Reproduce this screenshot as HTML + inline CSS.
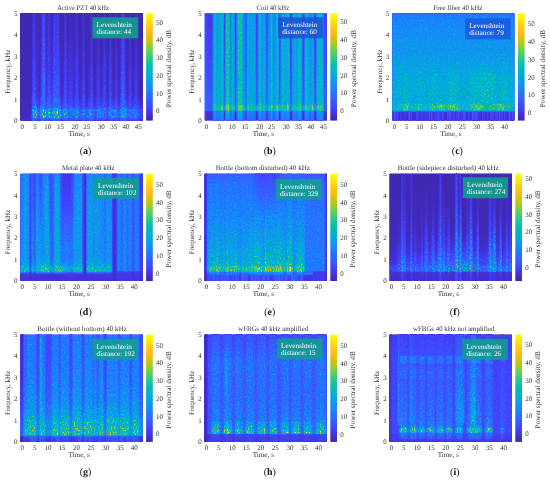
<!DOCTYPE html><html><head><meta charset="utf-8"><title>Spectrograms</title><style>html,body{margin:0;padding:0;background:#fff}svg{display:block}text{font-family:"Liberation Serif","DejaVu Serif",serif;fill:#333;text-rendering:geometricPrecision}</style></head><body>
<svg width="550" height="483" viewBox="0 0 550 483">
<defs>
<linearGradient id="cb" x1="0" y1="0" x2="0" y2="1"><stop offset="0.000" stop-color="#ffff00"/><stop offset="0.062" stop-color="#fde701"/><stop offset="0.125" stop-color="#ffca12"/><stop offset="0.188" stop-color="#fcba1a"/><stop offset="0.250" stop-color="#cdc40b"/><stop offset="0.312" stop-color="#8dcf34"/><stop offset="0.375" stop-color="#4acf69"/><stop offset="0.438" stop-color="#1dc795"/><stop offset="0.500" stop-color="#00bcb7"/><stop offset="0.562" stop-color="#00b1d5"/><stop offset="0.625" stop-color="#0b9fe8"/><stop offset="0.688" stop-color="#188af8"/><stop offset="0.750" stop-color="#2373ff"/><stop offset="0.812" stop-color="#395aff"/><stop offset="0.875" stop-color="#4045fc"/><stop offset="0.938" stop-color="#4233db"/><stop offset="1.000" stop-color="#3e26a8"/></linearGradient>
<filter id="f0" filterUnits="userSpaceOnUse" x="20.4" y="13.3" width="122.4" height="107.3" color-interpolation-filters="sRGB"><feTurbulence type="fractalNoise" baseFrequency="0.7 0.5" numOctaves="2" seed="1" result="t"/><feColorMatrix in="t" type="matrix" values="2 0 0 0 -0.5 2 0 0 0 -0.5 2 0 0 0 -0.5 0 0 0 0 1" result="n0"/><feComponentTransfer in="n0" result="n"><feFuncR type="gamma" exponent="3.00"/><feFuncG type="gamma" exponent="3.00"/><feFuncB type="gamma" exponent="3.00"/></feComponentTransfer><feComposite in="SourceGraphic" in2="n0" operator="arithmetic" k1="0.400" k2="0.800" k3="0.000" k4="-0.000" result="L"/><feComposite in="SourceGraphic" in2="SourceGraphic" operator="arithmetic" k1="1" k2="0" k3="0" k4="0" result="sq"/><feComposite in="sq" in2="n" operator="arithmetic" k1="2.400" k2="0" k3="0" k4="0" result="ng"/><feComposite in="L" in2="sq" operator="arithmetic" k1="0" k2="1" k3="-0.4896" k4="0.4896" result="B"/><feComposite in="B" in2="ng" operator="arithmetic" k1="0" k2="1" k3="1" k4="-0.4896" result="g"/><feGaussianBlur in="g" stdDeviation="0.18" result="b"/><feComponentTransfer in="b"><feFuncR type="table" tableValues="0.242 0.249 0.254 0.258 0.260 0.261 0.259 0.256 0.251 0.244 0.237 0.231 0.221 0.208 0.187 0.159 0.130 0.114 0.106 0.102 0.091 0.073 0.063 0.052 0.036 0.019 0.000 0.000 0.000 0.000 0.000 0.000 0.000 0.044 0.078 0.102 0.127 0.162 0.211 0.269 0.327 0.392 0.462 0.531 0.600 0.668 0.732 0.791 0.846 0.897 0.944 0.985 1.000 1.000 1.000 1.000 1.000 1.000 1.000 0.991 0.986 0.987 0.990 0.998"/><feFuncG type="table" tableValues="0.150 0.162 0.175 0.188 0.201 0.217 0.235 0.253 0.272 0.291 0.312 0.334 0.357 0.381 0.406 0.433 0.459 0.483 0.506 0.528 0.549 0.571 0.591 0.611 0.630 0.649 0.667 0.685 0.701 0.716 0.727 0.736 0.742 0.750 0.762 0.774 0.787 0.798 0.806 0.812 0.816 0.817 0.816 0.812 0.806 0.799 0.787 0.774 0.760 0.747 0.736 0.728 0.726 0.740 0.764 0.790 0.818 0.846 0.875 0.903 0.930 0.956 0.982 1.000"/><feFuncB type="table" tableValues="0.660 0.713 0.763 0.814 0.862 0.903 0.937 0.966 0.991 1.000 1.000 1.000 1.000 1.000 1.000 1.000 1.000 1.000 1.000 0.986 0.966 0.949 0.932 0.918 0.907 0.892 0.873 0.850 0.825 0.797 0.767 0.734 0.699 0.665 0.633 0.600 0.564 0.523 0.479 0.432 0.380 0.327 0.275 0.222 0.169 0.121 0.081 0.048 0.033 0.038 0.058 0.095 0.128 0.122 0.098 0.075 0.055 0.038 0.021 0.006 0.000 0.000 0.000 0.000"/></feComponentTransfer></filter><linearGradient id="g0_0" gradientUnits="userSpaceOnUse" x1="0" y1="13.3" x2="0" y2="120.6"><stop offset="0.000" stop-color="#030303"/><stop offset="0.800" stop-color="#050505"/><stop offset="0.984" stop-color="#080808"/><stop offset="1.000" stop-color="#141414"/></linearGradient><linearGradient id="g0_1" gradientUnits="userSpaceOnUse" x1="0" y1="13.3" x2="0" y2="120.6"><stop offset="0.000" stop-color="#454545" stop-opacity="0.60"/><stop offset="0.400" stop-color="#474747" stop-opacity="0.70"/><stop offset="0.600" stop-color="#4a4a4a" stop-opacity="0.80"/><stop offset="0.800" stop-color="#4d4d4d" stop-opacity="0.95"/><stop offset="1.000" stop-color="#4d4d4d"/></linearGradient><linearGradient id="g0_2" gradientUnits="userSpaceOnUse" x1="0" y1="13.3" x2="0" y2="120.6"><stop offset="0.200" stop-color="#333333" stop-opacity="0.00"/><stop offset="0.400" stop-color="#333333" stop-opacity="0.20"/><stop offset="0.600" stop-color="#383838" stop-opacity="0.40"/><stop offset="0.800" stop-color="#404040" stop-opacity="0.60"/><stop offset="1.000" stop-color="#404040" stop-opacity="0.70"/></linearGradient><linearGradient id="g0_3" gradientUnits="userSpaceOnUse" x1="0" y1="13.3" x2="0" y2="120.6"><stop offset="0.760" stop-color="#404040" stop-opacity="0.00"/><stop offset="0.860" stop-color="#4d4d4d" stop-opacity="0.50"/><stop offset="0.890" stop-color="#5c5c5c"/><stop offset="0.900" stop-color="#808080"/><stop offset="0.970" stop-color="#808080"/><stop offset="0.984" stop-color="#404040"/><stop offset="1.000" stop-color="#333333"/></linearGradient><filter id="f1" filterUnits="userSpaceOnUse" x="204.6" y="13.3" width="122.4" height="107.3" color-interpolation-filters="sRGB"><feTurbulence type="fractalNoise" baseFrequency="0.7 0.5" numOctaves="2" seed="2" result="t"/><feColorMatrix in="t" type="matrix" values="2 0 0 0 -0.5 2 0 0 0 -0.5 2 0 0 0 -0.5 0 0 0 0 1" result="n0"/><feComponentTransfer in="n0" result="n"><feFuncR type="gamma" exponent="3.00"/><feFuncG type="gamma" exponent="3.00"/><feFuncB type="gamma" exponent="3.00"/></feComponentTransfer><feComposite in="SourceGraphic" in2="n0" operator="arithmetic" k1="0.120" k2="0.940" k3="0.020" k4="-0.010" result="L"/><feComposite in="SourceGraphic" in2="SourceGraphic" operator="arithmetic" k1="1" k2="0" k3="0" k4="0" result="sq"/><feComposite in="sq" in2="n" operator="arithmetic" k1="0.250" k2="0" k3="0" k4="0" result="ng"/><feComposite in="L" in2="sq" operator="arithmetic" k1="0" k2="1" k3="-0.0510" k4="0.0510" result="B"/><feComposite in="B" in2="ng" operator="arithmetic" k1="0" k2="1" k3="1" k4="-0.0510" result="g"/><feGaussianBlur in="g" stdDeviation="0.25" result="b"/><feComponentTransfer in="b"><feFuncR type="table" tableValues="0.242 0.249 0.254 0.258 0.260 0.261 0.259 0.256 0.251 0.244 0.237 0.231 0.221 0.208 0.187 0.159 0.130 0.114 0.106 0.102 0.091 0.073 0.063 0.052 0.036 0.019 0.000 0.000 0.000 0.000 0.000 0.000 0.000 0.044 0.078 0.102 0.127 0.162 0.211 0.269 0.327 0.392 0.462 0.531 0.600 0.668 0.732 0.791 0.846 0.897 0.944 0.985 1.000 1.000 1.000 1.000 1.000 1.000 1.000 0.991 0.986 0.987 0.990 0.998"/><feFuncG type="table" tableValues="0.150 0.162 0.175 0.188 0.201 0.217 0.235 0.253 0.272 0.291 0.312 0.334 0.357 0.381 0.406 0.433 0.459 0.483 0.506 0.528 0.549 0.571 0.591 0.611 0.630 0.649 0.667 0.685 0.701 0.716 0.727 0.736 0.742 0.750 0.762 0.774 0.787 0.798 0.806 0.812 0.816 0.817 0.816 0.812 0.806 0.799 0.787 0.774 0.760 0.747 0.736 0.728 0.726 0.740 0.764 0.790 0.818 0.846 0.875 0.903 0.930 0.956 0.982 1.000"/><feFuncB type="table" tableValues="0.660 0.713 0.763 0.814 0.862 0.903 0.937 0.966 0.991 1.000 1.000 1.000 1.000 1.000 1.000 1.000 1.000 1.000 1.000 0.986 0.966 0.949 0.932 0.918 0.907 0.892 0.873 0.850 0.825 0.797 0.767 0.734 0.699 0.665 0.633 0.600 0.564 0.523 0.479 0.432 0.380 0.327 0.275 0.222 0.169 0.121 0.081 0.048 0.033 0.038 0.058 0.095 0.128 0.122 0.098 0.075 0.055 0.038 0.021 0.006 0.000 0.000 0.000 0.000"/></feComponentTransfer></filter><linearGradient id="g1_0" gradientUnits="userSpaceOnUse" x1="0" y1="13.3" x2="0" y2="120.6"><stop offset="0.000" stop-color="#171717"/><stop offset="0.400" stop-color="#1f1f1f"/><stop offset="0.800" stop-color="#303030"/><stop offset="0.906" stop-color="#333333"/><stop offset="0.918" stop-color="#0d0d0d"/><stop offset="1.000" stop-color="#0b0b0b"/></linearGradient><linearGradient id="g1_1" gradientUnits="userSpaceOnUse" x1="0" y1="13.3" x2="0" y2="120.6"><stop offset="0.000" stop-color="#878787"/><stop offset="0.800" stop-color="#878787"/><stop offset="0.850" stop-color="#8c8c8c"/><stop offset="0.868" stop-color="#9e9e9e"/><stop offset="0.900" stop-color="#9e9e9e"/><stop offset="0.916" stop-color="#6b6b6b"/><stop offset="1.000" stop-color="#5c5c5c"/></linearGradient><linearGradient id="g1_2" gradientUnits="userSpaceOnUse" x1="0" y1="13.3" x2="0" y2="120.6"><stop offset="0.840" stop-color="#cccccc" stop-opacity="0.00"/><stop offset="0.868" stop-color="#cccccc" stop-opacity="0.50"/><stop offset="0.900" stop-color="#cccccc" stop-opacity="0.50"/><stop offset="0.912" stop-color="#cccccc" stop-opacity="0.00"/></linearGradient><filter id="f2" filterUnits="userSpaceOnUse" x="392.2" y="13.3" width="122.4" height="107.3" color-interpolation-filters="sRGB"><feTurbulence type="fractalNoise" baseFrequency="0.7 0.5" numOctaves="2" seed="3" result="t"/><feColorMatrix in="t" type="matrix" values="2 0 0 0 -0.5 2 0 0 0 -0.5 2 0 0 0 -0.5 0 0 0 0 1" result="n0"/><feComponentTransfer in="n0" result="n"><feFuncR type="gamma" exponent="3.00"/><feFuncG type="gamma" exponent="3.00"/><feFuncB type="gamma" exponent="3.00"/></feComponentTransfer><feComposite in="SourceGraphic" in2="n0" operator="arithmetic" k1="0.120" k2="0.940" k3="0.020" k4="-0.010" result="L"/><feComposite in="SourceGraphic" in2="SourceGraphic" operator="arithmetic" k1="1" k2="0" k3="0" k4="0" result="sq"/><feComposite in="sq" in2="n" operator="arithmetic" k1="0.600" k2="0" k3="0" k4="0" result="ng"/><feComposite in="L" in2="sq" operator="arithmetic" k1="0" k2="1" k3="-0.1224" k4="0.1224" result="B"/><feComposite in="B" in2="ng" operator="arithmetic" k1="0" k2="1" k3="1" k4="-0.1224" result="g"/><feGaussianBlur in="g" stdDeviation="0.25" result="b"/><feComponentTransfer in="b"><feFuncR type="table" tableValues="0.242 0.249 0.254 0.258 0.260 0.261 0.259 0.256 0.251 0.244 0.237 0.231 0.221 0.208 0.187 0.159 0.130 0.114 0.106 0.102 0.091 0.073 0.063 0.052 0.036 0.019 0.000 0.000 0.000 0.000 0.000 0.000 0.000 0.044 0.078 0.102 0.127 0.162 0.211 0.269 0.327 0.392 0.462 0.531 0.600 0.668 0.732 0.791 0.846 0.897 0.944 0.985 1.000 1.000 1.000 1.000 1.000 1.000 1.000 0.991 0.986 0.987 0.990 0.998"/><feFuncG type="table" tableValues="0.150 0.162 0.175 0.188 0.201 0.217 0.235 0.253 0.272 0.291 0.312 0.334 0.357 0.381 0.406 0.433 0.459 0.483 0.506 0.528 0.549 0.571 0.591 0.611 0.630 0.649 0.667 0.685 0.701 0.716 0.727 0.736 0.742 0.750 0.762 0.774 0.787 0.798 0.806 0.812 0.816 0.817 0.816 0.812 0.806 0.799 0.787 0.774 0.760 0.747 0.736 0.728 0.726 0.740 0.764 0.790 0.818 0.846 0.875 0.903 0.930 0.956 0.982 1.000"/><feFuncB type="table" tableValues="0.660 0.713 0.763 0.814 0.862 0.903 0.937 0.966 0.991 1.000 1.000 1.000 1.000 1.000 1.000 1.000 1.000 1.000 1.000 0.986 0.966 0.949 0.932 0.918 0.907 0.892 0.873 0.850 0.825 0.797 0.767 0.734 0.699 0.665 0.633 0.600 0.564 0.523 0.479 0.432 0.380 0.327 0.275 0.222 0.169 0.121 0.081 0.048 0.033 0.038 0.058 0.095 0.128 0.122 0.098 0.075 0.055 0.038 0.021 0.006 0.000 0.000 0.000 0.000"/></feComponentTransfer></filter><linearGradient id="g2_0" gradientUnits="userSpaceOnUse" x1="0" y1="13.3" x2="0" y2="120.6"><stop offset="0.000" stop-color="#424242"/><stop offset="0.080" stop-color="#4d4d4d"/><stop offset="0.200" stop-color="#545454"/><stop offset="0.400" stop-color="#5c5c5c"/><stop offset="0.600" stop-color="#636363"/><stop offset="0.700" stop-color="#666666"/><stop offset="0.900" stop-color="#666666"/><stop offset="0.912" stop-color="#4d4d4d"/><stop offset="0.920" stop-color="#0d0d0d"/><stop offset="1.000" stop-color="#080808"/></linearGradient><linearGradient id="g2_1" gradientUnits="userSpaceOnUse" x1="0" y1="13.3" x2="0" y2="120.6"><stop offset="0.000" stop-color="#808080" stop-opacity="0.00"/><stop offset="0.440" stop-color="#808080" stop-opacity="0.00"/><stop offset="0.600" stop-color="#858585" stop-opacity="0.80"/><stop offset="0.820" stop-color="#858585" stop-opacity="0.80"/><stop offset="0.840" stop-color="#808080" stop-opacity="0.00"/></linearGradient><linearGradient id="g2_2" gradientUnits="userSpaceOnUse" x1="0" y1="13.3" x2="0" y2="120.6"><stop offset="0.830" stop-color="#999999" stop-opacity="0.00"/><stop offset="0.856" stop-color="#999999"/><stop offset="0.900" stop-color="#999999"/><stop offset="0.912" stop-color="#808080" stop-opacity="0.00"/></linearGradient><linearGradient id="g2_3" gradientUnits="userSpaceOnUse" x1="0" y1="13.3" x2="0" y2="120.6"><stop offset="0.916" stop-color="#333333" stop-opacity="0.00"/><stop offset="0.924" stop-color="#404040"/><stop offset="1.000" stop-color="#383838"/></linearGradient><filter id="f3" filterUnits="userSpaceOnUse" x="20.4" y="173.7" width="122.4" height="107.3" color-interpolation-filters="sRGB"><feTurbulence type="fractalNoise" baseFrequency="0.7 0.5" numOctaves="2" seed="4" result="t"/><feColorMatrix in="t" type="matrix" values="2 0 0 0 -0.5 2 0 0 0 -0.5 2 0 0 0 -0.5 0 0 0 0 1" result="n0"/><feComponentTransfer in="n0" result="n"><feFuncR type="gamma" exponent="3.00"/><feFuncG type="gamma" exponent="3.00"/><feFuncB type="gamma" exponent="3.00"/></feComponentTransfer><feComposite in="SourceGraphic" in2="n0" operator="arithmetic" k1="0.120" k2="0.940" k3="0.015" k4="-0.007" result="L"/><feComposite in="SourceGraphic" in2="SourceGraphic" operator="arithmetic" k1="1" k2="0" k3="0" k4="0" result="sq"/><feComposite in="sq" in2="n" operator="arithmetic" k1="0.800" k2="0" k3="0" k4="0" result="ng"/><feComposite in="L" in2="sq" operator="arithmetic" k1="0" k2="1" k3="-0.1632" k4="0.1632" result="B"/><feComposite in="B" in2="ng" operator="arithmetic" k1="0" k2="1" k3="1" k4="-0.1632" result="g"/><feGaussianBlur in="g" stdDeviation="0.25" result="b"/><feComponentTransfer in="b"><feFuncR type="table" tableValues="0.242 0.249 0.254 0.258 0.260 0.261 0.259 0.256 0.251 0.244 0.237 0.231 0.221 0.208 0.187 0.159 0.130 0.114 0.106 0.102 0.091 0.073 0.063 0.052 0.036 0.019 0.000 0.000 0.000 0.000 0.000 0.000 0.000 0.044 0.078 0.102 0.127 0.162 0.211 0.269 0.327 0.392 0.462 0.531 0.600 0.668 0.732 0.791 0.846 0.897 0.944 0.985 1.000 1.000 1.000 1.000 1.000 1.000 1.000 0.991 0.986 0.987 0.990 0.998"/><feFuncG type="table" tableValues="0.150 0.162 0.175 0.188 0.201 0.217 0.235 0.253 0.272 0.291 0.312 0.334 0.357 0.381 0.406 0.433 0.459 0.483 0.506 0.528 0.549 0.571 0.591 0.611 0.630 0.649 0.667 0.685 0.701 0.716 0.727 0.736 0.742 0.750 0.762 0.774 0.787 0.798 0.806 0.812 0.816 0.817 0.816 0.812 0.806 0.799 0.787 0.774 0.760 0.747 0.736 0.728 0.726 0.740 0.764 0.790 0.818 0.846 0.875 0.903 0.930 0.956 0.982 1.000"/><feFuncB type="table" tableValues="0.660 0.713 0.763 0.814 0.862 0.903 0.937 0.966 0.991 1.000 1.000 1.000 1.000 1.000 1.000 1.000 1.000 1.000 1.000 0.986 0.966 0.949 0.932 0.918 0.907 0.892 0.873 0.850 0.825 0.797 0.767 0.734 0.699 0.665 0.633 0.600 0.564 0.523 0.479 0.432 0.380 0.327 0.275 0.222 0.169 0.121 0.081 0.048 0.033 0.038 0.058 0.095 0.128 0.122 0.098 0.075 0.055 0.038 0.021 0.006 0.000 0.000 0.000 0.000"/></feComponentTransfer></filter><linearGradient id="g3_0" gradientUnits="userSpaceOnUse" x1="0" y1="173.7" x2="0" y2="281.0"><stop offset="0.000" stop-color="#404040"/><stop offset="0.900" stop-color="#454545"/><stop offset="0.916" stop-color="#1a1a1a"/><stop offset="1.000" stop-color="#131313"/></linearGradient><linearGradient id="g3_1" gradientUnits="userSpaceOnUse" x1="0" y1="173.7" x2="0" y2="281.0"><stop offset="0.000" stop-color="#5c5c5c"/><stop offset="0.200" stop-color="#6b6b6b"/><stop offset="0.400" stop-color="#737373"/><stop offset="0.800" stop-color="#737373"/><stop offset="0.916" stop-color="#737373"/><stop offset="0.924" stop-color="#333333" stop-opacity="0.00"/></linearGradient><linearGradient id="g3_2" gradientUnits="userSpaceOnUse" x1="0" y1="173.7" x2="0" y2="281.0"><stop offset="0.780" stop-color="#808080" stop-opacity="0.00"/><stop offset="0.856" stop-color="#808080" stop-opacity="0.50"/><stop offset="0.868" stop-color="#8f8f8f"/><stop offset="0.910" stop-color="#8f8f8f"/><stop offset="0.920" stop-color="#4d4d4d"/><stop offset="0.940" stop-color="#0f0f0f"/><stop offset="1.000" stop-color="#0d0d0d"/></linearGradient><linearGradient id="g3_3" gradientUnits="userSpaceOnUse" x1="0" y1="173.7" x2="0" y2="281.0"><stop offset="0.000" stop-color="#141414"/><stop offset="0.300" stop-color="#1a1a1a" stop-opacity="0.80"/><stop offset="0.500" stop-color="#242424" stop-opacity="0.40"/><stop offset="0.700" stop-color="#262626" stop-opacity="0.00"/></linearGradient><linearGradient id="g3_4" gradientUnits="userSpaceOnUse" x1="0" y1="173.7" x2="0" y2="281.0"><stop offset="0.000" stop-color="#0f0f0f"/><stop offset="1.000" stop-color="#0d0d0d"/></linearGradient><filter id="f4" filterUnits="userSpaceOnUse" x="204.6" y="173.7" width="122.4" height="107.3" color-interpolation-filters="sRGB"><feTurbulence type="fractalNoise" baseFrequency="0.7 0.5" numOctaves="2" seed="5" result="t"/><feColorMatrix in="t" type="matrix" values="2 0 0 0 -0.5 2 0 0 0 -0.5 2 0 0 0 -0.5 0 0 0 0 1" result="n0"/><feComponentTransfer in="n0" result="n"><feFuncR type="gamma" exponent="3.00"/><feFuncG type="gamma" exponent="3.00"/><feFuncB type="gamma" exponent="3.00"/></feComponentTransfer><feComposite in="SourceGraphic" in2="n0" operator="arithmetic" k1="0.150" k2="0.925" k3="0.020" k4="-0.010" result="L"/><feComposite in="SourceGraphic" in2="SourceGraphic" operator="arithmetic" k1="1" k2="0" k3="0" k4="0" result="sq"/><feComposite in="sq" in2="n" operator="arithmetic" k1="0.750" k2="0" k3="0" k4="0" result="ng"/><feComposite in="L" in2="sq" operator="arithmetic" k1="0" k2="1" k3="-0.1530" k4="0.1530" result="B"/><feComposite in="B" in2="ng" operator="arithmetic" k1="0" k2="1" k3="1" k4="-0.1530" result="g"/><feGaussianBlur in="g" stdDeviation="0.25" result="b"/><feComponentTransfer in="b"><feFuncR type="table" tableValues="0.242 0.249 0.254 0.258 0.260 0.261 0.259 0.256 0.251 0.244 0.237 0.231 0.221 0.208 0.187 0.159 0.130 0.114 0.106 0.102 0.091 0.073 0.063 0.052 0.036 0.019 0.000 0.000 0.000 0.000 0.000 0.000 0.000 0.044 0.078 0.102 0.127 0.162 0.211 0.269 0.327 0.392 0.462 0.531 0.600 0.668 0.732 0.791 0.846 0.897 0.944 0.985 1.000 1.000 1.000 1.000 1.000 1.000 1.000 0.991 0.986 0.987 0.990 0.998"/><feFuncG type="table" tableValues="0.150 0.162 0.175 0.188 0.201 0.217 0.235 0.253 0.272 0.291 0.312 0.334 0.357 0.381 0.406 0.433 0.459 0.483 0.506 0.528 0.549 0.571 0.591 0.611 0.630 0.649 0.667 0.685 0.701 0.716 0.727 0.736 0.742 0.750 0.762 0.774 0.787 0.798 0.806 0.812 0.816 0.817 0.816 0.812 0.806 0.799 0.787 0.774 0.760 0.747 0.736 0.728 0.726 0.740 0.764 0.790 0.818 0.846 0.875 0.903 0.930 0.956 0.982 1.000"/><feFuncB type="table" tableValues="0.660 0.713 0.763 0.814 0.862 0.903 0.937 0.966 0.991 1.000 1.000 1.000 1.000 1.000 1.000 1.000 1.000 1.000 1.000 0.986 0.966 0.949 0.932 0.918 0.907 0.892 0.873 0.850 0.825 0.797 0.767 0.734 0.699 0.665 0.633 0.600 0.564 0.523 0.479 0.432 0.380 0.327 0.275 0.222 0.169 0.121 0.081 0.048 0.033 0.038 0.058 0.095 0.128 0.122 0.098 0.075 0.055 0.038 0.021 0.006 0.000 0.000 0.000 0.000"/></feComponentTransfer></filter><linearGradient id="g4_0" gradientUnits="userSpaceOnUse" x1="0" y1="173.7" x2="0" y2="281.0"><stop offset="0.000" stop-color="#2b2b2b"/><stop offset="0.100" stop-color="#383838"/><stop offset="0.400" stop-color="#404040"/><stop offset="0.800" stop-color="#454545"/><stop offset="0.900" stop-color="#454545"/><stop offset="0.914" stop-color="#1a1a1a"/><stop offset="1.000" stop-color="#141414"/></linearGradient><linearGradient id="g4_1" gradientUnits="userSpaceOnUse" x1="0" y1="173.7" x2="0" y2="281.0"><stop offset="0.000" stop-color="#383838"/><stop offset="0.100" stop-color="#474747"/><stop offset="0.400" stop-color="#575757"/><stop offset="0.600" stop-color="#6e6e6e"/><stop offset="0.760" stop-color="#858585"/><stop offset="0.820" stop-color="#8f8f8f"/><stop offset="0.860" stop-color="#999999"/><stop offset="0.872" stop-color="#cccccc"/><stop offset="0.910" stop-color="#cccccc"/><stop offset="0.920" stop-color="#737373"/><stop offset="0.940" stop-color="#525252"/><stop offset="0.950" stop-color="#1a1a1a"/><stop offset="1.000" stop-color="#121212"/></linearGradient><linearGradient id="g4_2" gradientUnits="userSpaceOnUse" x1="0" y1="173.7" x2="0" y2="281.0"><stop offset="0.000" stop-color="#1a1a1a"/><stop offset="0.200" stop-color="#1f1f1f" stop-opacity="0.60"/><stop offset="0.400" stop-color="#262626" stop-opacity="0.00"/></linearGradient><linearGradient id="g4_3" gradientUnits="userSpaceOnUse" x1="0" y1="173.7" x2="0" y2="281.0"><stop offset="0.900" stop-color="#4d4d4d" stop-opacity="0.00"/><stop offset="0.910" stop-color="#4d4d4d" stop-opacity="0.80"/><stop offset="0.944" stop-color="#404040" stop-opacity="0.80"/><stop offset="0.946" stop-color="#121212"/><stop offset="1.000" stop-color="#121212"/></linearGradient><linearGradient id="g4_4" gradientUnits="userSpaceOnUse" x1="0" y1="173.7" x2="0" y2="281.0"><stop offset="0.940" stop-color="#333333" stop-opacity="0.00"/><stop offset="0.948" stop-color="#404040"/><stop offset="1.000" stop-color="#404040"/></linearGradient><linearGradient id="g4_5" gradientUnits="userSpaceOnUse" x1="0" y1="173.7" x2="0" y2="281.0"><stop offset="0.000" stop-color="#080808"/><stop offset="1.000" stop-color="#080808"/></linearGradient><filter id="f5" filterUnits="userSpaceOnUse" x="389.6" y="173.7" width="122.4" height="107.3" color-interpolation-filters="sRGB"><feTurbulence type="fractalNoise" baseFrequency="0.7 0.5" numOctaves="2" seed="6" result="t"/><feColorMatrix in="t" type="matrix" values="2 0 0 0 -0.5 2 0 0 0 -0.5 2 0 0 0 -0.5 0 0 0 0 1" result="n0"/><feComponentTransfer in="n0" result="n"><feFuncR type="gamma" exponent="3.00"/><feFuncG type="gamma" exponent="3.00"/><feFuncB type="gamma" exponent="3.00"/></feComponentTransfer><feComposite in="SourceGraphic" in2="n0" operator="arithmetic" k1="0.400" k2="0.800" k3="0.000" k4="-0.000" result="L"/><feComposite in="SourceGraphic" in2="SourceGraphic" operator="arithmetic" k1="1" k2="0" k3="0" k4="0" result="sq"/><feComposite in="sq" in2="n" operator="arithmetic" k1="2.400" k2="0" k3="0" k4="0" result="ng"/><feComposite in="L" in2="sq" operator="arithmetic" k1="0" k2="1" k3="-0.4896" k4="0.4896" result="B"/><feComposite in="B" in2="ng" operator="arithmetic" k1="0" k2="1" k3="1" k4="-0.4896" result="g"/><feGaussianBlur in="g" stdDeviation="0.18" result="b"/><feComponentTransfer in="b"><feFuncR type="table" tableValues="0.242 0.249 0.254 0.258 0.260 0.261 0.259 0.256 0.251 0.244 0.237 0.231 0.221 0.208 0.187 0.159 0.130 0.114 0.106 0.102 0.091 0.073 0.063 0.052 0.036 0.019 0.000 0.000 0.000 0.000 0.000 0.000 0.000 0.044 0.078 0.102 0.127 0.162 0.211 0.269 0.327 0.392 0.462 0.531 0.600 0.668 0.732 0.791 0.846 0.897 0.944 0.985 1.000 1.000 1.000 1.000 1.000 1.000 1.000 0.991 0.986 0.987 0.990 0.998"/><feFuncG type="table" tableValues="0.150 0.162 0.175 0.188 0.201 0.217 0.235 0.253 0.272 0.291 0.312 0.334 0.357 0.381 0.406 0.433 0.459 0.483 0.506 0.528 0.549 0.571 0.591 0.611 0.630 0.649 0.667 0.685 0.701 0.716 0.727 0.736 0.742 0.750 0.762 0.774 0.787 0.798 0.806 0.812 0.816 0.817 0.816 0.812 0.806 0.799 0.787 0.774 0.760 0.747 0.736 0.728 0.726 0.740 0.764 0.790 0.818 0.846 0.875 0.903 0.930 0.956 0.982 1.000"/><feFuncB type="table" tableValues="0.660 0.713 0.763 0.814 0.862 0.903 0.937 0.966 0.991 1.000 1.000 1.000 1.000 1.000 1.000 1.000 1.000 1.000 1.000 0.986 0.966 0.949 0.932 0.918 0.907 0.892 0.873 0.850 0.825 0.797 0.767 0.734 0.699 0.665 0.633 0.600 0.564 0.523 0.479 0.432 0.380 0.327 0.275 0.222 0.169 0.121 0.081 0.048 0.033 0.038 0.058 0.095 0.128 0.122 0.098 0.075 0.055 0.038 0.021 0.006 0.000 0.000 0.000 0.000"/></feComponentTransfer></filter><linearGradient id="g5_0" gradientUnits="userSpaceOnUse" x1="0" y1="173.7" x2="0" y2="281.0"><stop offset="0.000" stop-color="#030303"/><stop offset="0.700" stop-color="#050505"/><stop offset="0.850" stop-color="#0d0d0d"/><stop offset="0.872" stop-color="#1a1a1a"/><stop offset="0.908" stop-color="#1a1a1a"/><stop offset="0.916" stop-color="#0e0e0e"/><stop offset="1.000" stop-color="#0a0a0a"/></linearGradient><linearGradient id="g5_1" gradientUnits="userSpaceOnUse" x1="0" y1="173.7" x2="0" y2="281.0"><stop offset="0.000" stop-color="#333333"/><stop offset="1.000" stop-color="#333333"/></linearGradient><linearGradient id="g5_2" gradientUnits="userSpaceOnUse" x1="0" y1="173.7" x2="0" y2="281.0"><stop offset="0.000" stop-color="#404040" stop-opacity="0.00"/><stop offset="0.300" stop-color="#474747" stop-opacity="0.20"/><stop offset="0.500" stop-color="#545454" stop-opacity="0.50"/><stop offset="0.600" stop-color="#5c5c5c" stop-opacity="0.70"/><stop offset="0.800" stop-color="#737373"/><stop offset="0.880" stop-color="#8c8c8c"/><stop offset="0.910" stop-color="#8c8c8c"/><stop offset="0.920" stop-color="#333333" stop-opacity="0.50"/><stop offset="1.000" stop-color="#1f1f1f" stop-opacity="0.30"/></linearGradient><linearGradient id="g5_3" gradientUnits="userSpaceOnUse" x1="0" y1="173.7" x2="0" y2="281.0"><stop offset="0.560" stop-color="#404040" stop-opacity="0.00"/><stop offset="0.720" stop-color="#474747" stop-opacity="0.30"/><stop offset="0.840" stop-color="#545454" stop-opacity="0.70"/><stop offset="0.872" stop-color="#5c5c5c" stop-opacity="0.85"/><stop offset="0.908" stop-color="#5c5c5c" stop-opacity="0.85"/><stop offset="0.916" stop-color="#4d4d4d" stop-opacity="0.00"/></linearGradient><filter id="f6" filterUnits="userSpaceOnUse" x="20.4" y="334.6" width="122.4" height="107.3" color-interpolation-filters="sRGB"><feTurbulence type="fractalNoise" baseFrequency="0.7 0.5" numOctaves="2" seed="7" result="t"/><feColorMatrix in="t" type="matrix" values="2 0 0 0 -0.5 2 0 0 0 -0.5 2 0 0 0 -0.5 0 0 0 0 1" result="n0"/><feComponentTransfer in="n0" result="n"><feFuncR type="gamma" exponent="3.00"/><feFuncG type="gamma" exponent="3.00"/><feFuncB type="gamma" exponent="3.00"/></feComponentTransfer><feComposite in="SourceGraphic" in2="n0" operator="arithmetic" k1="0.120" k2="0.940" k3="0.020" k4="-0.010" result="L"/><feComposite in="SourceGraphic" in2="SourceGraphic" operator="arithmetic" k1="1" k2="0" k3="0" k4="0" result="sq"/><feComposite in="sq" in2="n" operator="arithmetic" k1="1.300" k2="0" k3="0" k4="0" result="ng"/><feComposite in="L" in2="sq" operator="arithmetic" k1="0" k2="1" k3="-0.2652" k4="0.2652" result="B"/><feComposite in="B" in2="ng" operator="arithmetic" k1="0" k2="1" k3="1" k4="-0.2652" result="g"/><feGaussianBlur in="g" stdDeviation="0.25" result="b"/><feComponentTransfer in="b"><feFuncR type="table" tableValues="0.242 0.249 0.254 0.258 0.260 0.261 0.259 0.256 0.251 0.244 0.237 0.231 0.221 0.208 0.187 0.159 0.130 0.114 0.106 0.102 0.091 0.073 0.063 0.052 0.036 0.019 0.000 0.000 0.000 0.000 0.000 0.000 0.000 0.044 0.078 0.102 0.127 0.162 0.211 0.269 0.327 0.392 0.462 0.531 0.600 0.668 0.732 0.791 0.846 0.897 0.944 0.985 1.000 1.000 1.000 1.000 1.000 1.000 1.000 0.991 0.986 0.987 0.990 0.998"/><feFuncG type="table" tableValues="0.150 0.162 0.175 0.188 0.201 0.217 0.235 0.253 0.272 0.291 0.312 0.334 0.357 0.381 0.406 0.433 0.459 0.483 0.506 0.528 0.549 0.571 0.591 0.611 0.630 0.649 0.667 0.685 0.701 0.716 0.727 0.736 0.742 0.750 0.762 0.774 0.787 0.798 0.806 0.812 0.816 0.817 0.816 0.812 0.806 0.799 0.787 0.774 0.760 0.747 0.736 0.728 0.726 0.740 0.764 0.790 0.818 0.846 0.875 0.903 0.930 0.956 0.982 1.000"/><feFuncB type="table" tableValues="0.660 0.713 0.763 0.814 0.862 0.903 0.937 0.966 0.991 1.000 1.000 1.000 1.000 1.000 1.000 1.000 1.000 1.000 1.000 0.986 0.966 0.949 0.932 0.918 0.907 0.892 0.873 0.850 0.825 0.797 0.767 0.734 0.699 0.665 0.633 0.600 0.564 0.523 0.479 0.432 0.380 0.327 0.275 0.222 0.169 0.121 0.081 0.048 0.033 0.038 0.058 0.095 0.128 0.122 0.098 0.075 0.055 0.038 0.021 0.006 0.000 0.000 0.000 0.000"/></feComponentTransfer></filter><linearGradient id="g6_0" gradientUnits="userSpaceOnUse" x1="0" y1="334.6" x2="0" y2="441.9"><stop offset="0.000" stop-color="#3d3d3d"/><stop offset="0.400" stop-color="#454545"/><stop offset="0.600" stop-color="#4f4f4f"/><stop offset="0.740" stop-color="#616161"/><stop offset="0.810" stop-color="#7a7a7a"/><stop offset="0.930" stop-color="#8c8c8c"/><stop offset="0.946" stop-color="#4d4d4d"/><stop offset="0.956" stop-color="#1a1a1a"/><stop offset="1.000" stop-color="#121212"/></linearGradient><linearGradient id="g6_1" gradientUnits="userSpaceOnUse" x1="0" y1="334.6" x2="0" y2="441.9"><stop offset="0.000" stop-color="#757575"/><stop offset="0.800" stop-color="#7a7a7a"/><stop offset="0.820" stop-color="#808080" stop-opacity="0.00"/></linearGradient><linearGradient id="g6_2" gradientUnits="userSpaceOnUse" x1="0" y1="334.6" x2="0" y2="441.9"><stop offset="0.000" stop-color="#080808"/><stop offset="0.400" stop-color="#0d0d0d"/><stop offset="0.600" stop-color="#141414"/><stop offset="0.800" stop-color="#262626"/><stop offset="0.940" stop-color="#2e2e2e"/><stop offset="0.950" stop-color="#0a0a0a"/><stop offset="1.000" stop-color="#080808"/></linearGradient><linearGradient id="g6_3" gradientUnits="userSpaceOnUse" x1="0" y1="334.6" x2="0" y2="441.9"><stop offset="0.940" stop-color="#333333" stop-opacity="0.00"/><stop offset="0.952" stop-color="#404040"/><stop offset="1.000" stop-color="#404040"/></linearGradient><filter id="f7" filterUnits="userSpaceOnUse" x="204.6" y="334.6" width="122.4" height="107.3" color-interpolation-filters="sRGB"><feTurbulence type="fractalNoise" baseFrequency="0.7 0.5" numOctaves="2" seed="8" result="t"/><feColorMatrix in="t" type="matrix" values="2 0 0 0 -0.5 2 0 0 0 -0.5 2 0 0 0 -0.5 0 0 0 0 1" result="n0"/><feComponentTransfer in="n0" result="n"><feFuncR type="gamma" exponent="3.00"/><feFuncG type="gamma" exponent="3.00"/><feFuncB type="gamma" exponent="3.00"/></feComponentTransfer><feComposite in="SourceGraphic" in2="n0" operator="arithmetic" k1="0.150" k2="0.925" k3="0.020" k4="-0.010" result="L"/><feComposite in="SourceGraphic" in2="SourceGraphic" operator="arithmetic" k1="1" k2="0" k3="0" k4="0" result="sq"/><feComposite in="sq" in2="n" operator="arithmetic" k1="1.500" k2="0" k3="0" k4="0" result="ng"/><feComposite in="L" in2="sq" operator="arithmetic" k1="0" k2="1" k3="-0.3060" k4="0.3060" result="B"/><feComposite in="B" in2="ng" operator="arithmetic" k1="0" k2="1" k3="1" k4="-0.3060" result="g"/><feGaussianBlur in="g" stdDeviation="0.25" result="b"/><feComponentTransfer in="b"><feFuncR type="table" tableValues="0.242 0.249 0.254 0.258 0.260 0.261 0.259 0.256 0.251 0.244 0.237 0.231 0.221 0.208 0.187 0.159 0.130 0.114 0.106 0.102 0.091 0.073 0.063 0.052 0.036 0.019 0.000 0.000 0.000 0.000 0.000 0.000 0.000 0.044 0.078 0.102 0.127 0.162 0.211 0.269 0.327 0.392 0.462 0.531 0.600 0.668 0.732 0.791 0.846 0.897 0.944 0.985 1.000 1.000 1.000 1.000 1.000 1.000 1.000 0.991 0.986 0.987 0.990 0.998"/><feFuncG type="table" tableValues="0.150 0.162 0.175 0.188 0.201 0.217 0.235 0.253 0.272 0.291 0.312 0.334 0.357 0.381 0.406 0.433 0.459 0.483 0.506 0.528 0.549 0.571 0.591 0.611 0.630 0.649 0.667 0.685 0.701 0.716 0.727 0.736 0.742 0.750 0.762 0.774 0.787 0.798 0.806 0.812 0.816 0.817 0.816 0.812 0.806 0.799 0.787 0.774 0.760 0.747 0.736 0.728 0.726 0.740 0.764 0.790 0.818 0.846 0.875 0.903 0.930 0.956 0.982 1.000"/><feFuncB type="table" tableValues="0.660 0.713 0.763 0.814 0.862 0.903 0.937 0.966 0.991 1.000 1.000 1.000 1.000 1.000 1.000 1.000 1.000 1.000 1.000 0.986 0.966 0.949 0.932 0.918 0.907 0.892 0.873 0.850 0.825 0.797 0.767 0.734 0.699 0.665 0.633 0.600 0.564 0.523 0.479 0.432 0.380 0.327 0.275 0.222 0.169 0.121 0.081 0.048 0.033 0.038 0.058 0.095 0.128 0.122 0.098 0.075 0.055 0.038 0.021 0.006 0.000 0.000 0.000 0.000"/></feComponentTransfer></filter><linearGradient id="g7_0" gradientUnits="userSpaceOnUse" x1="0" y1="334.6" x2="0" y2="441.9"><stop offset="0.000" stop-color="#1c1c1c"/><stop offset="0.200" stop-color="#262626"/><stop offset="0.260" stop-color="#2e2e2e"/><stop offset="0.400" stop-color="#292929"/><stop offset="0.800" stop-color="#2b2b2b"/><stop offset="0.920" stop-color="#2b2b2b"/><stop offset="0.932" stop-color="#171717"/><stop offset="1.000" stop-color="#131313"/></linearGradient><linearGradient id="g7_1" gradientUnits="userSpaceOnUse" x1="0" y1="334.6" x2="0" y2="441.9"><stop offset="0.000" stop-color="#303030"/><stop offset="0.120" stop-color="#3d3d3d"/><stop offset="0.220" stop-color="#474747"/><stop offset="0.300" stop-color="#4a4a4a"/><stop offset="0.600" stop-color="#474747"/><stop offset="0.800" stop-color="#545454"/><stop offset="0.820" stop-color="#737373"/><stop offset="0.860" stop-color="#858585"/><stop offset="0.876" stop-color="#808080"/><stop offset="0.888" stop-color="#a8a8a8"/><stop offset="0.920" stop-color="#a8a8a8"/><stop offset="0.932" stop-color="#262626"/><stop offset="1.000" stop-color="#1a1a1a"/></linearGradient><linearGradient id="g7_2" gradientUnits="userSpaceOnUse" x1="0" y1="334.6" x2="0" y2="441.9"><stop offset="0.160" stop-color="#666666" stop-opacity="0.00"/><stop offset="0.280" stop-color="#666666" stop-opacity="0.80"/><stop offset="0.480" stop-color="#666666" stop-opacity="0.80"/><stop offset="0.600" stop-color="#666666" stop-opacity="0.00"/></linearGradient><linearGradient id="g7_3" gradientUnits="userSpaceOnUse" x1="0" y1="334.6" x2="0" y2="441.9"><stop offset="0.000" stop-color="#050505"/><stop offset="1.000" stop-color="#050505"/></linearGradient><filter id="f8" filterUnits="userSpaceOnUse" x="389.6" y="334.6" width="122.4" height="107.3" color-interpolation-filters="sRGB"><feTurbulence type="fractalNoise" baseFrequency="0.7 0.5" numOctaves="2" seed="9" result="t"/><feColorMatrix in="t" type="matrix" values="2 0 0 0 -0.5 2 0 0 0 -0.5 2 0 0 0 -0.5 0 0 0 0 1" result="n0"/><feComponentTransfer in="n0" result="n"><feFuncR type="gamma" exponent="3.00"/><feFuncG type="gamma" exponent="3.00"/><feFuncB type="gamma" exponent="3.00"/></feComponentTransfer><feComposite in="SourceGraphic" in2="n0" operator="arithmetic" k1="0.150" k2="0.925" k3="0.020" k4="-0.010" result="L"/><feComposite in="SourceGraphic" in2="SourceGraphic" operator="arithmetic" k1="1" k2="0" k3="0" k4="0" result="sq"/><feComposite in="sq" in2="n" operator="arithmetic" k1="1.600" k2="0" k3="0" k4="0" result="ng"/><feComposite in="L" in2="sq" operator="arithmetic" k1="0" k2="1" k3="-0.3264" k4="0.3264" result="B"/><feComposite in="B" in2="ng" operator="arithmetic" k1="0" k2="1" k3="1" k4="-0.3264" result="g"/><feGaussianBlur in="g" stdDeviation="0.25" result="b"/><feComponentTransfer in="b"><feFuncR type="table" tableValues="0.242 0.249 0.254 0.258 0.260 0.261 0.259 0.256 0.251 0.244 0.237 0.231 0.221 0.208 0.187 0.159 0.130 0.114 0.106 0.102 0.091 0.073 0.063 0.052 0.036 0.019 0.000 0.000 0.000 0.000 0.000 0.000 0.000 0.044 0.078 0.102 0.127 0.162 0.211 0.269 0.327 0.392 0.462 0.531 0.600 0.668 0.732 0.791 0.846 0.897 0.944 0.985 1.000 1.000 1.000 1.000 1.000 1.000 1.000 0.991 0.986 0.987 0.990 0.998"/><feFuncG type="table" tableValues="0.150 0.162 0.175 0.188 0.201 0.217 0.235 0.253 0.272 0.291 0.312 0.334 0.357 0.381 0.406 0.433 0.459 0.483 0.506 0.528 0.549 0.571 0.591 0.611 0.630 0.649 0.667 0.685 0.701 0.716 0.727 0.736 0.742 0.750 0.762 0.774 0.787 0.798 0.806 0.812 0.816 0.817 0.816 0.812 0.806 0.799 0.787 0.774 0.760 0.747 0.736 0.728 0.726 0.740 0.764 0.790 0.818 0.846 0.875 0.903 0.930 0.956 0.982 1.000"/><feFuncB type="table" tableValues="0.660 0.713 0.763 0.814 0.862 0.903 0.937 0.966 0.991 1.000 1.000 1.000 1.000 1.000 1.000 1.000 1.000 1.000 1.000 0.986 0.966 0.949 0.932 0.918 0.907 0.892 0.873 0.850 0.825 0.797 0.767 0.734 0.699 0.665 0.633 0.600 0.564 0.523 0.479 0.432 0.380 0.327 0.275 0.222 0.169 0.121 0.081 0.048 0.033 0.038 0.058 0.095 0.128 0.122 0.098 0.075 0.055 0.038 0.021 0.006 0.000 0.000 0.000 0.000"/></feComponentTransfer></filter><linearGradient id="g8_0" gradientUnits="userSpaceOnUse" x1="0" y1="334.6" x2="0" y2="441.9"><stop offset="0.000" stop-color="#171717"/><stop offset="0.200" stop-color="#1f1f1f"/><stop offset="0.800" stop-color="#212121"/><stop offset="0.920" stop-color="#212121"/><stop offset="0.960" stop-color="#171717"/><stop offset="1.000" stop-color="#141414"/></linearGradient><linearGradient id="g8_1" gradientUnits="userSpaceOnUse" x1="0" y1="334.6" x2="0" y2="441.9"><stop offset="0.000" stop-color="#212121"/><stop offset="0.190" stop-color="#2b2b2b"/><stop offset="0.210" stop-color="#525252"/><stop offset="0.260" stop-color="#525252"/><stop offset="0.280" stop-color="#333333"/><stop offset="0.340" stop-color="#424242"/><stop offset="0.400" stop-color="#424242"/><stop offset="0.420" stop-color="#383838"/><stop offset="0.760" stop-color="#4a4a4a"/><stop offset="0.840" stop-color="#575757"/><stop offset="0.864" stop-color="#6b6b6b"/><stop offset="0.876" stop-color="#a3a3a3"/><stop offset="0.908" stop-color="#a3a3a3"/><stop offset="0.920" stop-color="#4d4d4d"/><stop offset="0.970" stop-color="#3d3d3d"/><stop offset="0.980" stop-color="#171717"/><stop offset="1.000" stop-color="#141414"/></linearGradient><linearGradient id="g8_2" gradientUnits="userSpaceOnUse" x1="0" y1="334.6" x2="0" y2="441.9"><stop offset="0.000" stop-color="#212121"/><stop offset="0.190" stop-color="#2b2b2b"/><stop offset="0.210" stop-color="#525252"/><stop offset="0.260" stop-color="#525252"/><stop offset="0.280" stop-color="#333333"/><stop offset="0.340" stop-color="#424242"/><stop offset="0.400" stop-color="#424242"/><stop offset="0.420" stop-color="#383838"/><stop offset="0.760" stop-color="#4a4a4a"/><stop offset="0.840" stop-color="#575757"/><stop offset="0.864" stop-color="#6b6b6b"/><stop offset="0.876" stop-color="#a3a3a3"/><stop offset="0.908" stop-color="#a3a3a3"/><stop offset="0.920" stop-color="#4d4d4d"/><stop offset="0.970" stop-color="#3d3d3d"/><stop offset="0.980" stop-color="#171717"/><stop offset="1.000" stop-color="#141414"/></linearGradient><linearGradient id="g8_3" gradientUnits="userSpaceOnUse" x1="0" y1="334.6" x2="0" y2="441.9"><stop offset="0.000" stop-color="#454545" stop-opacity="0.70"/><stop offset="0.400" stop-color="#545454" stop-opacity="0.90"/><stop offset="0.600" stop-color="#666666"/><stop offset="0.800" stop-color="#7a7a7a"/><stop offset="0.860" stop-color="#737373" stop-opacity="0.00"/></linearGradient><linearGradient id="g8_4" gradientUnits="userSpaceOnUse" x1="0" y1="334.6" x2="0" y2="441.9"><stop offset="0.000" stop-color="#0a0a0a"/><stop offset="1.000" stop-color="#0a0a0a"/></linearGradient>
</defs>
<g filter="url(#f0)"><rect x="20.4" y="13.3" width="122.4" height="107.3" fill="url(#g0_0)"/><rect x="32.4" y="13.3" width="1.05" height="107.3" fill="url(#g0_1)" fill-opacity="0.36"/><rect x="33.4" y="13.3" width="2.05" height="107.3" fill="url(#g0_1)" fill-opacity="0.44"/><rect x="35.4" y="13.3" width="1.05" height="107.3" fill="url(#g0_1)" fill-opacity="0.06"/><rect x="37.4" y="13.3" width="1.05" height="107.3" fill="url(#g0_1)" fill-opacity="0.20"/><rect x="38.4" y="13.3" width="1.05" height="107.3" fill="url(#g0_1)" fill-opacity="0.04"/><rect x="41.4" y="13.3" width="1.05" height="107.3" fill="url(#g0_1)" fill-opacity="0.40"/><rect x="42.4" y="13.3" width="2.05" height="107.3" fill="url(#g0_1)"/><rect x="44.4" y="13.3" width="1.05" height="107.3" fill="url(#g0_1)" fill-opacity="0.60"/><rect x="47.4" y="13.3" width="3.05" height="107.3" fill="url(#g0_1)" fill-opacity="0.32"/><rect x="50.4" y="13.3" width="1.05" height="107.3" fill="url(#g0_1)" fill-opacity="0.16"/><rect x="52.4" y="13.3" width="1.05" height="107.3" fill="url(#g0_1)" fill-opacity="0.06"/><rect x="53.4" y="13.3" width="2.05" height="107.3" fill="url(#g0_1)" fill-opacity="0.60"/><rect x="55.4" y="13.3" width="1.05" height="107.3" fill="url(#g0_1)" fill-opacity="0.30"/><rect x="56.4" y="13.3" width="2.05" height="107.3" fill="url(#g0_1)" fill-opacity="0.54"/><rect x="58.4" y="13.3" width="1.05" height="107.3" fill="url(#g0_1)" fill-opacity="0.44"/><rect x="64.4" y="13.3" width="2.05" height="107.3" fill="url(#g0_1)" fill-opacity="0.40"/><rect x="68.4" y="13.3" width="4.05" height="107.3" fill="url(#g0_1)" fill-opacity="0.14"/><rect x="72.4" y="13.3" width="1.05" height="107.3" fill="url(#g0_1)" fill-opacity="0.08"/><rect x="75.4" y="13.3" width="1.05" height="107.3" fill="url(#g0_1)" fill-opacity="0.22"/><rect x="76.4" y="13.3" width="1.05" height="107.3" fill="url(#g0_1)" fill-opacity="0.32"/><rect x="77.4" y="13.3" width="1.05" height="107.3" fill="url(#g0_1)" fill-opacity="0.22"/><rect x="82.4" y="13.3" width="2.05" height="107.3" fill="url(#g0_1)" fill-opacity="0.28"/><rect x="90.4" y="13.3" width="1.05" height="107.3" fill="url(#g0_1)" fill-opacity="0.26"/><rect x="91.4" y="13.3" width="1.05" height="107.3" fill="url(#g0_1)" fill-opacity="0.32"/><rect x="97.4" y="13.3" width="1.05" height="107.3" fill="url(#g0_1)" fill-opacity="0.22"/><rect x="98.4" y="13.3" width="1.05" height="107.3" fill="url(#g0_1)" fill-opacity="0.16"/><rect x="103.4" y="13.3" width="1.05" height="107.3" fill="url(#g0_1)" fill-opacity="0.26"/><rect x="104.4" y="13.3" width="1.05" height="107.3" fill="url(#g0_1)" fill-opacity="0.32"/><rect x="109.4" y="13.3" width="2.05" height="107.3" fill="url(#g0_1)" fill-opacity="0.30"/><rect x="115.4" y="13.3" width="1.05" height="107.3" fill="url(#g0_1)" fill-opacity="0.24"/><rect x="116.4" y="13.3" width="1.05" height="107.3" fill="url(#g0_1)" fill-opacity="0.12"/><rect x="120.4" y="13.3" width="1.05" height="107.3" fill="url(#g0_1)" fill-opacity="0.02"/><rect x="121.4" y="13.3" width="3.05" height="107.3" fill="url(#g0_1)" fill-opacity="0.64"/><rect x="124.4" y="13.3" width="1.05" height="107.3" fill="url(#g0_1)" fill-opacity="0.02"/><rect x="129.4" y="13.3" width="1.05" height="107.3" fill="url(#g0_1)" fill-opacity="0.26"/><rect x="130.4" y="13.3" width="1.05" height="107.3" fill="url(#g0_1)" fill-opacity="0.14"/><rect x="135.4" y="13.3" width="1.05" height="107.3" fill="url(#g0_1)" fill-opacity="0.26"/><rect x="136.4" y="13.3" width="1.05" height="107.3" fill="url(#g0_1)" fill-opacity="0.10"/><rect x="31.4" y="13.3" width="1.05" height="107.3" fill="url(#g0_2)" fill-opacity="0.12"/><rect x="32.4" y="13.3" width="1.05" height="107.3" fill="url(#g0_2)" fill-opacity="0.58"/><rect x="33.4" y="13.3" width="2.05" height="107.3" fill="url(#g0_2)" fill-opacity="0.70"/><rect x="35.4" y="13.3" width="1.05" height="107.3" fill="url(#g0_2)" fill-opacity="0.58"/><rect x="36.4" y="13.3" width="1.05" height="107.3" fill="url(#g0_2)" fill-opacity="0.12"/><rect x="39.4" y="13.3" width="1.05" height="107.3" fill="url(#g0_2)" fill-opacity="0.08"/><rect x="40.4" y="13.3" width="1.05" height="107.3" fill="url(#g0_2)" fill-opacity="0.50"/><rect x="41.4" y="13.3" width="1.05" height="107.3" fill="url(#g0_2)" fill-opacity="0.92"/><rect x="42.4" y="13.3" width="2.05" height="107.3" fill="url(#g0_2)"/><rect x="44.4" y="13.3" width="1.05" height="107.3" fill="url(#g0_2)" fill-opacity="0.92"/><rect x="45.4" y="13.3" width="1.05" height="107.3" fill="url(#g0_2)" fill-opacity="0.56"/><rect x="46.4" y="13.3" width="1.05" height="107.3" fill="url(#g0_2)" fill-opacity="0.38"/><rect x="47.4" y="13.3" width="1.05" height="107.3" fill="url(#g0_2)" fill-opacity="0.56"/><rect x="48.4" y="13.3" width="2.05" height="107.3" fill="url(#g0_2)" fill-opacity="0.60"/><rect x="50.4" y="13.3" width="1.05" height="107.3" fill="url(#g0_2)" fill-opacity="0.50"/><rect x="51.4" y="13.3" width="1.05" height="107.3" fill="url(#g0_2)" fill-opacity="0.24"/><rect x="52.4" y="13.3" width="1.05" height="107.3" fill="url(#g0_2)" fill-opacity="0.70"/><rect x="53.4" y="13.3" width="6.05" height="107.3" fill="url(#g0_2)" fill-opacity="0.84"/><rect x="59.4" y="13.3" width="1.05" height="107.3" fill="url(#g0_2)" fill-opacity="0.70"/><rect x="60.4" y="13.3" width="1.05" height="107.3" fill="url(#g0_2)" fill-opacity="0.14"/><rect x="62.4" y="13.3" width="1.05" height="107.3" fill="url(#g0_2)" fill-opacity="0.12"/><rect x="63.4" y="13.3" width="1.05" height="107.3" fill="url(#g0_2)" fill-opacity="0.58"/><rect x="64.4" y="13.3" width="2.05" height="107.3" fill="url(#g0_2)" fill-opacity="0.70"/><rect x="66.4" y="13.3" width="1.05" height="107.3" fill="url(#g0_2)" fill-opacity="0.58"/><rect x="67.4" y="13.3" width="1.05" height="107.3" fill="url(#g0_2)" fill-opacity="0.18"/><rect x="68.4" y="13.3" width="1.05" height="107.3" fill="url(#g0_2)" fill-opacity="0.34"/><rect x="69.4" y="13.3" width="3.05" height="107.3" fill="url(#g0_2)" fill-opacity="0.40"/><rect x="72.4" y="13.3" width="1.05" height="107.3" fill="url(#g0_2)" fill-opacity="0.34"/><rect x="73.4" y="13.3" width="1.05" height="107.3" fill="url(#g0_2)" fill-opacity="0.12"/><rect x="74.4" y="13.3" width="1.05" height="107.3" fill="url(#g0_2)" fill-opacity="0.30"/><rect x="75.4" y="13.3" width="1.05" height="107.3" fill="url(#g0_2)" fill-opacity="0.54"/><rect x="76.4" y="13.3" width="1.05" height="107.3" fill="url(#g0_2)" fill-opacity="0.60"/><rect x="77.4" y="13.3" width="1.05" height="107.3" fill="url(#g0_2)" fill-opacity="0.54"/><rect x="78.4" y="13.3" width="1.05" height="107.3" fill="url(#g0_2)" fill-opacity="0.30"/><rect x="79.4" y="13.3" width="1.05" height="107.3" fill="url(#g0_2)" fill-opacity="0.06"/><rect x="80.4" y="13.3" width="1.05" height="107.3" fill="url(#g0_2)" fill-opacity="0.08"/><rect x="81.4" y="13.3" width="1.05" height="107.3" fill="url(#g0_2)" fill-opacity="0.42"/><rect x="82.4" y="13.3" width="2.05" height="107.3" fill="url(#g0_2)" fill-opacity="0.50"/><rect x="84.4" y="13.3" width="1.05" height="107.3" fill="url(#g0_2)" fill-opacity="0.42"/><rect x="85.4" y="13.3" width="1.05" height="107.3" fill="url(#g0_2)" fill-opacity="0.08"/><rect x="87.4" y="13.3" width="1.05" height="107.3" fill="url(#g0_2)" fill-opacity="0.04"/><rect x="88.4" y="13.3" width="1.05" height="107.3" fill="url(#g0_2)" fill-opacity="0.28"/><rect x="89.4" y="13.3" width="1.05" height="107.3" fill="url(#g0_2)" fill-opacity="0.50"/><rect x="90.4" y="13.3" width="2.05" height="107.3" fill="url(#g0_2)" fill-opacity="0.54"/><rect x="92.4" y="13.3" width="1.05" height="107.3" fill="url(#g0_2)" fill-opacity="0.46"/><rect x="93.4" y="13.3" width="1.05" height="107.3" fill="url(#g0_2)" fill-opacity="0.10"/><rect x="95.4" y="13.3" width="1.05" height="107.3" fill="url(#g0_2)" fill-opacity="0.10"/><rect x="96.4" y="13.3" width="1.05" height="107.3" fill="url(#g0_2)" fill-opacity="0.46"/><rect x="97.4" y="13.3" width="2.05" height="107.3" fill="url(#g0_2)" fill-opacity="0.54"/><rect x="99.4" y="13.3" width="1.05" height="107.3" fill="url(#g0_2)" fill-opacity="0.46"/><rect x="100.4" y="13.3" width="1.05" height="107.3" fill="url(#g0_2)" fill-opacity="0.10"/><rect x="101.4" y="13.3" width="1.05" height="107.3" fill="url(#g0_2)" fill-opacity="0.08"/><rect x="102.4" y="13.3" width="1.05" height="107.3" fill="url(#g0_2)" fill-opacity="0.42"/><rect x="103.4" y="13.3" width="2.05" height="107.3" fill="url(#g0_2)" fill-opacity="0.50"/><rect x="105.4" y="13.3" width="1.05" height="107.3" fill="url(#g0_2)" fill-opacity="0.42"/><rect x="106.4" y="13.3" width="2.05" height="107.3" fill="url(#g0_2)" fill-opacity="0.08"/><rect x="108.4" y="13.3" width="1.05" height="107.3" fill="url(#g0_2)" fill-opacity="0.42"/><rect x="109.4" y="13.3" width="2.05" height="107.3" fill="url(#g0_2)" fill-opacity="0.50"/><rect x="111.4" y="13.3" width="1.05" height="107.3" fill="url(#g0_2)" fill-opacity="0.42"/><rect x="112.4" y="13.3" width="1.05" height="107.3" fill="url(#g0_2)" fill-opacity="0.08"/><rect x="113.4" y="13.3" width="1.05" height="107.3" fill="url(#g0_2)" fill-opacity="0.06"/><rect x="114.4" y="13.3" width="1.05" height="107.3" fill="url(#g0_2)" fill-opacity="0.34"/><rect x="115.4" y="13.3" width="1.05" height="107.3" fill="url(#g0_2)" fill-opacity="0.40"/><rect x="116.4" y="13.3" width="1.05" height="107.3" fill="url(#g0_2)" fill-opacity="0.36"/><rect x="117.4" y="13.3" width="1.05" height="107.3" fill="url(#g0_2)" fill-opacity="0.20"/><rect x="118.4" y="13.3" width="1.05" height="107.3" fill="url(#g0_2)" fill-opacity="0.04"/><rect x="119.4" y="13.3" width="1.05" height="107.3" fill="url(#g0_2)" fill-opacity="0.14"/><rect x="120.4" y="13.3" width="1.05" height="107.3" fill="url(#g0_2)" fill-opacity="0.66"/><rect x="121.4" y="13.3" width="3.05" height="107.3" fill="url(#g0_2)" fill-opacity="0.80"/><rect x="124.4" y="13.3" width="1.05" height="107.3" fill="url(#g0_2)" fill-opacity="0.74"/><rect x="125.4" y="13.3" width="1.05" height="107.3" fill="url(#g0_2)" fill-opacity="0.40"/><rect x="126.4" y="13.3" width="1.05" height="107.3" fill="url(#g0_2)" fill-opacity="0.06"/><rect x="127.4" y="13.3" width="1.05" height="107.3" fill="url(#g0_2)" fill-opacity="0.08"/><rect x="128.4" y="13.3" width="1.05" height="107.3" fill="url(#g0_2)" fill-opacity="0.42"/><rect x="129.4" y="13.3" width="1.05" height="107.3" fill="url(#g0_2)" fill-opacity="0.50"/><rect x="130.4" y="13.3" width="1.05" height="107.3" fill="url(#g0_2)" fill-opacity="0.46"/><rect x="131.4" y="13.3" width="1.05" height="107.3" fill="url(#g0_2)" fill-opacity="0.26"/><rect x="132.4" y="13.3" width="1.05" height="107.3" fill="url(#g0_2)" fill-opacity="0.04"/><rect x="133.4" y="13.3" width="1.05" height="107.3" fill="url(#g0_2)" fill-opacity="0.08"/><rect x="134.4" y="13.3" width="1.05" height="107.3" fill="url(#g0_2)" fill-opacity="0.42"/><rect x="135.4" y="13.3" width="1.05" height="107.3" fill="url(#g0_2)" fill-opacity="0.50"/><rect x="136.4" y="13.3" width="1.05" height="107.3" fill="url(#g0_2)" fill-opacity="0.46"/><rect x="137.4" y="13.3" width="1.05" height="107.3" fill="url(#g0_2)" fill-opacity="0.24"/><rect x="138.4" y="13.3" width="1.05" height="107.3" fill="url(#g0_2)" fill-opacity="0.04"/><rect x="30.4" y="13.3" width="1.05" height="107.3" fill="url(#g0_3)" fill-opacity="0.02"/><rect x="31.4" y="13.3" width="1.05" height="107.3" fill="url(#g0_3)" fill-opacity="0.26"/><rect x="32.4" y="13.3" width="1.05" height="107.3" fill="url(#g0_3)" fill-opacity="0.74"/><rect x="33.4" y="13.3" width="1.05" height="107.3" fill="url(#g0_3)" fill-opacity="0.98"/><rect x="34.4" y="13.3" width="1.05" height="107.3" fill="url(#g0_3)"/><rect x="35.4" y="13.3" width="1.05" height="107.3" fill="url(#g0_3)" fill-opacity="0.98"/><rect x="36.4" y="13.3" width="1.05" height="107.3" fill="url(#g0_3)" fill-opacity="0.82"/><rect x="37.4" y="13.3" width="1.05" height="107.3" fill="url(#g0_3)" fill-opacity="0.44"/><rect x="38.4" y="13.3" width="1.05" height="107.3" fill="url(#g0_3)" fill-opacity="0.28"/><rect x="39.4" y="13.3" width="1.05" height="107.3" fill="url(#g0_3)" fill-opacity="0.44"/><rect x="40.4" y="13.3" width="1.05" height="107.3" fill="url(#g0_3)" fill-opacity="0.82"/><rect x="41.4" y="13.3" width="1.05" height="107.3" fill="url(#g0_3)" fill-opacity="0.98"/><rect x="42.4" y="13.3" width="2.05" height="107.3" fill="url(#g0_3)"/><rect x="44.4" y="13.3" width="1.05" height="107.3" fill="url(#g0_3)" fill-opacity="0.98"/><rect x="45.4" y="13.3" width="1.05" height="107.3" fill="url(#g0_3)" fill-opacity="0.82"/><rect x="46.4" y="13.3" width="1.05" height="107.3" fill="url(#g0_3)" fill-opacity="0.56"/><rect x="47.4" y="13.3" width="1.05" height="107.3" fill="url(#g0_3)" fill-opacity="0.60"/><rect x="48.4" y="13.3" width="2.05" height="107.3" fill="url(#g0_3)" fill-opacity="0.70"/><rect x="50.4" y="13.3" width="1.05" height="107.3" fill="url(#g0_3)" fill-opacity="0.60"/><rect x="51.4" y="13.3" width="1.05" height="107.3" fill="url(#g0_3)" fill-opacity="0.56"/><rect x="52.4" y="13.3" width="1.05" height="107.3" fill="url(#g0_3)" fill-opacity="0.82"/><rect x="53.4" y="13.3" width="1.05" height="107.3" fill="url(#g0_3)" fill-opacity="0.98"/><rect x="54.4" y="13.3" width="4.05" height="107.3" fill="url(#g0_3)"/><rect x="58.4" y="13.3" width="1.05" height="107.3" fill="url(#g0_3)" fill-opacity="0.98"/><rect x="59.4" y="13.3" width="1.05" height="107.3" fill="url(#g0_3)" fill-opacity="0.82"/><rect x="60.4" y="13.3" width="1.05" height="107.3" fill="url(#g0_3)" fill-opacity="0.44"/><rect x="61.4" y="13.3" width="1.05" height="107.3" fill="url(#g0_3)" fill-opacity="0.38"/><rect x="62.4" y="13.3" width="1.05" height="107.3" fill="url(#g0_3)" fill-opacity="0.58"/><rect x="63.4" y="13.3" width="1.05" height="107.3" fill="url(#g0_3)" fill-opacity="0.68"/><rect x="64.4" y="13.3" width="1.05" height="107.3" fill="url(#g0_3)" fill-opacity="0.70"/><rect x="65.4" y="13.3" width="1.05" height="107.3" fill="url(#g0_3)" fill-opacity="0.68"/><rect x="66.4" y="13.3" width="1.05" height="107.3" fill="url(#g0_3)" fill-opacity="0.58"/><rect x="67.4" y="13.3" width="1.05" height="107.3" fill="url(#g0_3)" fill-opacity="0.36"/><rect x="68.4" y="13.3" width="1.05" height="107.3" fill="url(#g0_3)" fill-opacity="0.30"/><rect x="69.4" y="13.3" width="1.05" height="107.3" fill="url(#g0_3)" fill-opacity="0.36"/><rect x="70.4" y="13.3" width="2.05" height="107.3" fill="url(#g0_3)" fill-opacity="0.40"/><rect x="72.4" y="13.3" width="2.05" height="107.3" fill="url(#g0_3)" fill-opacity="0.36"/><rect x="74.4" y="13.3" width="1.05" height="107.3" fill="url(#g0_3)" fill-opacity="0.44"/><rect x="75.4" y="13.3" width="3.05" height="107.3" fill="url(#g0_3)" fill-opacity="0.50"/><rect x="78.4" y="13.3" width="1.05" height="107.3" fill="url(#g0_3)" fill-opacity="0.44"/><rect x="79.4" y="13.3" width="1.05" height="107.3" fill="url(#g0_3)" fill-opacity="0.32"/><rect x="80.4" y="13.3" width="1.05" height="107.3" fill="url(#g0_3)" fill-opacity="0.30"/><rect x="81.4" y="13.3" width="1.05" height="107.3" fill="url(#g0_3)" fill-opacity="0.36"/><rect x="82.4" y="13.3" width="2.05" height="107.3" fill="url(#g0_3)" fill-opacity="0.40"/><rect x="84.4" y="13.3" width="1.05" height="107.3" fill="url(#g0_3)" fill-opacity="0.36"/><rect x="85.4" y="13.3" width="1.05" height="107.3" fill="url(#g0_3)" fill-opacity="0.32"/><rect x="86.4" y="13.3" width="1.05" height="107.3" fill="url(#g0_3)" fill-opacity="0.36"/><rect x="87.4" y="13.3" width="1.05" height="107.3" fill="url(#g0_3)" fill-opacity="0.46"/><rect x="88.4" y="13.3" width="3.05" height="107.3" fill="url(#g0_3)" fill-opacity="0.50"/><rect x="91.4" y="13.3" width="1.05" height="107.3" fill="url(#g0_3)" fill-opacity="0.48"/><rect x="92.4" y="13.3" width="1.05" height="107.3" fill="url(#g0_3)" fill-opacity="0.38"/><rect x="93.4" y="13.3" width="1.05" height="107.3" fill="url(#g0_3)" fill-opacity="0.28"/><rect x="94.4" y="13.3" width="2.05" height="107.3" fill="url(#g0_3)" fill-opacity="0.26"/><rect x="96.4" y="13.3" width="1.05" height="107.3" fill="url(#g0_3)" fill-opacity="0.30"/><rect x="97.4" y="13.3" width="1.05" height="107.3" fill="url(#g0_3)" fill-opacity="0.40"/><rect x="98.4" y="13.3" width="1.05" height="107.3" fill="url(#g0_3)" fill-opacity="0.48"/><rect x="99.4" y="13.3" width="3.05" height="107.3" fill="url(#g0_3)" fill-opacity="0.50"/><rect x="102.4" y="13.3" width="1.05" height="107.3" fill="url(#g0_3)" fill-opacity="0.44"/><rect x="103.4" y="13.3" width="1.05" height="107.3" fill="url(#g0_3)" fill-opacity="0.34"/><rect x="104.4" y="13.3" width="4.05" height="107.3" fill="url(#g0_3)" fill-opacity="0.26"/><rect x="108.4" y="13.3" width="1.05" height="107.3" fill="url(#g0_3)" fill-opacity="0.32"/><rect x="109.4" y="13.3" width="1.05" height="107.3" fill="url(#g0_3)" fill-opacity="0.44"/><rect x="110.4" y="13.3" width="6.05" height="107.3" fill="url(#g0_3)" fill-opacity="0.50"/><rect x="116.4" y="13.3" width="1.05" height="107.3" fill="url(#g0_3)" fill-opacity="0.46"/><rect x="117.4" y="13.3" width="1.05" height="107.3" fill="url(#g0_3)" fill-opacity="0.36"/><rect x="118.4" y="13.3" width="1.05" height="107.3" fill="url(#g0_3)" fill-opacity="0.28"/><rect x="119.4" y="13.3" width="1.05" height="107.3" fill="url(#g0_3)" fill-opacity="0.32"/><rect x="120.4" y="13.3" width="1.05" height="107.3" fill="url(#g0_3)" fill-opacity="0.50"/><rect x="121.4" y="13.3" width="1.05" height="107.3" fill="url(#g0_3)" fill-opacity="0.64"/><rect x="122.4" y="13.3" width="3.05" height="107.3" fill="url(#g0_3)" fill-opacity="0.70"/><rect x="125.4" y="13.3" width="1.05" height="107.3" fill="url(#g0_3)" fill-opacity="0.68"/><rect x="126.4" y="13.3" width="1.05" height="107.3" fill="url(#g0_3)" fill-opacity="0.56"/><rect x="127.4" y="13.3" width="1.05" height="107.3" fill="url(#g0_3)" fill-opacity="0.36"/><rect x="128.4" y="13.3" width="2.05" height="107.3" fill="url(#g0_3)" fill-opacity="0.26"/><rect x="130.4" y="13.3" width="1.05" height="107.3" fill="url(#g0_3)" fill-opacity="0.28"/><rect x="131.4" y="13.3" width="1.05" height="107.3" fill="url(#g0_3)" fill-opacity="0.36"/><rect x="132.4" y="13.3" width="1.05" height="107.3" fill="url(#g0_3)" fill-opacity="0.46"/><rect x="133.4" y="13.3" width="2.05" height="107.3" fill="url(#g0_3)" fill-opacity="0.50"/><rect x="135.4" y="13.3" width="1.05" height="107.3" fill="url(#g0_3)" fill-opacity="0.46"/><rect x="136.4" y="13.3" width="1.05" height="107.3" fill="url(#g0_3)" fill-opacity="0.36"/><rect x="137.4" y="13.3" width="1.05" height="107.3" fill="url(#g0_3)" fill-opacity="0.28"/><rect x="138.4" y="13.3" width="1.05" height="107.3" fill="url(#g0_3)" fill-opacity="0.26"/><rect x="139.4" y="13.3" width="2.05" height="107.3" fill="url(#g0_3)" fill-opacity="0.24"/><rect x="141.4" y="13.3" width="1.05" height="107.3" fill="url(#g0_3)" fill-opacity="0.22"/><rect x="142.4" y="13.3" width="0.45" height="107.3" fill="url(#g0_3)" fill-opacity="0.14"/></g>
<rect x="92.4" y="17.3" width="45.8" height="21.0" fill="#12a08a" fill-opacity="0.88"/>
<text transform="translate(96.60 27.10) scale(0.1000 0.1000)" font-size="72.0" style="fill:#fff">Levenshtein</text>
<text transform="translate(96.60 34.20) scale(0.1000 0.1000)" font-size="72.0" style="fill:#fff">distance: 44</text>
<rect x="146.1" y="13.3" width="6.7" height="107.3" fill="url(#cb)"/>
<text transform="translate(156.00 113.45) scale(0.1000 0.1000)" font-size="70.0">0</text>
<text transform="translate(156.00 95.69) scale(0.1000 0.1000)" font-size="70.0">10</text>
<text transform="translate(156.00 77.93) scale(0.1000 0.1000)" font-size="70.0">20</text>
<text transform="translate(156.00 60.17) scale(0.1000 0.1000)" font-size="70.0">30</text>
<text transform="translate(156.00 42.41) scale(0.1000 0.1000)" font-size="70.0">40</text>
<text transform="translate(156.00 24.65) scale(0.1000 0.1000)" font-size="70.0">50</text>
<text transform="translate(170.70 68.55) rotate(-90) scale(0.1000 0.1000)" font-size="72.5" text-anchor="middle">Power spectral density, dB</text>
<text transform="translate(83.20 9.70) scale(0.1000 0.1000)" font-size="70.0" text-anchor="middle" textLength="517" lengthAdjust="spacingAndGlyphs">Active PZT 40 kHz</text>
<text transform="translate(17.50 123.00) scale(0.1000 0.1000)" font-size="70.0" text-anchor="end">0</text>
<text transform="translate(17.50 101.54) scale(0.1000 0.1000)" font-size="70.0" text-anchor="end">1</text>
<text transform="translate(17.50 80.08) scale(0.1000 0.1000)" font-size="70.0" text-anchor="end">2</text>
<text transform="translate(17.50 58.62) scale(0.1000 0.1000)" font-size="70.0" text-anchor="end">3</text>
<text transform="translate(17.50 37.16) scale(0.1000 0.1000)" font-size="70.0" text-anchor="end">4</text>
<text transform="translate(17.50 15.70) scale(0.1000 0.1000)" font-size="70.0" text-anchor="end">5</text>
<text transform="translate(9.90 71.65) rotate(-90) scale(0.1000 0.1000)" font-size="70.0" text-anchor="middle">Frequency, kHz</text>
<text transform="translate(22.20 128.90) scale(0.1000 0.1000)" font-size="70.0" text-anchor="middle">0</text>
<text transform="translate(35.10 128.90) scale(0.1000 0.1000)" font-size="70.0" text-anchor="middle">5</text>
<text transform="translate(47.80 128.90) scale(0.1000 0.1000)" font-size="70.0" text-anchor="middle">10</text>
<text transform="translate(60.40 128.90) scale(0.1000 0.1000)" font-size="70.0" text-anchor="middle">15</text>
<text transform="translate(75.00 128.90) scale(0.1000 0.1000)" font-size="70.0" text-anchor="middle">20</text>
<text transform="translate(86.70 128.90) scale(0.1000 0.1000)" font-size="70.0" text-anchor="middle">25</text>
<text transform="translate(101.30 128.90) scale(0.1000 0.1000)" font-size="70.0" text-anchor="middle">30</text>
<text transform="translate(113.80 128.90) scale(0.1000 0.1000)" font-size="70.0" text-anchor="middle">35</text>
<text transform="translate(126.00 128.90) scale(0.1000 0.1000)" font-size="70.0" text-anchor="middle">40</text>
<text transform="translate(138.30 128.90) scale(0.1000 0.1000)" font-size="70.0" text-anchor="middle">45</text>
<text transform="translate(79.10 135.90) scale(0.1000 0.1000)" font-size="72.0" text-anchor="middle">Time, s</text>
<text transform="translate(85.60 154.10) scale(0.1000 0.1000)" font-size="100.0" text-anchor="middle" style="fill:#111">(<tspan font-weight="bold">a</tspan>)</text>
<g filter="url(#f1)"><rect x="204.6" y="13.3" width="122.4" height="107.3" fill="url(#g1_0)"/><rect x="204.6" y="13.3" width="2.05" height="107.3" fill="url(#g1_1)" fill-opacity="0.12"/><rect x="212.6" y="13.3" width="1.05" height="107.3" fill="url(#g1_1)" fill-opacity="0.34"/><rect x="213.6" y="13.3" width="3.05" height="107.3" fill="url(#g1_1)" fill-opacity="0.84"/><rect x="216.6" y="13.3" width="1.05" height="107.3" fill="url(#g1_1)" fill-opacity="0.62"/><rect x="217.6" y="13.3" width="2.05" height="107.3" fill="url(#g1_1)" fill-opacity="0.68"/><rect x="219.6" y="13.3" width="1.05" height="107.3" fill="url(#g1_1)" fill-opacity="0.76"/><rect x="220.6" y="13.3" width="3.05" height="107.3" fill="url(#g1_1)" fill-opacity="0.84"/><rect x="223.6" y="13.3" width="1.05" height="107.3" fill="url(#g1_1)" fill-opacity="0.10"/><rect x="224.6" y="13.3" width="1.05" height="107.3" fill="url(#g1_1)" fill-opacity="0.04"/><rect x="225.6" y="13.3" width="4.05" height="107.3" fill="url(#g1_1)"/><rect x="229.6" y="13.3" width="1.05" height="107.3" fill="url(#g1_1)" fill-opacity="0.42"/><rect x="230.6" y="13.3" width="1.05" height="107.3" fill="url(#g1_1)" fill-opacity="0.58"/><rect x="231.6" y="13.3" width="2.05" height="107.3" fill="url(#g1_1)" fill-opacity="0.84"/><rect x="233.6" y="13.3" width="1.05" height="107.3" fill="url(#g1_1)" fill-opacity="0.68"/><rect x="236.6" y="13.3" width="1.05" height="107.3" fill="url(#g1_1)" fill-opacity="0.70"/><rect x="237.6" y="13.3" width="5.05" height="107.3" fill="url(#g1_1)"/><rect x="242.6" y="13.3" width="1.05" height="107.3" fill="url(#g1_1)" fill-opacity="0.48"/><rect x="243.6" y="13.3" width="1.05" height="107.3" fill="url(#g1_1)" fill-opacity="0.60"/><rect x="244.6" y="13.3" width="1.05" height="107.3" fill="url(#g1_1)" fill-opacity="0.24"/><rect x="245.6" y="13.3" width="1.05" height="107.3" fill="url(#g1_1)" fill-opacity="0.04"/><rect x="246.6" y="13.3" width="1.05" height="107.3" fill="url(#g1_1)" fill-opacity="0.68"/><rect x="247.6" y="13.3" width="1.05" height="107.3" fill="url(#g1_1)" fill-opacity="0.98"/><rect x="248.6" y="13.3" width="1.05" height="107.3" fill="url(#g1_1)" fill-opacity="0.66"/><rect x="249.6" y="13.3" width="6.05" height="107.3" fill="url(#g1_1)" fill-opacity="0.62"/><rect x="255.6" y="13.3" width="1.05" height="107.3" fill="url(#g1_1)" fill-opacity="0.02"/><rect x="257.6" y="13.3" width="1.05" height="107.3" fill="url(#g1_1)" fill-opacity="0.42"/><rect x="258.6" y="13.3" width="3.05" height="107.3" fill="url(#g1_1)" fill-opacity="0.84"/><rect x="261.6" y="13.3" width="1.05" height="107.3" fill="url(#g1_1)" fill-opacity="0.56"/><rect x="262.6" y="13.3" width="3.05" height="107.3" fill="url(#g1_1)" fill-opacity="0.70"/><rect x="265.6" y="13.3" width="1.05" height="107.3" fill="url(#g1_1)" fill-opacity="0.20"/><rect x="266.6" y="13.3" width="1.05" height="107.3" fill="url(#g1_1)" fill-opacity="0.04"/><rect x="267.6" y="13.3" width="1.05" height="107.3" fill="url(#g1_1)" fill-opacity="0.40"/><rect x="268.6" y="13.3" width="1.05" height="107.3" fill="url(#g1_1)" fill-opacity="0.56"/><rect x="269.6" y="13.3" width="1.05" height="107.3" fill="url(#g1_1)" fill-opacity="0.84"/><rect x="270.6" y="13.3" width="2.05" height="107.3" fill="url(#g1_1)" fill-opacity="0.94"/><rect x="272.6" y="13.3" width="1.05" height="107.3" fill="url(#g1_1)" fill-opacity="0.52"/><rect x="273.6" y="13.3" width="1.05" height="107.3" fill="url(#g1_1)" fill-opacity="0.46"/><rect x="274.6" y="13.3" width="1.05" height="107.3" fill="url(#g1_1)" fill-opacity="0.58"/><rect x="275.6" y="13.3" width="3.05" height="107.3" fill="url(#g1_1)" fill-opacity="0.84"/><rect x="278.6" y="13.3" width="2.05" height="107.3" fill="url(#g1_1)" fill-opacity="0.04"/><rect x="280.6" y="13.3" width="1.05" height="107.3" fill="url(#g1_1)" fill-opacity="0.60"/><rect x="281.6" y="13.3" width="3.05" height="107.3" fill="url(#g1_1)" fill-opacity="0.84"/><rect x="284.6" y="13.3" width="2.05" height="107.3" fill="url(#g1_1)" fill-opacity="0.70"/><rect x="286.6" y="13.3" width="3.05" height="107.3" fill="url(#g1_1)" fill-opacity="0.88"/><rect x="289.6" y="13.3" width="1.05" height="107.3" fill="url(#g1_1)" fill-opacity="0.04"/><rect x="291.6" y="13.3" width="1.05" height="107.3" fill="url(#g1_1)" fill-opacity="0.34"/><rect x="292.6" y="13.3" width="4.05" height="107.3" fill="url(#g1_1)" fill-opacity="0.70"/><rect x="296.6" y="13.3" width="1.05" height="107.3" fill="url(#g1_1)" fill-opacity="0.64"/><rect x="297.6" y="13.3" width="4.05" height="107.3" fill="url(#g1_1)" fill-opacity="0.84"/><rect x="301.6" y="13.3" width="1.05" height="107.3" fill="url(#g1_1)" fill-opacity="0.30"/><rect x="304.6" y="13.3" width="4.05" height="107.3" fill="url(#g1_1)" fill-opacity="0.84"/><rect x="308.6" y="13.3" width="1.05" height="107.3" fill="url(#g1_1)" fill-opacity="0.58"/><rect x="309.6" y="13.3" width="1.05" height="107.3" fill="url(#g1_1)" fill-opacity="0.56"/><rect x="310.6" y="13.3" width="1.05" height="107.3" fill="url(#g1_1)" fill-opacity="0.54"/><rect x="311.6" y="13.3" width="2.05" height="107.3" fill="url(#g1_1)" fill-opacity="0.80"/><rect x="313.6" y="13.3" width="1.05" height="107.3" fill="url(#g1_1)" fill-opacity="0.12"/><rect x="315.6" y="13.3" width="1.05" height="107.3" fill="url(#g1_1)" fill-opacity="0.16"/><rect x="316.6" y="13.3" width="6.05" height="107.3" fill="url(#g1_1)" fill-opacity="0.84"/><rect x="322.6" y="13.3" width="1.05" height="107.3" fill="url(#g1_1)" fill-opacity="0.68"/><rect x="323.6" y="13.3" width="3.45" height="107.3" fill="url(#g1_1)" fill-opacity="0.04"/><rect x="212.6" y="13.3" width="1.05" height="107.3" fill="url(#g1_2)" fill-opacity="0.28"/><rect x="215.6" y="13.3" width="1.05" height="107.3" fill="url(#g1_2)" fill-opacity="0.10"/><rect x="216.6" y="13.3" width="1.05" height="107.3" fill="url(#g1_2)" fill-opacity="0.58"/><rect x="217.6" y="13.3" width="1.05" height="107.3" fill="url(#g1_2)" fill-opacity="0.52"/><rect x="220.6" y="13.3" width="1.05" height="107.3" fill="url(#g1_2)" fill-opacity="0.60"/><rect x="221.6" y="13.3" width="1.05" height="107.3" fill="url(#g1_2)" fill-opacity="0.92"/><rect x="222.6" y="13.3" width="1.05" height="107.3" fill="url(#g1_2)" fill-opacity="0.28"/><rect x="223.6" y="13.3" width="1.05" height="107.3" fill="url(#g1_2)" fill-opacity="0.02"/><rect x="224.6" y="13.3" width="1.05" height="107.3" fill="url(#g1_2)" fill-opacity="0.74"/><rect x="225.6" y="13.3" width="1.05" height="107.3" fill="url(#g1_2)" fill-opacity="0.18"/><rect x="226.6" y="13.3" width="1.05" height="107.3" fill="url(#g1_2)" fill-opacity="0.60"/><rect x="227.6" y="13.3" width="1.05" height="107.3" fill="url(#g1_2)" fill-opacity="0.92"/><rect x="228.6" y="13.3" width="1.05" height="107.3" fill="url(#g1_2)" fill-opacity="0.56"/><rect x="229.6" y="13.3" width="1.05" height="107.3" fill="url(#g1_2)" fill-opacity="0.32"/><rect x="230.6" y="13.3" width="1.05" height="107.3" fill="url(#g1_2)" fill-opacity="0.60"/><rect x="231.6" y="13.3" width="1.05" height="107.3" fill="url(#g1_2)" fill-opacity="0.04"/><rect x="232.6" y="13.3" width="1.05" height="107.3" fill="url(#g1_2)" fill-opacity="0.22"/><rect x="233.6" y="13.3" width="1.05" height="107.3" fill="url(#g1_2)" fill-opacity="0.08"/><rect x="234.6" y="13.3" width="1.05" height="107.3" fill="url(#g1_2)" fill-opacity="0.22"/><rect x="235.6" y="13.3" width="1.05" height="107.3" fill="url(#g1_2)" fill-opacity="0.10"/><rect x="236.6" y="13.3" width="1.05" height="107.3" fill="url(#g1_2)" fill-opacity="0.22"/><rect x="237.6" y="13.3" width="1.05" height="107.3" fill="url(#g1_2)" fill-opacity="0.14"/><rect x="238.6" y="13.3" width="1.05" height="107.3" fill="url(#g1_2)" fill-opacity="0.34"/><rect x="239.6" y="13.3" width="1.05" height="107.3" fill="url(#g1_2)" fill-opacity="0.32"/><rect x="240.6" y="13.3" width="1.05" height="107.3" fill="url(#g1_2)" fill-opacity="0.42"/><rect x="241.6" y="13.3" width="1.05" height="107.3" fill="url(#g1_2)" fill-opacity="0.86"/><rect x="243.6" y="13.3" width="1.05" height="107.3" fill="url(#g1_2)" fill-opacity="0.82"/><rect x="244.6" y="13.3" width="1.05" height="107.3" fill="url(#g1_2)" fill-opacity="0.20"/><rect x="246.6" y="13.3" width="1.05" height="107.3" fill="url(#g1_2)" fill-opacity="0.24"/><rect x="247.6" y="13.3" width="1.05" height="107.3" fill="url(#g1_2)" fill-opacity="0.34"/><rect x="248.6" y="13.3" width="1.05" height="107.3" fill="url(#g1_2)" fill-opacity="0.72"/><rect x="250.6" y="13.3" width="1.05" height="107.3" fill="url(#g1_2)" fill-opacity="0.38"/><rect x="251.6" y="13.3" width="1.05" height="107.3" fill="url(#g1_2)" fill-opacity="0.34"/><rect x="254.6" y="13.3" width="1.05" height="107.3" fill="url(#g1_2)" fill-opacity="0.54"/><rect x="255.6" y="13.3" width="1.05" height="107.3" fill="url(#g1_2)" fill-opacity="0.58"/><rect x="256.6" y="13.3" width="1.05" height="107.3" fill="url(#g1_2)" fill-opacity="0.74"/><rect x="257.6" y="13.3" width="1.05" height="107.3" fill="url(#g1_2)" fill-opacity="0.52"/><rect x="258.6" y="13.3" width="1.05" height="107.3" fill="url(#g1_2)" fill-opacity="0.46"/><rect x="259.6" y="13.3" width="1.05" height="107.3" fill="url(#g1_2)" fill-opacity="0.34"/><rect x="260.6" y="13.3" width="1.05" height="107.3" fill="url(#g1_2)" fill-opacity="0.78"/><rect x="262.6" y="13.3" width="1.05" height="107.3" fill="url(#g1_2)" fill-opacity="0.24"/><rect x="263.6" y="13.3" width="1.05" height="107.3" fill="url(#g1_2)" fill-opacity="0.46"/><rect x="265.6" y="13.3" width="1.05" height="107.3" fill="url(#g1_2)" fill-opacity="0.82"/><rect x="267.6" y="13.3" width="1.05" height="107.3" fill="url(#g1_2)" fill-opacity="0.28"/><rect x="268.6" y="13.3" width="1.05" height="107.3" fill="url(#g1_2)"/><rect x="270.6" y="13.3" width="1.05" height="107.3" fill="url(#g1_2)" fill-opacity="0.08"/><rect x="271.6" y="13.3" width="1.05" height="107.3" fill="url(#g1_2)" fill-opacity="0.92"/><rect x="273.6" y="13.3" width="1.05" height="107.3" fill="url(#g1_2)" fill-opacity="0.12"/><rect x="274.6" y="13.3" width="1.05" height="107.3" fill="url(#g1_2)" fill-opacity="0.50"/><rect x="275.6" y="13.3" width="1.05" height="107.3" fill="url(#g1_2)" fill-opacity="0.48"/><rect x="276.6" y="13.3" width="1.05" height="107.3" fill="url(#g1_2)" fill-opacity="0.54"/><rect x="277.6" y="13.3" width="1.05" height="107.3" fill="url(#g1_2)" fill-opacity="0.44"/><rect x="278.6" y="13.3" width="1.05" height="107.3" fill="url(#g1_2)" fill-opacity="0.84"/><rect x="279.6" y="13.3" width="1.05" height="107.3" fill="url(#g1_2)" fill-opacity="0.70"/><rect x="280.6" y="13.3" width="1.05" height="107.3" fill="url(#g1_2)" fill-opacity="0.54"/><rect x="281.6" y="13.3" width="2.05" height="107.3" fill="url(#g1_2)" fill-opacity="0.02"/><rect x="284.6" y="13.3" width="1.05" height="107.3" fill="url(#g1_2)" fill-opacity="0.58"/><rect x="286.6" y="13.3" width="1.05" height="107.3" fill="url(#g1_2)" fill-opacity="0.66"/><rect x="287.6" y="13.3" width="1.05" height="107.3" fill="url(#g1_2)"/><rect x="289.6" y="13.3" width="1.05" height="107.3" fill="url(#g1_2)" fill-opacity="0.02"/><rect x="290.6" y="13.3" width="1.05" height="107.3" fill="url(#g1_2)" fill-opacity="0.10"/><rect x="291.6" y="13.3" width="1.05" height="107.3" fill="url(#g1_2)" fill-opacity="0.64"/><rect x="293.6" y="13.3" width="1.05" height="107.3" fill="url(#g1_2)" fill-opacity="0.24"/><rect x="294.6" y="13.3" width="1.05" height="107.3" fill="url(#g1_2)" fill-opacity="0.10"/><rect x="295.6" y="13.3" width="1.05" height="107.3" fill="url(#g1_2)" fill-opacity="0.20"/><rect x="296.6" y="13.3" width="1.05" height="107.3" fill="url(#g1_2)" fill-opacity="0.82"/><rect x="298.6" y="13.3" width="1.05" height="107.3" fill="url(#g1_2)" fill-opacity="0.32"/><rect x="299.6" y="13.3" width="1.05" height="107.3" fill="url(#g1_2)" fill-opacity="0.40"/><rect x="300.6" y="13.3" width="1.05" height="107.3" fill="url(#g1_2)" fill-opacity="0.64"/><rect x="302.6" y="13.3" width="1.05" height="107.3" fill="url(#g1_2)" fill-opacity="0.74"/><rect x="303.6" y="13.3" width="1.05" height="107.3" fill="url(#g1_2)" fill-opacity="0.48"/><rect x="304.6" y="13.3" width="1.05" height="107.3" fill="url(#g1_2)" fill-opacity="0.64"/><rect x="305.6" y="13.3" width="1.05" height="107.3" fill="url(#g1_2)" fill-opacity="0.32"/><rect x="307.6" y="13.3" width="1.05" height="107.3" fill="url(#g1_2)" fill-opacity="0.04"/><rect x="308.6" y="13.3" width="1.05" height="107.3" fill="url(#g1_2)" fill-opacity="0.62"/><rect x="309.6" y="13.3" width="1.05" height="107.3" fill="url(#g1_2)" fill-opacity="0.32"/><rect x="310.6" y="13.3" width="1.05" height="107.3" fill="url(#g1_2)" fill-opacity="0.28"/><rect x="311.6" y="13.3" width="2.05" height="107.3" fill="url(#g1_2)"/><rect x="313.6" y="13.3" width="1.05" height="107.3" fill="url(#g1_2)" fill-opacity="0.28"/><rect x="314.6" y="13.3" width="1.05" height="107.3" fill="url(#g1_2)"/><rect x="317.6" y="13.3" width="1.05" height="107.3" fill="url(#g1_2)" fill-opacity="0.64"/><rect x="318.6" y="13.3" width="1.05" height="107.3" fill="url(#g1_2)" fill-opacity="0.20"/><rect x="319.6" y="13.3" width="1.05" height="107.3" fill="url(#g1_2)" fill-opacity="0.54"/><rect x="320.6" y="13.3" width="1.05" height="107.3" fill="url(#g1_2)" fill-opacity="0.50"/><rect x="321.6" y="13.3" width="1.05" height="107.3" fill="url(#g1_2)" fill-opacity="0.26"/><rect x="322.6" y="13.3" width="1.05" height="107.3" fill="url(#g1_2)" fill-opacity="0.54"/></g>
<rect x="278.0" y="17.3" width="45.2" height="21.0" fill="#1a4ed4" fill-opacity="0.80"/>
<text transform="translate(282.20 27.10) scale(0.1000 0.1000)" font-size="72.0" style="fill:#fff">Levenshtein</text>
<text transform="translate(282.20 34.20) scale(0.1000 0.1000)" font-size="72.0" style="fill:#fff">distance: 60</text>
<rect x="330.3" y="13.3" width="6.7" height="107.3" fill="url(#cb)"/>
<text transform="translate(340.20 113.15) scale(0.1000 0.1000)" font-size="70.0">0</text>
<text transform="translate(340.20 95.39) scale(0.1000 0.1000)" font-size="70.0">10</text>
<text transform="translate(340.20 77.63) scale(0.1000 0.1000)" font-size="70.0">20</text>
<text transform="translate(340.20 59.87) scale(0.1000 0.1000)" font-size="70.0">30</text>
<text transform="translate(340.20 42.11) scale(0.1000 0.1000)" font-size="70.0">40</text>
<text transform="translate(340.20 24.35) scale(0.1000 0.1000)" font-size="70.0">50</text>
<text transform="translate(356.00 68.55) rotate(-90) scale(0.1000 0.1000)" font-size="72.5" text-anchor="middle">Power spectral density, dB</text>
<text transform="translate(272.80 9.70) scale(0.1000 0.1000)" font-size="70.0" text-anchor="middle" textLength="326" lengthAdjust="spacingAndGlyphs">Coil 40 kHz</text>
<text transform="translate(201.70 123.00) scale(0.1000 0.1000)" font-size="70.0" text-anchor="end">0</text>
<text transform="translate(201.70 101.54) scale(0.1000 0.1000)" font-size="70.0" text-anchor="end">1</text>
<text transform="translate(201.70 80.08) scale(0.1000 0.1000)" font-size="70.0" text-anchor="end">2</text>
<text transform="translate(201.70 58.62) scale(0.1000 0.1000)" font-size="70.0" text-anchor="end">3</text>
<text transform="translate(201.70 37.16) scale(0.1000 0.1000)" font-size="70.0" text-anchor="end">4</text>
<text transform="translate(201.70 15.70) scale(0.1000 0.1000)" font-size="70.0" text-anchor="end">5</text>
<text transform="translate(194.10 71.65) rotate(-90) scale(0.1000 0.1000)" font-size="70.0" text-anchor="middle">Frequency, kHz</text>
<text transform="translate(206.45 128.90) scale(0.1000 0.1000)" font-size="70.0" text-anchor="middle">0</text>
<text transform="translate(219.45 128.90) scale(0.1000 0.1000)" font-size="70.0" text-anchor="middle">5</text>
<text transform="translate(232.25 128.90) scale(0.1000 0.1000)" font-size="70.0" text-anchor="middle">10</text>
<text transform="translate(244.95 128.90) scale(0.1000 0.1000)" font-size="70.0" text-anchor="middle">15</text>
<text transform="translate(259.65 128.90) scale(0.1000 0.1000)" font-size="70.0" text-anchor="middle">20</text>
<text transform="translate(271.45 128.90) scale(0.1000 0.1000)" font-size="70.0" text-anchor="middle">25</text>
<text transform="translate(286.15 128.90) scale(0.1000 0.1000)" font-size="70.0" text-anchor="middle">30</text>
<text transform="translate(298.75 128.90) scale(0.1000 0.1000)" font-size="70.0" text-anchor="middle">35</text>
<text transform="translate(311.05 128.90) scale(0.1000 0.1000)" font-size="70.0" text-anchor="middle">40</text>
<text transform="translate(323.45 128.90) scale(0.1000 0.1000)" font-size="70.0" text-anchor="middle">45</text>
<text transform="translate(263.30 135.90) scale(0.1000 0.1000)" font-size="72.0" text-anchor="middle">Time, s</text>
<text transform="translate(269.80 154.10) scale(0.1000 0.1000)" font-size="100.0" text-anchor="middle" style="fill:#111">(<tspan font-weight="bold">b</tspan>)</text>
<g filter="url(#f2)"><rect x="392.2" y="13.3" width="122.4" height="107.3" fill="url(#g2_0)"/><rect x="392.2" y="13.3" width="8.05" height="107.3" fill="url(#g2_1)" fill-opacity="0.20"/><rect x="400.2" y="13.3" width="1.05" height="107.3" fill="url(#g2_1)" fill-opacity="0.26"/><rect x="401.2" y="13.3" width="1.05" height="107.3" fill="url(#g2_1)" fill-opacity="0.36"/><rect x="402.2" y="13.3" width="1.05" height="107.3" fill="url(#g2_1)" fill-opacity="0.44"/><rect x="403.2" y="13.3" width="2.05" height="107.3" fill="url(#g2_1)" fill-opacity="0.50"/><rect x="405.2" y="13.3" width="1.05" height="107.3" fill="url(#g2_1)" fill-opacity="0.48"/><rect x="406.2" y="13.3" width="1.05" height="107.3" fill="url(#g2_1)" fill-opacity="0.44"/><rect x="407.2" y="13.3" width="1.05" height="107.3" fill="url(#g2_1)" fill-opacity="0.34"/><rect x="408.2" y="13.3" width="1.05" height="107.3" fill="url(#g2_1)" fill-opacity="0.24"/><rect x="409.2" y="13.3" width="7.05" height="107.3" fill="url(#g2_1)" fill-opacity="0.20"/><rect x="416.2" y="13.3" width="1.05" height="107.3" fill="url(#g2_1)" fill-opacity="0.22"/><rect x="417.2" y="13.3" width="1.05" height="107.3" fill="url(#g2_1)" fill-opacity="0.30"/><rect x="418.2" y="13.3" width="1.05" height="107.3" fill="url(#g2_1)" fill-opacity="0.40"/><rect x="419.2" y="13.3" width="1.05" height="107.3" fill="url(#g2_1)" fill-opacity="0.48"/><rect x="420.2" y="13.3" width="1.05" height="107.3" fill="url(#g2_1)" fill-opacity="0.50"/><rect x="421.2" y="13.3" width="1.05" height="107.3" fill="url(#g2_1)" fill-opacity="0.46"/><rect x="422.2" y="13.3" width="1.05" height="107.3" fill="url(#g2_1)" fill-opacity="0.38"/><rect x="423.2" y="13.3" width="1.05" height="107.3" fill="url(#g2_1)" fill-opacity="0.26"/><rect x="424.2" y="13.3" width="1.05" height="107.3" fill="url(#g2_1)" fill-opacity="0.22"/><rect x="425.2" y="13.3" width="4.05" height="107.3" fill="url(#g2_1)" fill-opacity="0.20"/><rect x="429.2" y="13.3" width="1.05" height="107.3" fill="url(#g2_1)" fill-opacity="0.22"/><rect x="430.2" y="13.3" width="1.05" height="107.3" fill="url(#g2_1)" fill-opacity="0.30"/><rect x="431.2" y="13.3" width="1.05" height="107.3" fill="url(#g2_1)" fill-opacity="0.40"/><rect x="432.2" y="13.3" width="1.05" height="107.3" fill="url(#g2_1)" fill-opacity="0.48"/><rect x="433.2" y="13.3" width="2.05" height="107.3" fill="url(#g2_1)" fill-opacity="0.50"/><rect x="435.2" y="13.3" width="1.05" height="107.3" fill="url(#g2_1)" fill-opacity="0.48"/><rect x="436.2" y="13.3" width="1.05" height="107.3" fill="url(#g2_1)" fill-opacity="0.40"/><rect x="437.2" y="13.3" width="1.05" height="107.3" fill="url(#g2_1)" fill-opacity="0.30"/><rect x="438.2" y="13.3" width="1.05" height="107.3" fill="url(#g2_1)" fill-opacity="0.22"/><rect x="439.2" y="13.3" width="8.05" height="107.3" fill="url(#g2_1)" fill-opacity="0.20"/><rect x="447.2" y="13.3" width="1.05" height="107.3" fill="url(#g2_1)" fill-opacity="0.26"/><rect x="448.2" y="13.3" width="1.05" height="107.3" fill="url(#g2_1)" fill-opacity="0.36"/><rect x="449.2" y="13.3" width="1.05" height="107.3" fill="url(#g2_1)" fill-opacity="0.50"/><rect x="450.2" y="13.3" width="1.05" height="107.3" fill="url(#g2_1)" fill-opacity="0.58"/><rect x="451.2" y="13.3" width="4.05" height="107.3" fill="url(#g2_1)" fill-opacity="0.60"/><rect x="455.2" y="13.3" width="1.05" height="107.3" fill="url(#g2_1)" fill-opacity="0.58"/><rect x="456.2" y="13.3" width="1.05" height="107.3" fill="url(#g2_1)" fill-opacity="0.48"/><rect x="457.2" y="13.3" width="1.05" height="107.3" fill="url(#g2_1)" fill-opacity="0.32"/><rect x="458.2" y="13.3" width="1.05" height="107.3" fill="url(#g2_1)" fill-opacity="0.22"/><rect x="459.2" y="13.3" width="9.05" height="107.3" fill="url(#g2_1)" fill-opacity="0.20"/><rect x="468.2" y="13.3" width="1.05" height="107.3" fill="url(#g2_1)" fill-opacity="0.22"/><rect x="469.2" y="13.3" width="1.05" height="107.3" fill="url(#g2_1)" fill-opacity="0.32"/><rect x="470.2" y="13.3" width="1.05" height="107.3" fill="url(#g2_1)" fill-opacity="0.48"/><rect x="471.2" y="13.3" width="1.05" height="107.3" fill="url(#g2_1)" fill-opacity="0.58"/><rect x="472.2" y="13.3" width="7.05" height="107.3" fill="url(#g2_1)" fill-opacity="0.60"/><rect x="479.2" y="13.3" width="1.05" height="107.3" fill="url(#g2_1)" fill-opacity="0.62"/><rect x="480.2" y="13.3" width="1.05" height="107.3" fill="url(#g2_1)" fill-opacity="0.66"/><rect x="481.2" y="13.3" width="13.05" height="107.3" fill="url(#g2_1)" fill-opacity="0.70"/><rect x="494.2" y="13.3" width="1.05" height="107.3" fill="url(#g2_1)" fill-opacity="0.68"/><rect x="495.2" y="13.3" width="1.05" height="107.3" fill="url(#g2_1)" fill-opacity="0.54"/><rect x="496.2" y="13.3" width="1.05" height="107.3" fill="url(#g2_1)" fill-opacity="0.36"/><rect x="497.2" y="13.3" width="2.05" height="107.3" fill="url(#g2_1)" fill-opacity="0.22"/><rect x="499.2" y="13.3" width="1.05" height="107.3" fill="url(#g2_1)" fill-opacity="0.26"/><rect x="500.2" y="13.3" width="1.05" height="107.3" fill="url(#g2_1)" fill-opacity="0.36"/><rect x="501.2" y="13.3" width="1.05" height="107.3" fill="url(#g2_1)" fill-opacity="0.50"/><rect x="502.2" y="13.3" width="1.05" height="107.3" fill="url(#g2_1)" fill-opacity="0.58"/><rect x="503.2" y="13.3" width="3.05" height="107.3" fill="url(#g2_1)" fill-opacity="0.60"/><rect x="506.2" y="13.3" width="1.05" height="107.3" fill="url(#g2_1)" fill-opacity="0.58"/><rect x="507.2" y="13.3" width="1.05" height="107.3" fill="url(#g2_1)" fill-opacity="0.48"/><rect x="508.2" y="13.3" width="1.05" height="107.3" fill="url(#g2_1)" fill-opacity="0.32"/><rect x="509.2" y="13.3" width="1.05" height="107.3" fill="url(#g2_1)" fill-opacity="0.22"/><rect x="510.2" y="13.3" width="4.45" height="107.3" fill="url(#g2_1)" fill-opacity="0.20"/><rect x="392.2" y="13.3" width="9.05" height="107.3" fill="url(#g2_2)" fill-opacity="0.30"/><rect x="401.2" y="13.3" width="1.05" height="107.3" fill="url(#g2_2)" fill-opacity="0.38"/><rect x="402.2" y="13.3" width="1.05" height="107.3" fill="url(#g2_2)" fill-opacity="0.62"/><rect x="403.2" y="13.3" width="1.05" height="107.3" fill="url(#g2_2)" fill-opacity="0.88"/><rect x="404.2" y="13.3" width="3.05" height="107.3" fill="url(#g2_2)"/><rect x="407.2" y="13.3" width="1.05" height="107.3" fill="url(#g2_2)" fill-opacity="0.90"/><rect x="408.2" y="13.3" width="1.05" height="107.3" fill="url(#g2_2)" fill-opacity="0.64"/><rect x="409.2" y="13.3" width="1.05" height="107.3" fill="url(#g2_2)" fill-opacity="0.40"/><rect x="410.2" y="13.3" width="4.05" height="107.3" fill="url(#g2_2)" fill-opacity="0.30"/><rect x="414.2" y="13.3" width="1.05" height="107.3" fill="url(#g2_2)" fill-opacity="0.36"/><rect x="415.2" y="13.3" width="1.05" height="107.3" fill="url(#g2_2)" fill-opacity="0.52"/><rect x="416.2" y="13.3" width="1.05" height="107.3" fill="url(#g2_2)" fill-opacity="0.72"/><rect x="417.2" y="13.3" width="3.05" height="107.3" fill="url(#g2_2)" fill-opacity="0.80"/><rect x="420.2" y="13.3" width="1.05" height="107.3" fill="url(#g2_2)" fill-opacity="0.74"/><rect x="421.2" y="13.3" width="1.05" height="107.3" fill="url(#g2_2)" fill-opacity="0.54"/><rect x="422.2" y="13.3" width="1.05" height="107.3" fill="url(#g2_2)" fill-opacity="0.36"/><rect x="423.2" y="13.3" width="5.05" height="107.3" fill="url(#g2_2)" fill-opacity="0.30"/><rect x="428.2" y="13.3" width="1.05" height="107.3" fill="url(#g2_2)" fill-opacity="0.34"/><rect x="429.2" y="13.3" width="1.05" height="107.3" fill="url(#g2_2)" fill-opacity="0.48"/><rect x="430.2" y="13.3" width="1.05" height="107.3" fill="url(#g2_2)" fill-opacity="0.70"/><rect x="431.2" y="13.3" width="2.05" height="107.3" fill="url(#g2_2)" fill-opacity="0.80"/><rect x="433.2" y="13.3" width="1.05" height="107.3" fill="url(#g2_2)" fill-opacity="0.74"/><rect x="434.2" y="13.3" width="1.05" height="107.3" fill="url(#g2_2)" fill-opacity="0.56"/><rect x="435.2" y="13.3" width="1.05" height="107.3" fill="url(#g2_2)" fill-opacity="0.38"/><rect x="436.2" y="13.3" width="1.05" height="107.3" fill="url(#g2_2)" fill-opacity="0.48"/><rect x="437.2" y="13.3" width="1.05" height="107.3" fill="url(#g2_2)" fill-opacity="0.82"/><rect x="438.2" y="13.3" width="1.05" height="107.3" fill="url(#g2_2)" fill-opacity="0.98"/><rect x="439.2" y="13.3" width="4.05" height="107.3" fill="url(#g2_2)"/><rect x="443.2" y="13.3" width="1.05" height="107.3" fill="url(#g2_2)" fill-opacity="0.98"/><rect x="444.2" y="13.3" width="1.05" height="107.3" fill="url(#g2_2)" fill-opacity="0.82"/><rect x="445.2" y="13.3" width="1.05" height="107.3" fill="url(#g2_2)" fill-opacity="0.48"/><rect x="446.2" y="13.3" width="1.05" height="107.3" fill="url(#g2_2)" fill-opacity="0.42"/><rect x="447.2" y="13.3" width="1.05" height="107.3" fill="url(#g2_2)" fill-opacity="0.66"/><rect x="448.2" y="13.3" width="1.05" height="107.3" fill="url(#g2_2)" fill-opacity="0.90"/><rect x="449.2" y="13.3" width="7.05" height="107.3" fill="url(#g2_2)"/><rect x="456.2" y="13.3" width="1.05" height="107.3" fill="url(#g2_2)" fill-opacity="0.98"/><rect x="457.2" y="13.3" width="1.05" height="107.3" fill="url(#g2_2)" fill-opacity="0.82"/><rect x="458.2" y="13.3" width="1.05" height="107.3" fill="url(#g2_2)" fill-opacity="0.48"/><rect x="459.2" y="13.3" width="1.05" height="107.3" fill="url(#g2_2)" fill-opacity="0.32"/><rect x="460.2" y="13.3" width="9.05" height="107.3" fill="url(#g2_2)" fill-opacity="0.30"/><rect x="469.2" y="13.3" width="1.05" height="107.3" fill="url(#g2_2)" fill-opacity="0.32"/><rect x="470.2" y="13.3" width="1.05" height="107.3" fill="url(#g2_2)" fill-opacity="0.48"/><rect x="471.2" y="13.3" width="1.05" height="107.3" fill="url(#g2_2)" fill-opacity="0.82"/><rect x="472.2" y="13.3" width="1.05" height="107.3" fill="url(#g2_2)" fill-opacity="0.98"/><rect x="473.2" y="13.3" width="9.05" height="107.3" fill="url(#g2_2)"/><rect x="482.2" y="13.3" width="1.05" height="107.3" fill="url(#g2_2)" fill-opacity="0.98"/><rect x="483.2" y="13.3" width="1.05" height="107.3" fill="url(#g2_2)" fill-opacity="0.82"/><rect x="484.2" y="13.3" width="1.05" height="107.3" fill="url(#g2_2)" fill-opacity="0.48"/><rect x="485.2" y="13.3" width="1.05" height="107.3" fill="url(#g2_2)" fill-opacity="0.32"/><rect x="486.2" y="13.3" width="1.05" height="107.3" fill="url(#g2_2)" fill-opacity="0.30"/><rect x="487.2" y="13.3" width="1.05" height="107.3" fill="url(#g2_2)" fill-opacity="0.32"/><rect x="488.2" y="13.3" width="1.05" height="107.3" fill="url(#g2_2)" fill-opacity="0.42"/><rect x="489.2" y="13.3" width="1.05" height="107.3" fill="url(#g2_2)" fill-opacity="0.68"/><rect x="490.2" y="13.3" width="1.05" height="107.3" fill="url(#g2_2)" fill-opacity="0.78"/><rect x="491.2" y="13.3" width="1.05" height="107.3" fill="url(#g2_2)" fill-opacity="0.80"/><rect x="492.2" y="13.3" width="1.05" height="107.3" fill="url(#g2_2)" fill-opacity="0.74"/><rect x="493.2" y="13.3" width="1.05" height="107.3" fill="url(#g2_2)" fill-opacity="0.58"/><rect x="494.2" y="13.3" width="1.05" height="107.3" fill="url(#g2_2)" fill-opacity="0.40"/><rect x="495.2" y="13.3" width="1.05" height="107.3" fill="url(#g2_2)" fill-opacity="0.48"/><rect x="496.2" y="13.3" width="1.05" height="107.3" fill="url(#g2_2)" fill-opacity="0.82"/><rect x="497.2" y="13.3" width="1.05" height="107.3" fill="url(#g2_2)" fill-opacity="0.98"/><rect x="498.2" y="13.3" width="6.05" height="107.3" fill="url(#g2_2)"/><rect x="504.2" y="13.3" width="1.05" height="107.3" fill="url(#g2_2)" fill-opacity="0.90"/><rect x="505.2" y="13.3" width="1.05" height="107.3" fill="url(#g2_2)" fill-opacity="0.66"/><rect x="506.2" y="13.3" width="1.05" height="107.3" fill="url(#g2_2)" fill-opacity="0.40"/><rect x="507.2" y="13.3" width="1.05" height="107.3" fill="url(#g2_2)" fill-opacity="0.44"/><rect x="508.2" y="13.3" width="2.05" height="107.3" fill="url(#g2_2)" fill-opacity="0.66"/><rect x="510.2" y="13.3" width="1.05" height="107.3" fill="url(#g2_2)" fill-opacity="0.42"/><rect x="511.2" y="13.3" width="1.05" height="107.3" fill="url(#g2_2)" fill-opacity="0.32"/><rect x="512.2" y="13.3" width="2.45" height="107.3" fill="url(#g2_2)" fill-opacity="0.30"/><rect x="392.2" y="13.3" width="1.05" height="107.3" fill="url(#g2_3)" fill-opacity="0.36"/><rect x="393.2" y="13.3" width="1.05" height="107.3" fill="url(#g2_3)" fill-opacity="0.08"/><rect x="394.2" y="13.3" width="1.05" height="107.3" fill="url(#g2_3)"/><rect x="395.2" y="13.3" width="1.05" height="107.3" fill="url(#g2_3)" fill-opacity="0.12"/><rect x="396.2" y="13.3" width="1.05" height="107.3" fill="url(#g2_3)" fill-opacity="0.24"/><rect x="397.2" y="13.3" width="1.05" height="107.3" fill="url(#g2_3)" fill-opacity="0.76"/><rect x="400.2" y="13.3" width="1.05" height="107.3" fill="url(#g2_3)" fill-opacity="0.26"/><rect x="401.2" y="13.3" width="1.05" height="107.3" fill="url(#g2_3)" fill-opacity="0.08"/><rect x="403.2" y="13.3" width="1.05" height="107.3" fill="url(#g2_3)" fill-opacity="0.12"/><rect x="404.2" y="13.3" width="1.05" height="107.3" fill="url(#g2_3)" fill-opacity="0.08"/><rect x="405.2" y="13.3" width="1.05" height="107.3" fill="url(#g2_3)" fill-opacity="0.42"/><rect x="408.2" y="13.3" width="1.05" height="107.3" fill="url(#g2_3)" fill-opacity="0.60"/><rect x="409.2" y="13.3" width="1.05" height="107.3" fill="url(#g2_3)" fill-opacity="0.86"/><rect x="411.2" y="13.3" width="1.05" height="107.3" fill="url(#g2_3)" fill-opacity="0.42"/><rect x="415.2" y="13.3" width="1.05" height="107.3" fill="url(#g2_3)" fill-opacity="0.06"/><rect x="416.2" y="13.3" width="1.05" height="107.3" fill="url(#g2_3)" fill-opacity="0.54"/><rect x="417.2" y="13.3" width="1.05" height="107.3" fill="url(#g2_3)" fill-opacity="0.44"/><rect x="418.2" y="13.3" width="1.05" height="107.3" fill="url(#g2_3)" fill-opacity="0.22"/><rect x="419.2" y="13.3" width="1.05" height="107.3" fill="url(#g2_3)" fill-opacity="0.08"/><rect x="420.2" y="13.3" width="1.05" height="107.3" fill="url(#g2_3)" fill-opacity="0.20"/><rect x="421.2" y="13.3" width="1.05" height="107.3" fill="url(#g2_3)" fill-opacity="0.16"/><rect x="422.2" y="13.3" width="1.05" height="107.3" fill="url(#g2_3)" fill-opacity="0.48"/><rect x="424.2" y="13.3" width="1.05" height="107.3" fill="url(#g2_3)" fill-opacity="0.20"/><rect x="425.2" y="13.3" width="1.05" height="107.3" fill="url(#g2_3)" fill-opacity="0.16"/><rect x="426.2" y="13.3" width="1.05" height="107.3" fill="url(#g2_3)" fill-opacity="0.18"/><rect x="427.2" y="13.3" width="1.05" height="107.3" fill="url(#g2_3)" fill-opacity="0.28"/><rect x="428.2" y="13.3" width="1.05" height="107.3" fill="url(#g2_3)" fill-opacity="0.26"/><rect x="429.2" y="13.3" width="1.05" height="107.3" fill="url(#g2_3)" fill-opacity="0.66"/><rect x="430.2" y="13.3" width="1.05" height="107.3" fill="url(#g2_3)" fill-opacity="0.16"/><rect x="431.2" y="13.3" width="1.05" height="107.3" fill="url(#g2_3)" fill-opacity="0.74"/><rect x="432.2" y="13.3" width="1.05" height="107.3" fill="url(#g2_3)" fill-opacity="0.10"/><rect x="433.2" y="13.3" width="1.05" height="107.3" fill="url(#g2_3)" fill-opacity="0.04"/><rect x="434.2" y="13.3" width="1.05" height="107.3" fill="url(#g2_3)" fill-opacity="0.24"/><rect x="435.2" y="13.3" width="1.05" height="107.3" fill="url(#g2_3)" fill-opacity="0.32"/><rect x="436.2" y="13.3" width="1.05" height="107.3" fill="url(#g2_3)" fill-opacity="0.30"/><rect x="437.2" y="13.3" width="1.05" height="107.3" fill="url(#g2_3)" fill-opacity="0.66"/><rect x="438.2" y="13.3" width="1.05" height="107.3" fill="url(#g2_3)" fill-opacity="0.60"/><rect x="439.2" y="13.3" width="1.05" height="107.3" fill="url(#g2_3)" fill-opacity="0.38"/><rect x="440.2" y="13.3" width="1.05" height="107.3" fill="url(#g2_3)" fill-opacity="0.08"/><rect x="441.2" y="13.3" width="1.05" height="107.3" fill="url(#g2_3)" fill-opacity="0.16"/><rect x="442.2" y="13.3" width="1.05" height="107.3" fill="url(#g2_3)" fill-opacity="0.70"/><rect x="443.2" y="13.3" width="1.05" height="107.3" fill="url(#g2_3)" fill-opacity="0.28"/><rect x="447.2" y="13.3" width="1.05" height="107.3" fill="url(#g2_3)" fill-opacity="0.60"/><rect x="448.2" y="13.3" width="1.05" height="107.3" fill="url(#g2_3)" fill-opacity="0.16"/><rect x="449.2" y="13.3" width="1.05" height="107.3" fill="url(#g2_3)"/><rect x="450.2" y="13.3" width="1.05" height="107.3" fill="url(#g2_3)" fill-opacity="0.42"/><rect x="451.2" y="13.3" width="1.05" height="107.3" fill="url(#g2_3)" fill-opacity="0.24"/><rect x="452.2" y="13.3" width="1.05" height="107.3" fill="url(#g2_3)" fill-opacity="0.04"/><rect x="453.2" y="13.3" width="1.05" height="107.3" fill="url(#g2_3)" fill-opacity="0.54"/><rect x="454.2" y="13.3" width="1.05" height="107.3" fill="url(#g2_3)" fill-opacity="0.12"/><rect x="456.2" y="13.3" width="1.05" height="107.3" fill="url(#g2_3)" fill-opacity="0.40"/><rect x="457.2" y="13.3" width="1.05" height="107.3" fill="url(#g2_3)" fill-opacity="0.20"/><rect x="458.2" y="13.3" width="1.05" height="107.3" fill="url(#g2_3)" fill-opacity="0.62"/><rect x="459.2" y="13.3" width="1.05" height="107.3" fill="url(#g2_3)" fill-opacity="0.18"/><rect x="461.2" y="13.3" width="1.05" height="107.3" fill="url(#g2_3)" fill-opacity="0.48"/><rect x="463.2" y="13.3" width="1.05" height="107.3" fill="url(#g2_3)" fill-opacity="0.74"/><rect x="464.2" y="13.3" width="1.05" height="107.3" fill="url(#g2_3)" fill-opacity="0.84"/><rect x="465.2" y="13.3" width="1.05" height="107.3" fill="url(#g2_3)" fill-opacity="0.06"/><rect x="468.2" y="13.3" width="1.05" height="107.3" fill="url(#g2_3)" fill-opacity="0.50"/><rect x="469.2" y="13.3" width="1.05" height="107.3" fill="url(#g2_3)" fill-opacity="0.12"/><rect x="471.2" y="13.3" width="1.05" height="107.3" fill="url(#g2_3)" fill-opacity="0.12"/><rect x="472.2" y="13.3" width="1.05" height="107.3" fill="url(#g2_3)" fill-opacity="0.94"/><rect x="473.2" y="13.3" width="1.05" height="107.3" fill="url(#g2_3)" fill-opacity="0.32"/><rect x="474.2" y="13.3" width="1.05" height="107.3" fill="url(#g2_3)" fill-opacity="0.46"/><rect x="475.2" y="13.3" width="1.05" height="107.3" fill="url(#g2_3)" fill-opacity="0.48"/><rect x="476.2" y="13.3" width="1.05" height="107.3" fill="url(#g2_3)" fill-opacity="0.56"/><rect x="477.2" y="13.3" width="1.05" height="107.3" fill="url(#g2_3)" fill-opacity="0.58"/><rect x="479.2" y="13.3" width="1.05" height="107.3" fill="url(#g2_3)" fill-opacity="0.12"/><rect x="482.2" y="13.3" width="1.05" height="107.3" fill="url(#g2_3)" fill-opacity="0.60"/><rect x="483.2" y="13.3" width="1.05" height="107.3" fill="url(#g2_3)" fill-opacity="0.02"/><rect x="484.2" y="13.3" width="1.05" height="107.3" fill="url(#g2_3)" fill-opacity="0.18"/><rect x="487.2" y="13.3" width="1.05" height="107.3" fill="url(#g2_3)" fill-opacity="0.48"/><rect x="488.2" y="13.3" width="2.05" height="107.3" fill="url(#g2_3)" fill-opacity="0.04"/><rect x="490.2" y="13.3" width="2.05" height="107.3" fill="url(#g2_3)" fill-opacity="0.38"/><rect x="492.2" y="13.3" width="1.05" height="107.3" fill="url(#g2_3)" fill-opacity="0.48"/><rect x="493.2" y="13.3" width="1.05" height="107.3" fill="url(#g2_3)" fill-opacity="0.26"/><rect x="495.2" y="13.3" width="1.05" height="107.3" fill="url(#g2_3)" fill-opacity="0.42"/><rect x="496.2" y="13.3" width="1.05" height="107.3" fill="url(#g2_3)" fill-opacity="0.38"/><rect x="497.2" y="13.3" width="1.05" height="107.3" fill="url(#g2_3)" fill-opacity="0.56"/><rect x="499.2" y="13.3" width="1.05" height="107.3" fill="url(#g2_3)"/><rect x="501.2" y="13.3" width="1.05" height="107.3" fill="url(#g2_3)" fill-opacity="0.46"/><rect x="502.2" y="13.3" width="1.05" height="107.3" fill="url(#g2_3)" fill-opacity="0.22"/><rect x="503.2" y="13.3" width="1.05" height="107.3" fill="url(#g2_3)" fill-opacity="0.02"/><rect x="504.2" y="13.3" width="1.05" height="107.3" fill="url(#g2_3)" fill-opacity="0.48"/><rect x="505.2" y="13.3" width="1.05" height="107.3" fill="url(#g2_3)" fill-opacity="0.10"/><rect x="508.2" y="13.3" width="1.05" height="107.3" fill="url(#g2_3)" fill-opacity="0.36"/><rect x="509.2" y="13.3" width="1.05" height="107.3" fill="url(#g2_3)" fill-opacity="0.98"/><rect x="511.2" y="13.3" width="1.05" height="107.3" fill="url(#g2_3)" fill-opacity="0.20"/><rect x="512.2" y="13.3" width="1.05" height="107.3" fill="url(#g2_3)" fill-opacity="0.70"/><rect x="513.2" y="13.3" width="1.05" height="107.3" fill="url(#g2_3)" fill-opacity="0.42"/><rect x="514.2" y="13.3" width="0.45" height="107.3" fill="url(#g2_3)" fill-opacity="0.06"/></g>
<rect x="465.0" y="18.3" width="45.6" height="21.0" fill="#1a58dc" fill-opacity="0.85"/>
<text transform="translate(469.20 28.10) scale(0.1000 0.1000)" font-size="72.0" style="fill:#fff">Levenshtein</text>
<text transform="translate(469.20 35.20) scale(0.1000 0.1000)" font-size="72.0" style="fill:#fff">distance: 79</text>
<rect x="517.9" y="13.3" width="6.7" height="107.3" fill="url(#cb)"/>
<text transform="translate(527.80 115.25) scale(0.1000 0.1000)" font-size="70.0">0</text>
<text transform="translate(527.80 97.49) scale(0.1000 0.1000)" font-size="70.0">10</text>
<text transform="translate(527.80 79.73) scale(0.1000 0.1000)" font-size="70.0">20</text>
<text transform="translate(527.80 61.97) scale(0.1000 0.1000)" font-size="70.0">30</text>
<text transform="translate(527.80 44.21) scale(0.1000 0.1000)" font-size="70.0">40</text>
<text transform="translate(527.80 26.45) scale(0.1000 0.1000)" font-size="70.0">50</text>
<text transform="translate(544.60 68.55) rotate(-90) scale(0.1000 0.1000)" font-size="72.5" text-anchor="middle">Power spectral density, dB</text>
<text transform="translate(457.80 9.70) scale(0.1000 0.1000)" font-size="70.0" text-anchor="middle" textLength="489" lengthAdjust="spacingAndGlyphs">Free fiber 40 kHz</text>
<text transform="translate(389.30 123.00) scale(0.1000 0.1000)" font-size="70.0" text-anchor="end">0</text>
<text transform="translate(389.30 101.54) scale(0.1000 0.1000)" font-size="70.0" text-anchor="end">1</text>
<text transform="translate(389.30 80.08) scale(0.1000 0.1000)" font-size="70.0" text-anchor="end">2</text>
<text transform="translate(389.30 58.62) scale(0.1000 0.1000)" font-size="70.0" text-anchor="end">3</text>
<text transform="translate(389.30 37.16) scale(0.1000 0.1000)" font-size="70.0" text-anchor="end">4</text>
<text transform="translate(389.30 15.70) scale(0.1000 0.1000)" font-size="70.0" text-anchor="end">5</text>
<text transform="translate(381.70 71.65) rotate(-90) scale(0.1000 0.1000)" font-size="70.0" text-anchor="middle">Frequency, kHz</text>
<text transform="translate(394.50 128.90) scale(0.1000 0.1000)" font-size="70.0" text-anchor="middle">0</text>
<text transform="translate(406.67 128.90) scale(0.1000 0.1000)" font-size="70.0" text-anchor="middle">5</text>
<text transform="translate(419.85 128.90) scale(0.1000 0.1000)" font-size="70.0" text-anchor="middle">10</text>
<text transform="translate(433.52 128.90) scale(0.1000 0.1000)" font-size="70.0" text-anchor="middle">15</text>
<text transform="translate(447.90 128.90) scale(0.1000 0.1000)" font-size="70.0" text-anchor="middle">20</text>
<text transform="translate(462.18 128.90) scale(0.1000 0.1000)" font-size="70.0" text-anchor="middle">25</text>
<text transform="translate(476.75 128.90) scale(0.1000 0.1000)" font-size="70.0" text-anchor="middle">30</text>
<text transform="translate(490.82 128.90) scale(0.1000 0.1000)" font-size="70.0" text-anchor="middle">35</text>
<text transform="translate(504.70 128.90) scale(0.1000 0.1000)" font-size="70.0" text-anchor="middle">40</text>
<text transform="translate(450.90 135.90) scale(0.1000 0.1000)" font-size="72.0" text-anchor="middle">Time, s</text>
<text transform="translate(457.40 154.10) scale(0.1000 0.1000)" font-size="100.0" text-anchor="middle" style="fill:#111">(<tspan font-weight="bold">c</tspan>)</text>
<g filter="url(#f3)"><rect x="20.4" y="173.7" width="122.4" height="107.3" fill="url(#g3_0)"/><rect x="20.4" y="173.7" width="1.05" height="107.3" fill="url(#g3_1)" fill-opacity="0.18"/><rect x="21.4" y="173.7" width="1.05" height="107.3" fill="url(#g3_1)" fill-opacity="0.20"/><rect x="22.4" y="173.7" width="2.05" height="107.3" fill="url(#g3_1)" fill-opacity="0.24"/><rect x="24.4" y="173.7" width="1.05" height="107.3" fill="url(#g3_1)" fill-opacity="0.92"/><rect x="25.4" y="173.7" width="1.05" height="107.3" fill="url(#g3_1)" fill-opacity="0.56"/><rect x="26.4" y="173.7" width="1.05" height="107.3" fill="url(#g3_1)" fill-opacity="0.36"/><rect x="27.4" y="173.7" width="1.05" height="107.3" fill="url(#g3_1)" fill-opacity="0.34"/><rect x="28.4" y="173.7" width="1.05" height="107.3" fill="url(#g3_1)" fill-opacity="0.44"/><rect x="29.4" y="173.7" width="1.05" height="107.3" fill="url(#g3_1)" fill-opacity="0.10"/><rect x="30.4" y="173.7" width="1.05" height="107.3" fill="url(#g3_1)" fill-opacity="0.08"/><rect x="31.4" y="173.7" width="2.05" height="107.3" fill="url(#g3_1)" fill-opacity="0.24"/><rect x="33.4" y="173.7" width="1.05" height="107.3" fill="url(#g3_1)" fill-opacity="0.16"/><rect x="34.4" y="173.7" width="1.05" height="107.3" fill="url(#g3_1)" fill-opacity="0.04"/><rect x="35.4" y="173.7" width="1.05" height="107.3" fill="url(#g3_1)" fill-opacity="0.60"/><rect x="36.4" y="173.7" width="1.05" height="107.3" fill="url(#g3_1)" fill-opacity="0.88"/><rect x="37.4" y="173.7" width="1.05" height="107.3" fill="url(#g3_1)" fill-opacity="0.94"/><rect x="38.4" y="173.7" width="1.05" height="107.3" fill="url(#g3_1)" fill-opacity="0.62"/><rect x="39.4" y="173.7" width="1.05" height="107.3" fill="url(#g3_1)" fill-opacity="0.60"/><rect x="40.4" y="173.7" width="2.05" height="107.3" fill="url(#g3_1)" fill-opacity="0.34"/><rect x="42.4" y="173.7" width="1.05" height="107.3" fill="url(#g3_1)" fill-opacity="0.36"/><rect x="43.4" y="173.7" width="1.05" height="107.3" fill="url(#g3_1)" fill-opacity="0.34"/><rect x="44.4" y="173.7" width="1.05" height="107.3" fill="url(#g3_1)" fill-opacity="0.62"/><rect x="45.4" y="173.7" width="1.05" height="107.3" fill="url(#g3_1)" fill-opacity="0.90"/><rect x="46.4" y="173.7" width="1.05" height="107.3" fill="url(#g3_1)" fill-opacity="0.94"/><rect x="47.4" y="173.7" width="1.05" height="107.3" fill="url(#g3_1)"/><rect x="48.4" y="173.7" width="1.05" height="107.3" fill="url(#g3_1)" fill-opacity="0.76"/><rect x="49.4" y="173.7" width="1.05" height="107.3" fill="url(#g3_1)" fill-opacity="0.30"/><rect x="50.4" y="173.7" width="1.05" height="107.3" fill="url(#g3_1)" fill-opacity="0.16"/><rect x="52.4" y="173.7" width="1.05" height="107.3" fill="url(#g3_1)" fill-opacity="0.04"/><rect x="53.4" y="173.7" width="1.05" height="107.3" fill="url(#g3_1)" fill-opacity="0.26"/><rect x="54.4" y="173.7" width="1.05" height="107.3" fill="url(#g3_1)" fill-opacity="0.98"/><rect x="55.4" y="173.7" width="1.05" height="107.3" fill="url(#g3_1)"/><rect x="56.4" y="173.7" width="1.05" height="107.3" fill="url(#g3_1)" fill-opacity="0.96"/><rect x="57.4" y="173.7" width="1.05" height="107.3" fill="url(#g3_1)"/><rect x="58.4" y="173.7" width="1.05" height="107.3" fill="url(#g3_1)" fill-opacity="0.94"/><rect x="59.4" y="173.7" width="1.05" height="107.3" fill="url(#g3_1)" fill-opacity="0.74"/><rect x="60.4" y="173.7" width="1.05" height="107.3" fill="url(#g3_1)" fill-opacity="0.08"/><rect x="61.4" y="173.7" width="1.05" height="107.3" fill="url(#g3_1)" fill-opacity="0.06"/><rect x="63.4" y="173.7" width="1.05" height="107.3" fill="url(#g3_1)" fill-opacity="0.02"/><rect x="65.4" y="173.7" width="2.05" height="107.3" fill="url(#g3_1)" fill-opacity="0.04"/><rect x="67.4" y="173.7" width="2.05" height="107.3" fill="url(#g3_1)" fill-opacity="0.02"/><rect x="70.4" y="173.7" width="1.05" height="107.3" fill="url(#g3_1)" fill-opacity="0.08"/><rect x="71.4" y="173.7" width="1.05" height="107.3" fill="url(#g3_1)" fill-opacity="0.10"/><rect x="72.4" y="173.7" width="1.05" height="107.3" fill="url(#g3_1)" fill-opacity="0.20"/><rect x="73.4" y="173.7" width="1.05" height="107.3" fill="url(#g3_1)" fill-opacity="0.62"/><rect x="74.4" y="173.7" width="1.05" height="107.3" fill="url(#g3_1)" fill-opacity="0.42"/><rect x="75.4" y="173.7" width="1.05" height="107.3" fill="url(#g3_1)" fill-opacity="0.58"/><rect x="76.4" y="173.7" width="1.05" height="107.3" fill="url(#g3_1)" fill-opacity="0.50"/><rect x="77.4" y="173.7" width="1.05" height="107.3" fill="url(#g3_1)" fill-opacity="0.68"/><rect x="78.4" y="173.7" width="1.05" height="107.3" fill="url(#g3_1)" fill-opacity="0.52"/><rect x="79.4" y="173.7" width="1.05" height="107.3" fill="url(#g3_1)" fill-opacity="0.66"/><rect x="80.4" y="173.7" width="1.05" height="107.3" fill="url(#g3_1)" fill-opacity="0.62"/><rect x="81.4" y="173.7" width="1.05" height="107.3" fill="url(#g3_1)" fill-opacity="0.64"/><rect x="82.4" y="173.7" width="1.05" height="107.3" fill="url(#g3_1)" fill-opacity="0.12"/><rect x="83.4" y="173.7" width="1.05" height="107.3" fill="url(#g3_1)" fill-opacity="0.06"/><rect x="84.4" y="173.7" width="1.05" height="107.3" fill="url(#g3_1)" fill-opacity="0.02"/><rect x="85.4" y="173.7" width="1.05" height="107.3" fill="url(#g3_1)" fill-opacity="0.06"/><rect x="86.4" y="173.7" width="1.05" height="107.3" fill="url(#g3_1)" fill-opacity="0.54"/><rect x="87.4" y="173.7" width="1.05" height="107.3" fill="url(#g3_1)" fill-opacity="0.62"/><rect x="88.4" y="173.7" width="1.05" height="107.3" fill="url(#g3_1)" fill-opacity="0.80"/><rect x="89.4" y="173.7" width="1.05" height="107.3" fill="url(#g3_1)" fill-opacity="0.76"/><rect x="90.4" y="173.7" width="1.05" height="107.3" fill="url(#g3_1)" fill-opacity="0.62"/><rect x="91.4" y="173.7" width="1.05" height="107.3" fill="url(#g3_1)" fill-opacity="0.66"/><rect x="92.4" y="173.7" width="1.05" height="107.3" fill="url(#g3_1)" fill-opacity="0.46"/><rect x="93.4" y="173.7" width="1.05" height="107.3" fill="url(#g3_1)" fill-opacity="0.24"/><rect x="94.4" y="173.7" width="1.05" height="107.3" fill="url(#g3_1)" fill-opacity="0.38"/><rect x="95.4" y="173.7" width="1.05" height="107.3" fill="url(#g3_1)" fill-opacity="0.56"/><rect x="96.4" y="173.7" width="1.05" height="107.3" fill="url(#g3_1)" fill-opacity="0.50"/><rect x="97.4" y="173.7" width="1.05" height="107.3" fill="url(#g3_1)" fill-opacity="0.62"/><rect x="98.4" y="173.7" width="1.05" height="107.3" fill="url(#g3_1)" fill-opacity="0.40"/><rect x="99.4" y="173.7" width="1.05" height="107.3" fill="url(#g3_1)" fill-opacity="0.32"/><rect x="100.4" y="173.7" width="1.05" height="107.3" fill="url(#g3_1)" fill-opacity="0.48"/><rect x="101.4" y="173.7" width="1.05" height="107.3" fill="url(#g3_1)" fill-opacity="0.28"/><rect x="102.4" y="173.7" width="1.05" height="107.3" fill="url(#g3_1)" fill-opacity="0.16"/><rect x="103.4" y="173.7" width="1.05" height="107.3" fill="url(#g3_1)" fill-opacity="0.36"/><rect x="104.4" y="173.7" width="1.05" height="107.3" fill="url(#g3_1)" fill-opacity="0.08"/><rect x="105.4" y="173.7" width="1.05" height="107.3" fill="url(#g3_1)" fill-opacity="0.28"/><rect x="106.4" y="173.7" width="1.05" height="107.3" fill="url(#g3_1)" fill-opacity="0.44"/><rect x="107.4" y="173.7" width="2.05" height="107.3" fill="url(#g3_1)" fill-opacity="0.42"/><rect x="109.4" y="173.7" width="1.05" height="107.3" fill="url(#g3_1)" fill-opacity="0.28"/><rect x="110.4" y="173.7" width="1.05" height="107.3" fill="url(#g3_1)" fill-opacity="0.34"/><rect x="111.4" y="173.7" width="1.05" height="107.3" fill="url(#g3_1)" fill-opacity="0.28"/><rect x="112.4" y="173.7" width="1.05" height="107.3" fill="url(#g3_1)" fill-opacity="0.04"/><rect x="113.4" y="173.7" width="1.05" height="107.3" fill="url(#g3_1)" fill-opacity="0.06"/><rect x="114.4" y="173.7" width="1.05" height="107.3" fill="url(#g3_1)" fill-opacity="0.08"/><rect x="115.4" y="173.7" width="1.05" height="107.3" fill="url(#g3_1)" fill-opacity="0.02"/><rect x="116.4" y="173.7" width="1.05" height="107.3" fill="url(#g3_1)" fill-opacity="0.06"/><rect x="117.4" y="173.7" width="1.05" height="107.3" fill="url(#g3_1)" fill-opacity="0.26"/><rect x="118.4" y="173.7" width="1.05" height="107.3" fill="url(#g3_1)" fill-opacity="0.12"/><rect x="119.4" y="173.7" width="2.05" height="107.3" fill="url(#g3_1)" fill-opacity="0.14"/><rect x="121.4" y="173.7" width="1.05" height="107.3" fill="url(#g3_1)" fill-opacity="0.02"/><rect x="122.4" y="173.7" width="1.05" height="107.3" fill="url(#g3_1)" fill-opacity="0.14"/><rect x="123.4" y="173.7" width="1.05" height="107.3" fill="url(#g3_1)" fill-opacity="0.22"/><rect x="124.4" y="173.7" width="2.05" height="107.3" fill="url(#g3_1)" fill-opacity="0.20"/><rect x="126.4" y="173.7" width="1.05" height="107.3" fill="url(#g3_1)" fill-opacity="0.16"/><rect x="127.4" y="173.7" width="1.05" height="107.3" fill="url(#g3_1)" fill-opacity="0.04"/><rect x="128.4" y="173.7" width="1.05" height="107.3" fill="url(#g3_1)" fill-opacity="0.10"/><rect x="129.4" y="173.7" width="1.05" height="107.3" fill="url(#g3_1)" fill-opacity="0.08"/><rect x="130.4" y="173.7" width="1.05" height="107.3" fill="url(#g3_1)" fill-opacity="0.14"/><rect x="131.4" y="173.7" width="1.05" height="107.3" fill="url(#g3_1)" fill-opacity="0.08"/><rect x="132.4" y="173.7" width="3.05" height="107.3" fill="url(#g3_1)" fill-opacity="0.06"/><rect x="135.4" y="173.7" width="1.05" height="107.3" fill="url(#g3_1)" fill-opacity="0.10"/><rect x="136.4" y="173.7" width="1.05" height="107.3" fill="url(#g3_1)" fill-opacity="0.08"/><rect x="137.4" y="173.7" width="1.05" height="107.3" fill="url(#g3_1)" fill-opacity="0.12"/><rect x="138.4" y="173.7" width="1.05" height="107.3" fill="url(#g3_1)" fill-opacity="0.04"/><rect x="142.4" y="173.7" width="0.45" height="107.3" fill="url(#g3_1)" fill-opacity="0.04"/><rect x="20.4" y="173.7" width="16.05" height="107.3" fill="url(#g3_2)" fill-opacity="0.64"/><rect x="36.4" y="173.7" width="3.05" height="107.3" fill="url(#g3_2)" fill-opacity="0.66"/><rect x="39.4" y="173.7" width="1.05" height="107.3" fill="url(#g3_2)" fill-opacity="0.68"/><rect x="40.4" y="173.7" width="1.05" height="107.3" fill="url(#g3_2)" fill-opacity="0.92"/><rect x="41.4" y="173.7" width="23.05" height="107.3" fill="url(#g3_2)" fill-opacity="0.94"/><rect x="64.4" y="173.7" width="1.05" height="107.3" fill="url(#g3_2)" fill-opacity="0.90"/><rect x="65.4" y="173.7" width="1.05" height="107.3" fill="url(#g3_2)" fill-opacity="0.54"/><rect x="66.4" y="173.7" width="6.05" height="107.3" fill="url(#g3_2)" fill-opacity="0.50"/><rect x="72.4" y="173.7" width="1.05" height="107.3" fill="url(#g3_2)" fill-opacity="0.52"/><rect x="73.4" y="173.7" width="38.05" height="107.3" fill="url(#g3_2)" fill-opacity="0.64"/><rect x="111.4" y="173.7" width="1.05" height="107.3" fill="url(#g3_2)" fill-opacity="0.58"/><rect x="112.4" y="173.7" width="1.05" height="107.3" fill="url(#g3_2)" fill-opacity="0.12"/><rect x="30.4" y="173.7" width="1.05" height="107.3" fill="url(#g3_3)" fill-opacity="0.06"/><rect x="31.4" y="173.7" width="1.05" height="107.3" fill="url(#g3_3)" fill-opacity="0.28"/><rect x="32.4" y="173.7" width="1.05" height="107.3" fill="url(#g3_3)" fill-opacity="0.64"/><rect x="33.4" y="173.7" width="1.05" height="107.3" fill="url(#g3_3)" fill-opacity="0.78"/><rect x="34.4" y="173.7" width="1.05" height="107.3" fill="url(#g3_3)" fill-opacity="0.68"/><rect x="35.4" y="173.7" width="1.05" height="107.3" fill="url(#g3_3)" fill-opacity="0.36"/><rect x="36.4" y="173.7" width="1.05" height="107.3" fill="url(#g3_3)" fill-opacity="0.10"/><rect x="37.4" y="173.7" width="1.05" height="107.3" fill="url(#g3_3)" fill-opacity="0.18"/><rect x="38.4" y="173.7" width="1.05" height="107.3" fill="url(#g3_3)" fill-opacity="0.52"/><rect x="39.4" y="173.7" width="2.05" height="107.3" fill="url(#g3_3)" fill-opacity="0.68"/><rect x="41.4" y="173.7" width="1.05" height="107.3" fill="url(#g3_3)" fill-opacity="0.52"/><rect x="42.4" y="173.7" width="1.05" height="107.3" fill="url(#g3_3)" fill-opacity="0.18"/><rect x="43.4" y="173.7" width="1.05" height="107.3" fill="url(#g3_3)" fill-opacity="0.02"/><rect x="47.4" y="173.7" width="1.05" height="107.3" fill="url(#g3_3)" fill-opacity="0.08"/><rect x="48.4" y="173.7" width="1.05" height="107.3" fill="url(#g3_3)" fill-opacity="0.28"/><rect x="49.4" y="173.7" width="1.05" height="107.3" fill="url(#g3_3)" fill-opacity="0.44"/><rect x="50.4" y="173.7" width="1.05" height="107.3" fill="url(#g3_3)" fill-opacity="0.48"/><rect x="51.4" y="173.7" width="1.05" height="107.3" fill="url(#g3_3)" fill-opacity="0.34"/><rect x="52.4" y="173.7" width="1.05" height="107.3" fill="url(#g3_3)" fill-opacity="0.12"/><rect x="53.4" y="173.7" width="1.05" height="107.3" fill="url(#g3_3)" fill-opacity="0.02"/><rect x="58.4" y="173.7" width="1.05" height="107.3" fill="url(#g3_3)" fill-opacity="0.02"/><rect x="59.4" y="173.7" width="1.05" height="107.3" fill="url(#g3_3)" fill-opacity="0.20"/><rect x="60.4" y="173.7" width="1.05" height="107.3" fill="url(#g3_3)" fill-opacity="0.64"/><rect x="61.4" y="173.7" width="1.05" height="107.3" fill="url(#g3_3)" fill-opacity="0.94"/><rect x="62.4" y="173.7" width="9.05" height="107.3" fill="url(#g3_3)"/><rect x="71.4" y="173.7" width="1.05" height="107.3" fill="url(#g3_3)" fill-opacity="0.98"/><rect x="72.4" y="173.7" width="1.05" height="107.3" fill="url(#g3_3)" fill-opacity="0.80"/><rect x="73.4" y="173.7" width="1.05" height="107.3" fill="url(#g3_3)" fill-opacity="0.36"/><rect x="74.4" y="173.7" width="1.05" height="107.3" fill="url(#g3_3)" fill-opacity="0.06"/><rect x="29.4" y="173.7" width="1.05" height="107.3" fill="url(#g3_4)" fill-opacity="0.86"/><rect x="30.4" y="173.7" width="1.05" height="107.3" fill="url(#g3_4)" fill-opacity="0.76"/><rect x="33.4" y="173.7" width="1.05" height="107.3" fill="url(#g3_4)" fill-opacity="0.22"/><rect x="34.4" y="173.7" width="1.05" height="107.3" fill="url(#g3_4)" fill-opacity="0.56"/><rect x="35.4" y="173.7" width="1.05" height="107.3" fill="url(#g3_4)" fill-opacity="0.12"/><rect x="49.4" y="173.7" width="1.05" height="107.3" fill="url(#g3_4)" fill-opacity="0.26"/><rect x="50.4" y="173.7" width="3.05" height="107.3" fill="url(#g3_4)" fill-opacity="0.34"/><rect x="53.4" y="173.7" width="1.05" height="107.3" fill="url(#g3_4)" fill-opacity="0.24"/><rect x="59.4" y="173.7" width="1.05" height="107.3" fill="url(#g3_4)" fill-opacity="0.02"/><rect x="60.4" y="173.7" width="4.05" height="107.3" fill="url(#g3_4)" fill-opacity="0.14"/><rect x="69.4" y="173.7" width="3.05" height="107.3" fill="url(#g3_4)" fill-opacity="0.14"/><rect x="72.4" y="173.7" width="1.05" height="107.3" fill="url(#g3_4)" fill-opacity="0.10"/><rect x="82.4" y="173.7" width="1.05" height="107.3" fill="url(#g3_4)" fill-opacity="0.80"/><rect x="83.4" y="173.7" width="3.05" height="107.3" fill="url(#g3_4)"/><rect x="104.4" y="173.7" width="1.05" height="107.3" fill="url(#g3_4)" fill-opacity="0.24"/><rect x="105.4" y="173.7" width="1.05" height="107.3" fill="url(#g3_4)" fill-opacity="0.12"/><rect x="111.4" y="173.7" width="1.05" height="107.3" fill="url(#g3_4)" fill-opacity="0.20"/><rect x="112.4" y="173.7" width="4.05" height="107.3" fill="url(#g3_4)"/><rect x="116.4" y="173.7" width="1.05" height="107.3" fill="url(#g3_4)" fill-opacity="0.60"/><rect x="120.4" y="173.7" width="1.05" height="107.3" fill="url(#g3_4)" fill-opacity="0.20"/><rect x="121.4" y="173.7" width="1.05" height="107.3" fill="url(#g3_4)" fill-opacity="0.34"/><rect x="122.4" y="173.7" width="1.05" height="107.3" fill="url(#g3_4)" fill-opacity="0.06"/><rect x="126.4" y="173.7" width="1.05" height="107.3" fill="url(#g3_4)" fill-opacity="0.24"/><rect x="127.4" y="173.7" width="1.05" height="107.3" fill="url(#g3_4)" fill-opacity="0.34"/><rect x="131.4" y="173.7" width="1.05" height="107.3" fill="url(#g3_4)" fill-opacity="0.22"/><rect x="132.4" y="173.7" width="1.05" height="107.3" fill="url(#g3_4)" fill-opacity="0.58"/><rect x="133.4" y="173.7" width="1.05" height="107.3" fill="url(#g3_4)" fill-opacity="0.56"/><rect x="138.4" y="173.7" width="1.05" height="107.3" fill="url(#g3_4)" fill-opacity="0.24"/><rect x="139.4" y="173.7" width="3.45" height="107.3" fill="url(#g3_4)" fill-opacity="0.80"/></g>
<rect x="93.9" y="177.7" width="44.8" height="21.0" fill="#12a08a" fill-opacity="0.85"/>
<text transform="translate(98.10 187.50) scale(0.1000 0.1000)" font-size="72.0" style="fill:#fff">Levenshtein</text>
<text transform="translate(98.10 194.60) scale(0.1000 0.1000)" font-size="72.0" style="fill:#fff">distance: 102</text>
<rect x="146.1" y="173.7" width="6.7" height="107.3" fill="url(#cb)"/>
<text transform="translate(156.00 275.65) scale(0.1000 0.1000)" font-size="70.0">0</text>
<text transform="translate(156.00 257.89) scale(0.1000 0.1000)" font-size="70.0">10</text>
<text transform="translate(156.00 240.13) scale(0.1000 0.1000)" font-size="70.0">20</text>
<text transform="translate(156.00 222.37) scale(0.1000 0.1000)" font-size="70.0">30</text>
<text transform="translate(156.00 204.61) scale(0.1000 0.1000)" font-size="70.0">40</text>
<text transform="translate(156.00 186.85) scale(0.1000 0.1000)" font-size="70.0">50</text>
<text transform="translate(170.70 228.95) rotate(-90) scale(0.1000 0.1000)" font-size="72.5" text-anchor="middle">Power spectral density, dB</text>
<text transform="translate(88.30 170.10) scale(0.1000 0.1000)" font-size="70.0" text-anchor="middle" textLength="527" lengthAdjust="spacingAndGlyphs">Metal plate 40 kHz</text>
<text transform="translate(17.50 283.40) scale(0.1000 0.1000)" font-size="70.0" text-anchor="end">0</text>
<text transform="translate(17.50 261.94) scale(0.1000 0.1000)" font-size="70.0" text-anchor="end">1</text>
<text transform="translate(17.50 240.48) scale(0.1000 0.1000)" font-size="70.0" text-anchor="end">2</text>
<text transform="translate(17.50 219.02) scale(0.1000 0.1000)" font-size="70.0" text-anchor="end">3</text>
<text transform="translate(17.50 197.56) scale(0.1000 0.1000)" font-size="70.0" text-anchor="end">4</text>
<text transform="translate(17.50 176.10) scale(0.1000 0.1000)" font-size="70.0" text-anchor="end">5</text>
<text transform="translate(9.90 232.05) rotate(-90) scale(0.1000 0.1000)" font-size="70.0" text-anchor="middle">Frequency, kHz</text>
<text transform="translate(22.25 289.30) scale(0.1000 0.1000)" font-size="70.0" text-anchor="middle">0</text>
<text transform="translate(34.65 289.30) scale(0.1000 0.1000)" font-size="70.0" text-anchor="middle">5</text>
<text transform="translate(48.05 289.30) scale(0.1000 0.1000)" font-size="70.0" text-anchor="middle">10</text>
<text transform="translate(61.95 289.30) scale(0.1000 0.1000)" font-size="70.0" text-anchor="middle">15</text>
<text transform="translate(76.55 289.30) scale(0.1000 0.1000)" font-size="70.0" text-anchor="middle">20</text>
<text transform="translate(91.05 289.30) scale(0.1000 0.1000)" font-size="70.0" text-anchor="middle">25</text>
<text transform="translate(105.85 289.30) scale(0.1000 0.1000)" font-size="70.0" text-anchor="middle">30</text>
<text transform="translate(120.15 289.30) scale(0.1000 0.1000)" font-size="70.0" text-anchor="middle">35</text>
<text transform="translate(134.25 289.30) scale(0.1000 0.1000)" font-size="70.0" text-anchor="middle">40</text>
<text transform="translate(79.10 296.30) scale(0.1000 0.1000)" font-size="72.0" text-anchor="middle">Time, s</text>
<text transform="translate(85.60 314.50) scale(0.1000 0.1000)" font-size="100.0" text-anchor="middle" style="fill:#111">(<tspan font-weight="bold">d</tspan>)</text>
<g filter="url(#f4)"><rect x="204.6" y="173.7" width="122.4" height="107.3" fill="url(#g4_0)"/><rect x="205.6" y="173.7" width="1.05" height="107.3" fill="url(#g4_1)" fill-opacity="0.12"/><rect x="206.6" y="173.7" width="1.05" height="107.3" fill="url(#g4_1)" fill-opacity="0.42"/><rect x="207.6" y="173.7" width="1.05" height="107.3" fill="url(#g4_1)" fill-opacity="0.30"/><rect x="208.6" y="173.7" width="1.05" height="107.3" fill="url(#g4_1)" fill-opacity="0.56"/><rect x="209.6" y="173.7" width="1.05" height="107.3" fill="url(#g4_1)" fill-opacity="0.54"/><rect x="210.6" y="173.7" width="1.05" height="107.3" fill="url(#g4_1)" fill-opacity="0.60"/><rect x="211.6" y="173.7" width="1.05" height="107.3" fill="url(#g4_1)" fill-opacity="0.58"/><rect x="212.6" y="173.7" width="1.05" height="107.3" fill="url(#g4_1)" fill-opacity="0.68"/><rect x="213.6" y="173.7" width="1.05" height="107.3" fill="url(#g4_1)" fill-opacity="0.54"/><rect x="214.6" y="173.7" width="1.05" height="107.3" fill="url(#g4_1)" fill-opacity="0.40"/><rect x="215.6" y="173.7" width="2.05" height="107.3" fill="url(#g4_1)" fill-opacity="0.74"/><rect x="217.6" y="173.7" width="1.05" height="107.3" fill="url(#g4_1)" fill-opacity="0.86"/><rect x="218.6" y="173.7" width="1.05" height="107.3" fill="url(#g4_1)" fill-opacity="0.60"/><rect x="219.6" y="173.7" width="1.05" height="107.3" fill="url(#g4_1)" fill-opacity="0.54"/><rect x="220.6" y="173.7" width="1.05" height="107.3" fill="url(#g4_1)" fill-opacity="0.52"/><rect x="221.6" y="173.7" width="1.05" height="107.3" fill="url(#g4_1)" fill-opacity="0.36"/><rect x="222.6" y="173.7" width="1.05" height="107.3" fill="url(#g4_1)" fill-opacity="0.74"/><rect x="223.6" y="173.7" width="1.05" height="107.3" fill="url(#g4_1)" fill-opacity="0.44"/><rect x="224.6" y="173.7" width="1.05" height="107.3" fill="url(#g4_1)" fill-opacity="0.42"/><rect x="225.6" y="173.7" width="1.05" height="107.3" fill="url(#g4_1)" fill-opacity="0.60"/><rect x="226.6" y="173.7" width="1.05" height="107.3" fill="url(#g4_1)" fill-opacity="0.98"/><rect x="227.6" y="173.7" width="1.05" height="107.3" fill="url(#g4_1)" fill-opacity="0.80"/><rect x="228.6" y="173.7" width="1.05" height="107.3" fill="url(#g4_1)" fill-opacity="0.54"/><rect x="229.6" y="173.7" width="1.05" height="107.3" fill="url(#g4_1)" fill-opacity="0.52"/><rect x="230.6" y="173.7" width="1.05" height="107.3" fill="url(#g4_1)" fill-opacity="0.70"/><rect x="231.6" y="173.7" width="1.05" height="107.3" fill="url(#g4_1)" fill-opacity="0.58"/><rect x="232.6" y="173.7" width="1.05" height="107.3" fill="url(#g4_1)" fill-opacity="0.48"/><rect x="233.6" y="173.7" width="1.05" height="107.3" fill="url(#g4_1)" fill-opacity="0.56"/><rect x="234.6" y="173.7" width="1.05" height="107.3" fill="url(#g4_1)" fill-opacity="0.72"/><rect x="235.6" y="173.7" width="1.05" height="107.3" fill="url(#g4_1)" fill-opacity="0.90"/><rect x="236.6" y="173.7" width="1.05" height="107.3" fill="url(#g4_1)" fill-opacity="0.42"/><rect x="237.6" y="173.7" width="1.05" height="107.3" fill="url(#g4_1)" fill-opacity="0.50"/><rect x="238.6" y="173.7" width="1.05" height="107.3" fill="url(#g4_1)" fill-opacity="0.48"/><rect x="239.6" y="173.7" width="1.05" height="107.3" fill="url(#g4_1)" fill-opacity="0.24"/><rect x="240.6" y="173.7" width="1.05" height="107.3" fill="url(#g4_1)" fill-opacity="0.46"/><rect x="241.6" y="173.7" width="1.05" height="107.3" fill="url(#g4_1)" fill-opacity="0.44"/><rect x="242.6" y="173.7" width="1.05" height="107.3" fill="url(#g4_1)" fill-opacity="0.76"/><rect x="243.6" y="173.7" width="1.05" height="107.3" fill="url(#g4_1)" fill-opacity="0.58"/><rect x="244.6" y="173.7" width="1.05" height="107.3" fill="url(#g4_1)" fill-opacity="0.36"/><rect x="245.6" y="173.7" width="1.05" height="107.3" fill="url(#g4_1)" fill-opacity="0.70"/><rect x="246.6" y="173.7" width="1.05" height="107.3" fill="url(#g4_1)" fill-opacity="0.58"/><rect x="247.6" y="173.7" width="1.05" height="107.3" fill="url(#g4_1)" fill-opacity="0.40"/><rect x="248.6" y="173.7" width="1.05" height="107.3" fill="url(#g4_1)" fill-opacity="0.70"/><rect x="249.6" y="173.7" width="1.05" height="107.3" fill="url(#g4_1)" fill-opacity="0.72"/><rect x="250.6" y="173.7" width="1.05" height="107.3" fill="url(#g4_1)" fill-opacity="0.66"/><rect x="251.6" y="173.7" width="1.05" height="107.3" fill="url(#g4_1)" fill-opacity="0.86"/><rect x="252.6" y="173.7" width="1.05" height="107.3" fill="url(#g4_1)" fill-opacity="0.38"/><rect x="253.6" y="173.7" width="1.05" height="107.3" fill="url(#g4_1)" fill-opacity="0.80"/><rect x="254.6" y="173.7" width="1.05" height="107.3" fill="url(#g4_1)"/><rect x="255.6" y="173.7" width="1.05" height="107.3" fill="url(#g4_1)" fill-opacity="0.94"/><rect x="256.6" y="173.7" width="2.05" height="107.3" fill="url(#g4_1)" fill-opacity="0.82"/><rect x="258.6" y="173.7" width="1.05" height="107.3" fill="url(#g4_1)" fill-opacity="0.98"/><rect x="259.6" y="173.7" width="1.05" height="107.3" fill="url(#g4_1)" fill-opacity="0.54"/><rect x="260.6" y="173.7" width="1.05" height="107.3" fill="url(#g4_1)" fill-opacity="0.90"/><rect x="261.6" y="173.7" width="1.05" height="107.3" fill="url(#g4_1)" fill-opacity="0.38"/><rect x="262.6" y="173.7" width="1.05" height="107.3" fill="url(#g4_1)" fill-opacity="0.56"/><rect x="263.6" y="173.7" width="1.05" height="107.3" fill="url(#g4_1)" fill-opacity="0.38"/><rect x="264.6" y="173.7" width="2.05" height="107.3" fill="url(#g4_1)" fill-opacity="0.98"/><rect x="266.6" y="173.7" width="1.05" height="107.3" fill="url(#g4_1)" fill-opacity="0.60"/><rect x="267.6" y="173.7" width="1.05" height="107.3" fill="url(#g4_1)" fill-opacity="0.92"/><rect x="268.6" y="173.7" width="1.05" height="107.3" fill="url(#g4_1)" fill-opacity="0.62"/><rect x="269.6" y="173.7" width="1.05" height="107.3" fill="url(#g4_1)" fill-opacity="0.82"/><rect x="270.6" y="173.7" width="1.05" height="107.3" fill="url(#g4_1)" fill-opacity="0.84"/><rect x="271.6" y="173.7" width="1.05" height="107.3" fill="url(#g4_1)" fill-opacity="0.58"/><rect x="272.6" y="173.7" width="1.05" height="107.3" fill="url(#g4_1)" fill-opacity="0.82"/><rect x="273.6" y="173.7" width="1.05" height="107.3" fill="url(#g4_1)" fill-opacity="0.96"/><rect x="274.6" y="173.7" width="1.05" height="107.3" fill="url(#g4_1)" fill-opacity="0.48"/><rect x="275.6" y="173.7" width="1.05" height="107.3" fill="url(#g4_1)" fill-opacity="0.94"/><rect x="276.6" y="173.7" width="1.05" height="107.3" fill="url(#g4_1)" fill-opacity="0.80"/><rect x="277.6" y="173.7" width="1.05" height="107.3" fill="url(#g4_1)"/><rect x="278.6" y="173.7" width="1.05" height="107.3" fill="url(#g4_1)" fill-opacity="0.96"/><rect x="279.6" y="173.7" width="1.05" height="107.3" fill="url(#g4_1)"/><rect x="280.6" y="173.7" width="1.05" height="107.3" fill="url(#g4_1)" fill-opacity="0.94"/><rect x="281.6" y="173.7" width="1.05" height="107.3" fill="url(#g4_1)" fill-opacity="0.70"/><rect x="282.6" y="173.7" width="1.05" height="107.3" fill="url(#g4_1)" fill-opacity="0.40"/><rect x="283.6" y="173.7" width="1.05" height="107.3" fill="url(#g4_1)" fill-opacity="0.78"/><rect x="284.6" y="173.7" width="1.05" height="107.3" fill="url(#g4_1)" fill-opacity="0.30"/><rect x="285.6" y="173.7" width="1.05" height="107.3" fill="url(#g4_1)" fill-opacity="0.48"/><rect x="286.6" y="173.7" width="1.05" height="107.3" fill="url(#g4_1)" fill-opacity="0.96"/><rect x="287.6" y="173.7" width="1.05" height="107.3" fill="url(#g4_1)" fill-opacity="0.78"/><rect x="288.6" y="173.7" width="3.05" height="107.3" fill="url(#g4_1)"/><rect x="291.6" y="173.7" width="1.05" height="107.3" fill="url(#g4_1)" fill-opacity="0.74"/><rect x="292.6" y="173.7" width="1.05" height="107.3" fill="url(#g4_1)" fill-opacity="0.20"/><rect x="293.6" y="173.7" width="1.05" height="107.3" fill="url(#g4_1)" fill-opacity="0.34"/><rect x="294.6" y="173.7" width="1.05" height="107.3" fill="url(#g4_1)" fill-opacity="0.28"/><rect x="295.6" y="173.7" width="1.05" height="107.3" fill="url(#g4_1)" fill-opacity="0.48"/><rect x="296.6" y="173.7" width="1.05" height="107.3" fill="url(#g4_1)" fill-opacity="0.56"/><rect x="297.6" y="173.7" width="1.05" height="107.3" fill="url(#g4_1)" fill-opacity="0.88"/><rect x="298.6" y="173.7" width="1.05" height="107.3" fill="url(#g4_1)" fill-opacity="0.68"/><rect x="299.6" y="173.7" width="1.05" height="107.3" fill="url(#g4_1)" fill-opacity="0.78"/><rect x="300.6" y="173.7" width="1.05" height="107.3" fill="url(#g4_1)" fill-opacity="0.94"/><rect x="301.6" y="173.7" width="1.05" height="107.3" fill="url(#g4_1)" fill-opacity="0.60"/><rect x="302.6" y="173.7" width="1.05" height="107.3" fill="url(#g4_1)" fill-opacity="0.58"/><rect x="303.6" y="173.7" width="1.05" height="107.3" fill="url(#g4_1)" fill-opacity="0.54"/><rect x="304.6" y="173.7" width="1.05" height="107.3" fill="url(#g4_1)" fill-opacity="0.10"/><rect x="250.6" y="173.7" width="1.05" height="107.3" fill="url(#g4_2)" fill-opacity="0.04"/><rect x="251.6" y="173.7" width="1.05" height="107.3" fill="url(#g4_2)" fill-opacity="0.10"/><rect x="252.6" y="173.7" width="1.05" height="107.3" fill="url(#g4_2)" fill-opacity="0.20"/><rect x="253.6" y="173.7" width="1.05" height="107.3" fill="url(#g4_2)" fill-opacity="0.30"/><rect x="254.6" y="173.7" width="1.05" height="107.3" fill="url(#g4_2)" fill-opacity="0.40"/><rect x="255.6" y="173.7" width="1.05" height="107.3" fill="url(#g4_2)" fill-opacity="0.50"/><rect x="256.6" y="173.7" width="1.05" height="107.3" fill="url(#g4_2)" fill-opacity="0.60"/><rect x="257.6" y="173.7" width="1.05" height="107.3" fill="url(#g4_2)" fill-opacity="0.66"/><rect x="258.6" y="173.7" width="17.05" height="107.3" fill="url(#g4_2)" fill-opacity="0.70"/><rect x="275.6" y="173.7" width="1.05" height="107.3" fill="url(#g4_2)" fill-opacity="0.66"/><rect x="276.6" y="173.7" width="1.05" height="107.3" fill="url(#g4_2)" fill-opacity="0.60"/><rect x="277.6" y="173.7" width="1.05" height="107.3" fill="url(#g4_2)" fill-opacity="0.50"/><rect x="278.6" y="173.7" width="1.05" height="107.3" fill="url(#g4_2)" fill-opacity="0.40"/><rect x="279.6" y="173.7" width="1.05" height="107.3" fill="url(#g4_2)" fill-opacity="0.30"/><rect x="280.6" y="173.7" width="1.05" height="107.3" fill="url(#g4_2)" fill-opacity="0.20"/><rect x="281.6" y="173.7" width="1.05" height="107.3" fill="url(#g4_2)" fill-opacity="0.10"/><rect x="282.6" y="173.7" width="1.05" height="107.3" fill="url(#g4_2)" fill-opacity="0.04"/><rect x="303.6" y="173.7" width="1.05" height="107.3" fill="url(#g4_3)" fill-opacity="0.40"/><rect x="304.6" y="173.7" width="8.05" height="107.3" fill="url(#g4_3)"/><rect x="207.6" y="173.7" width="1.05" height="107.3" fill="url(#g4_4)" fill-opacity="0.56"/><rect x="209.6" y="173.7" width="2.05" height="107.3" fill="url(#g4_4)" fill-opacity="0.40"/><rect x="212.6" y="173.7" width="1.05" height="107.3" fill="url(#g4_4)" fill-opacity="0.90"/><rect x="213.6" y="173.7" width="1.05" height="107.3" fill="url(#g4_4)" fill-opacity="0.70"/><rect x="214.6" y="173.7" width="1.05" height="107.3" fill="url(#g4_4)" fill-opacity="0.08"/><rect x="215.6" y="173.7" width="1.05" height="107.3" fill="url(#g4_4)" fill-opacity="0.32"/><rect x="216.6" y="173.7" width="1.05" height="107.3" fill="url(#g4_4)" fill-opacity="0.66"/><rect x="217.6" y="173.7" width="1.05" height="107.3" fill="url(#g4_4)" fill-opacity="0.26"/><rect x="218.6" y="173.7" width="1.05" height="107.3" fill="url(#g4_4)" fill-opacity="0.28"/><rect x="220.6" y="173.7" width="1.05" height="107.3" fill="url(#g4_4)" fill-opacity="0.68"/><rect x="221.6" y="173.7" width="1.05" height="107.3" fill="url(#g4_4)" fill-opacity="0.46"/><rect x="222.6" y="173.7" width="1.05" height="107.3" fill="url(#g4_4)" fill-opacity="0.54"/><rect x="224.6" y="173.7" width="1.05" height="107.3" fill="url(#g4_4)"/><rect x="225.6" y="173.7" width="1.05" height="107.3" fill="url(#g4_4)" fill-opacity="0.48"/><rect x="226.6" y="173.7" width="1.05" height="107.3" fill="url(#g4_4)" fill-opacity="0.20"/><rect x="227.6" y="173.7" width="1.05" height="107.3" fill="url(#g4_4)"/><rect x="228.6" y="173.7" width="1.05" height="107.3" fill="url(#g4_4)" fill-opacity="0.38"/><rect x="230.6" y="173.7" width="1.05" height="107.3" fill="url(#g4_4)" fill-opacity="0.20"/><rect x="232.6" y="173.7" width="1.05" height="107.3" fill="url(#g4_4)" fill-opacity="0.92"/><rect x="233.6" y="173.7" width="1.05" height="107.3" fill="url(#g4_4)" fill-opacity="0.20"/><rect x="234.6" y="173.7" width="1.05" height="107.3" fill="url(#g4_4)" fill-opacity="0.02"/><rect x="235.6" y="173.7" width="1.05" height="107.3" fill="url(#g4_4)" fill-opacity="0.94"/><rect x="237.6" y="173.7" width="1.05" height="107.3" fill="url(#g4_4)" fill-opacity="0.66"/><rect x="239.6" y="173.7" width="1.05" height="107.3" fill="url(#g4_4)" fill-opacity="0.06"/><rect x="241.6" y="173.7" width="2.05" height="107.3" fill="url(#g4_4)"/><rect x="243.6" y="173.7" width="1.05" height="107.3" fill="url(#g4_4)" fill-opacity="0.24"/><rect x="244.6" y="173.7" width="1.05" height="107.3" fill="url(#g4_4)" fill-opacity="0.82"/><rect x="245.6" y="173.7" width="1.05" height="107.3" fill="url(#g4_4)" fill-opacity="0.32"/><rect x="246.6" y="173.7" width="1.05" height="107.3" fill="url(#g4_4)" fill-opacity="0.68"/><rect x="247.6" y="173.7" width="1.05" height="107.3" fill="url(#g4_4)" fill-opacity="0.02"/><rect x="250.6" y="173.7" width="1.05" height="107.3" fill="url(#g4_4)" fill-opacity="0.60"/><rect x="251.6" y="173.7" width="1.05" height="107.3" fill="url(#g4_4)"/><rect x="252.6" y="173.7" width="1.05" height="107.3" fill="url(#g4_4)" fill-opacity="0.54"/><rect x="253.6" y="173.7" width="1.05" height="107.3" fill="url(#g4_4)" fill-opacity="0.14"/><rect x="254.6" y="173.7" width="1.05" height="107.3" fill="url(#g4_4)"/><rect x="255.6" y="173.7" width="1.05" height="107.3" fill="url(#g4_4)" fill-opacity="0.52"/><rect x="256.6" y="173.7" width="1.05" height="107.3" fill="url(#g4_4)" fill-opacity="0.46"/><rect x="257.6" y="173.7" width="1.05" height="107.3" fill="url(#g4_4)" fill-opacity="0.52"/><rect x="258.6" y="173.7" width="1.05" height="107.3" fill="url(#g4_4)" fill-opacity="0.34"/><rect x="259.6" y="173.7" width="1.05" height="107.3" fill="url(#g4_4)" fill-opacity="0.24"/><rect x="261.6" y="173.7" width="1.05" height="107.3" fill="url(#g4_4)" fill-opacity="0.66"/><rect x="262.6" y="173.7" width="1.05" height="107.3" fill="url(#g4_4)" fill-opacity="0.36"/><rect x="263.6" y="173.7" width="1.05" height="107.3" fill="url(#g4_4)"/><rect x="264.6" y="173.7" width="1.05" height="107.3" fill="url(#g4_4)" fill-opacity="0.22"/><rect x="266.6" y="173.7" width="1.05" height="107.3" fill="url(#g4_4)" fill-opacity="0.36"/><rect x="267.6" y="173.7" width="1.05" height="107.3" fill="url(#g4_4)"/><rect x="268.6" y="173.7" width="1.05" height="107.3" fill="url(#g4_4)" fill-opacity="0.20"/><rect x="272.6" y="173.7" width="1.05" height="107.3" fill="url(#g4_4)" fill-opacity="0.24"/><rect x="274.6" y="173.7" width="1.05" height="107.3" fill="url(#g4_4)"/><rect x="275.6" y="173.7" width="1.05" height="107.3" fill="url(#g4_4)" fill-opacity="0.26"/><rect x="276.6" y="173.7" width="1.05" height="107.3" fill="url(#g4_4)" fill-opacity="0.46"/><rect x="277.6" y="173.7" width="2.05" height="107.3" fill="url(#g4_4)"/><rect x="279.6" y="173.7" width="1.05" height="107.3" fill="url(#g4_4)" fill-opacity="0.30"/><rect x="280.6" y="173.7" width="1.05" height="107.3" fill="url(#g4_4)" fill-opacity="0.56"/><rect x="281.6" y="173.7" width="1.05" height="107.3" fill="url(#g4_4)" fill-opacity="0.76"/><rect x="282.6" y="173.7" width="1.05" height="107.3" fill="url(#g4_4)" fill-opacity="0.30"/><rect x="284.6" y="173.7" width="1.05" height="107.3" fill="url(#g4_4)" fill-opacity="0.72"/><rect x="285.6" y="173.7" width="1.05" height="107.3" fill="url(#g4_4)" fill-opacity="0.84"/><rect x="286.6" y="173.7" width="1.05" height="107.3" fill="url(#g4_4)" fill-opacity="0.60"/><rect x="288.6" y="173.7" width="1.05" height="107.3" fill="url(#g4_4)" fill-opacity="0.30"/><rect x="289.6" y="173.7" width="1.05" height="107.3" fill="url(#g4_4)" fill-opacity="0.10"/><rect x="290.6" y="173.7" width="1.05" height="107.3" fill="url(#g4_4)" fill-opacity="0.26"/><rect x="291.6" y="173.7" width="2.05" height="107.3" fill="url(#g4_4)"/><rect x="293.6" y="173.7" width="1.05" height="107.3" fill="url(#g4_4)" fill-opacity="0.74"/><rect x="294.6" y="173.7" width="1.05" height="107.3" fill="url(#g4_4)" fill-opacity="0.68"/><rect x="295.6" y="173.7" width="1.05" height="107.3" fill="url(#g4_4)" fill-opacity="0.74"/><rect x="296.6" y="173.7" width="1.05" height="107.3" fill="url(#g4_4)" fill-opacity="0.40"/><rect x="297.6" y="173.7" width="1.05" height="107.3" fill="url(#g4_4)" fill-opacity="0.36"/><rect x="298.6" y="173.7" width="1.05" height="107.3" fill="url(#g4_4)" fill-opacity="0.06"/><rect x="299.6" y="173.7" width="1.05" height="107.3" fill="url(#g4_4)" fill-opacity="0.38"/><rect x="300.6" y="173.7" width="1.05" height="107.3" fill="url(#g4_4)"/><rect x="301.6" y="173.7" width="1.05" height="107.3" fill="url(#g4_4)" fill-opacity="0.84"/><rect x="302.6" y="173.7" width="1.05" height="107.3" fill="url(#g4_4)" fill-opacity="0.22"/><rect x="204.6" y="173.7" width="2.05" height="107.3" fill="url(#g4_5)"/><rect x="206.6" y="173.7" width="1.05" height="107.3" fill="url(#g4_5)" fill-opacity="0.20"/><rect x="324.6" y="173.7" width="1.05" height="107.3" fill="url(#g4_5)" fill-opacity="0.44"/><rect x="325.6" y="173.7" width="1.45" height="107.3" fill="url(#g4_5)" fill-opacity="0.90"/></g>
<rect x="275.8" y="178.9" width="45.8" height="21.0" fill="#12a08a" fill-opacity="0.85"/>
<text transform="translate(280.00 188.70) scale(0.1000 0.1000)" font-size="72.0" style="fill:#fff">Levenshtein</text>
<text transform="translate(280.00 195.80) scale(0.1000 0.1000)" font-size="72.0" style="fill:#fff">distance: 329</text>
<rect x="330.3" y="173.7" width="6.7" height="107.3" fill="url(#cb)"/>
<text transform="translate(340.20 275.65) scale(0.1000 0.1000)" font-size="70.0">0</text>
<text transform="translate(340.20 257.89) scale(0.1000 0.1000)" font-size="70.0">10</text>
<text transform="translate(340.20 240.13) scale(0.1000 0.1000)" font-size="70.0">20</text>
<text transform="translate(340.20 222.37) scale(0.1000 0.1000)" font-size="70.0">30</text>
<text transform="translate(340.20 204.61) scale(0.1000 0.1000)" font-size="70.0">40</text>
<text transform="translate(340.20 186.85) scale(0.1000 0.1000)" font-size="70.0">50</text>
<text transform="translate(354.90 228.95) rotate(-90) scale(0.1000 0.1000)" font-size="72.5" text-anchor="middle">Power spectral density, dB</text>
<text transform="translate(262.85 170.10) scale(0.1000 0.1000)" font-size="70.0" text-anchor="middle" textLength="941" lengthAdjust="spacingAndGlyphs">Bottle (bottom disturbed) 40 kHz</text>
<text transform="translate(201.70 283.40) scale(0.1000 0.1000)" font-size="70.0" text-anchor="end">0</text>
<text transform="translate(201.70 261.94) scale(0.1000 0.1000)" font-size="70.0" text-anchor="end">1</text>
<text transform="translate(201.70 240.48) scale(0.1000 0.1000)" font-size="70.0" text-anchor="end">2</text>
<text transform="translate(201.70 219.02) scale(0.1000 0.1000)" font-size="70.0" text-anchor="end">3</text>
<text transform="translate(201.70 197.56) scale(0.1000 0.1000)" font-size="70.0" text-anchor="end">4</text>
<text transform="translate(201.70 176.10) scale(0.1000 0.1000)" font-size="70.0" text-anchor="end">5</text>
<text transform="translate(194.10 232.05) rotate(-90) scale(0.1000 0.1000)" font-size="70.0" text-anchor="middle">Frequency, kHz</text>
<text transform="translate(206.45 289.30) scale(0.1000 0.1000)" font-size="70.0" text-anchor="middle">0</text>
<text transform="translate(218.85 289.30) scale(0.1000 0.1000)" font-size="70.0" text-anchor="middle">5</text>
<text transform="translate(232.25 289.30) scale(0.1000 0.1000)" font-size="70.0" text-anchor="middle">10</text>
<text transform="translate(246.15 289.30) scale(0.1000 0.1000)" font-size="70.0" text-anchor="middle">15</text>
<text transform="translate(260.75 289.30) scale(0.1000 0.1000)" font-size="70.0" text-anchor="middle">20</text>
<text transform="translate(275.25 289.30) scale(0.1000 0.1000)" font-size="70.0" text-anchor="middle">25</text>
<text transform="translate(290.05 289.30) scale(0.1000 0.1000)" font-size="70.0" text-anchor="middle">30</text>
<text transform="translate(304.35 289.30) scale(0.1000 0.1000)" font-size="70.0" text-anchor="middle">35</text>
<text transform="translate(318.45 289.30) scale(0.1000 0.1000)" font-size="70.0" text-anchor="middle">40</text>
<text transform="translate(263.30 296.30) scale(0.1000 0.1000)" font-size="72.0" text-anchor="middle">Time, s</text>
<text transform="translate(269.80 314.50) scale(0.1000 0.1000)" font-size="100.0" text-anchor="middle" style="fill:#111">(<tspan font-weight="bold">e</tspan>)</text>
<g filter="url(#f5)"><rect x="389.6" y="173.7" width="122.4" height="107.3" fill="url(#g5_0)"/><rect x="400.6" y="173.7" width="1.05" height="107.3" fill="url(#g5_1)" fill-opacity="0.12"/><rect x="401.6" y="173.7" width="1.05" height="107.3" fill="url(#g5_1)" fill-opacity="0.30"/><rect x="402.6" y="173.7" width="1.05" height="107.3" fill="url(#g5_1)" fill-opacity="0.12"/><rect x="403.6" y="173.7" width="1.05" height="107.3" fill="url(#g5_1)" fill-opacity="0.16"/><rect x="404.6" y="173.7" width="1.05" height="107.3" fill="url(#g5_1)" fill-opacity="0.20"/><rect x="410.6" y="173.7" width="1.05" height="107.3" fill="url(#g5_1)" fill-opacity="0.24"/><rect x="411.6" y="173.7" width="1.05" height="107.3" fill="url(#g5_1)" fill-opacity="0.12"/><rect x="439.6" y="173.7" width="1.05" height="107.3" fill="url(#g5_1)" fill-opacity="0.50"/><rect x="440.6" y="173.7" width="1.05" height="107.3" fill="url(#g5_1)" fill-opacity="0.40"/><rect x="454.6" y="173.7" width="1.05" height="107.3" fill="url(#g5_1)" fill-opacity="0.10"/><rect x="455.6" y="173.7" width="1.05" height="107.3" fill="url(#g5_1)" fill-opacity="0.90"/><rect x="456.6" y="173.7" width="1.05" height="107.3" fill="url(#g5_1)" fill-opacity="0.62"/><rect x="459.6" y="173.7" width="1.05" height="107.3" fill="url(#g5_1)" fill-opacity="0.50"/><rect x="460.6" y="173.7" width="1.05" height="107.3" fill="url(#g5_1)" fill-opacity="0.10"/><rect x="469.6" y="173.7" width="1.05" height="107.3" fill="url(#g5_1)" fill-opacity="0.22"/><rect x="470.6" y="173.7" width="1.05" height="107.3" fill="url(#g5_1)" fill-opacity="0.24"/><rect x="471.6" y="173.7" width="1.05" height="107.3" fill="url(#g5_1)" fill-opacity="0.10"/><rect x="488.6" y="173.7" width="1.05" height="107.3" fill="url(#g5_1)" fill-opacity="0.10"/><rect x="489.6" y="173.7" width="1.05" height="107.3" fill="url(#g5_1)" fill-opacity="0.24"/><rect x="490.6" y="173.7" width="1.05" height="107.3" fill="url(#g5_1)" fill-opacity="0.10"/><rect x="397.6" y="173.7" width="1.05" height="107.3" fill="url(#g5_2)" fill-opacity="0.08"/><rect x="398.6" y="173.7" width="1.05" height="107.3" fill="url(#g5_2)" fill-opacity="0.16"/><rect x="400.6" y="173.7" width="1.05" height="107.3" fill="url(#g5_2)" fill-opacity="0.26"/><rect x="401.6" y="173.7" width="1.05" height="107.3" fill="url(#g5_2)" fill-opacity="0.62"/><rect x="402.6" y="173.7" width="1.05" height="107.3" fill="url(#g5_2)" fill-opacity="0.26"/><rect x="403.6" y="173.7" width="1.05" height="107.3" fill="url(#g5_2)" fill-opacity="0.32"/><rect x="404.6" y="173.7" width="1.05" height="107.3" fill="url(#g5_2)" fill-opacity="0.44"/><rect x="410.6" y="173.7" width="1.05" height="107.3" fill="url(#g5_2)" fill-opacity="0.48"/><rect x="411.6" y="173.7" width="1.05" height="107.3" fill="url(#g5_2)" fill-opacity="0.24"/><rect x="414.6" y="173.7" width="1.05" height="107.3" fill="url(#g5_2)" fill-opacity="0.22"/><rect x="415.6" y="173.7" width="1.05" height="107.3" fill="url(#g5_2)" fill-opacity="0.12"/><rect x="420.6" y="173.7" width="1.05" height="107.3" fill="url(#g5_2)" fill-opacity="0.08"/><rect x="421.6" y="173.7" width="1.05" height="107.3" fill="url(#g5_2)" fill-opacity="0.26"/><rect x="424.6" y="173.7" width="1.05" height="107.3" fill="url(#g5_2)" fill-opacity="0.34"/><rect x="425.6" y="173.7" width="2.05" height="107.3" fill="url(#g5_2)" fill-opacity="0.42"/><rect x="427.6" y="173.7" width="1.05" height="107.3" fill="url(#g5_2)" fill-opacity="0.08"/><rect x="431.6" y="173.7" width="1.05" height="107.3" fill="url(#g5_2)" fill-opacity="0.34"/><rect x="432.6" y="173.7" width="1.05" height="107.3" fill="url(#g5_2)" fill-opacity="0.48"/><rect x="433.6" y="173.7" width="1.05" height="107.3" fill="url(#g5_2)" fill-opacity="0.34"/><rect x="437.6" y="173.7" width="1.05" height="107.3" fill="url(#g5_2)" fill-opacity="0.28"/><rect x="438.6" y="173.7" width="1.05" height="107.3" fill="url(#g5_2)" fill-opacity="0.36"/><rect x="439.6" y="173.7" width="1.05" height="107.3" fill="url(#g5_2)" fill-opacity="0.76"/><rect x="440.6" y="173.7" width="1.05" height="107.3" fill="url(#g5_2)" fill-opacity="0.62"/><rect x="442.6" y="173.7" width="2.05" height="107.3" fill="url(#g5_2)" fill-opacity="0.48"/><rect x="444.6" y="173.7" width="1.05" height="107.3" fill="url(#g5_2)" fill-opacity="0.14"/><rect x="446.6" y="173.7" width="1.05" height="107.3" fill="url(#g5_2)" fill-opacity="0.12"/><rect x="447.6" y="173.7" width="2.05" height="107.3" fill="url(#g5_2)" fill-opacity="0.42"/><rect x="454.6" y="173.7" width="1.05" height="107.3" fill="url(#g5_2)" fill-opacity="0.12"/><rect x="455.6" y="173.7" width="2.05" height="107.3" fill="url(#g5_2)"/><rect x="457.6" y="173.7" width="1.05" height="107.3" fill="url(#g5_2)" fill-opacity="0.38"/><rect x="459.6" y="173.7" width="1.05" height="107.3" fill="url(#g5_2)"/><rect x="460.6" y="173.7" width="1.05" height="107.3" fill="url(#g5_2)" fill-opacity="0.90"/><rect x="466.6" y="173.7" width="1.05" height="107.3" fill="url(#g5_2)" fill-opacity="0.62"/><rect x="467.6" y="173.7" width="1.05" height="107.3" fill="url(#g5_2)" fill-opacity="0.22"/><rect x="469.6" y="173.7" width="2.05" height="107.3" fill="url(#g5_2)"/><rect x="471.6" y="173.7" width="1.05" height="107.3" fill="url(#g5_2)" fill-opacity="0.44"/><rect x="476.6" y="173.7" width="1.05" height="107.3" fill="url(#g5_2)" fill-opacity="0.56"/><rect x="477.6" y="173.7" width="1.05" height="107.3" fill="url(#g5_2)" fill-opacity="0.70"/><rect x="488.6" y="173.7" width="1.05" height="107.3" fill="url(#g5_2)" fill-opacity="0.44"/><rect x="489.6" y="173.7" width="1.05" height="107.3" fill="url(#g5_2)"/><rect x="490.6" y="173.7" width="1.05" height="107.3" fill="url(#g5_2)" fill-opacity="0.44"/><rect x="492.6" y="173.7" width="1.05" height="107.3" fill="url(#g5_2)" fill-opacity="0.76"/><rect x="493.6" y="173.7" width="2.05" height="107.3" fill="url(#g5_2)" fill-opacity="0.84"/><rect x="495.6" y="173.7" width="1.05" height="107.3" fill="url(#g5_2)" fill-opacity="0.08"/><rect x="499.6" y="173.7" width="1.05" height="107.3" fill="url(#g5_2)" fill-opacity="0.56"/><rect x="500.6" y="173.7" width="1.05" height="107.3" fill="url(#g5_2)" fill-opacity="0.70"/><rect x="505.6" y="173.7" width="1.05" height="107.3" fill="url(#g5_2)" fill-opacity="0.38"/><rect x="506.6" y="173.7" width="1.05" height="107.3" fill="url(#g5_2)" fill-opacity="0.42"/><rect x="507.6" y="173.7" width="1.05" height="107.3" fill="url(#g5_2)" fill-opacity="0.22"/><rect x="509.6" y="173.7" width="1.05" height="107.3" fill="url(#g5_2)" fill-opacity="0.24"/><rect x="510.6" y="173.7" width="1.05" height="107.3" fill="url(#g5_2)" fill-opacity="0.34"/><rect x="389.6" y="173.7" width="5.05" height="107.3" fill="url(#g5_3)" fill-opacity="0.10"/><rect x="394.6" y="173.7" width="1.05" height="107.3" fill="url(#g5_3)" fill-opacity="0.12"/><rect x="395.6" y="173.7" width="1.05" height="107.3" fill="url(#g5_3)" fill-opacity="0.16"/><rect x="396.6" y="173.7" width="1.05" height="107.3" fill="url(#g5_3)" fill-opacity="0.20"/><rect x="397.6" y="173.7" width="1.05" height="107.3" fill="url(#g5_3)" fill-opacity="0.26"/><rect x="398.6" y="173.7" width="1.05" height="107.3" fill="url(#g5_3)" fill-opacity="0.30"/><rect x="399.6" y="173.7" width="1.05" height="107.3" fill="url(#g5_3)" fill-opacity="0.32"/><rect x="400.6" y="173.7" width="1.05" height="107.3" fill="url(#g5_3)" fill-opacity="0.34"/><rect x="401.6" y="173.7" width="25.05" height="107.3" fill="url(#g5_3)" fill-opacity="0.36"/><rect x="426.6" y="173.7" width="1.05" height="107.3" fill="url(#g5_3)" fill-opacity="0.38"/><rect x="427.6" y="173.7" width="1.05" height="107.3" fill="url(#g5_3)" fill-opacity="0.40"/><rect x="428.6" y="173.7" width="1.05" height="107.3" fill="url(#g5_3)" fill-opacity="0.44"/><rect x="429.6" y="173.7" width="1.05" height="107.3" fill="url(#g5_3)" fill-opacity="0.50"/><rect x="430.6" y="173.7" width="1.05" height="107.3" fill="url(#g5_3)" fill-opacity="0.54"/><rect x="431.6" y="173.7" width="1.05" height="107.3" fill="url(#g5_3)" fill-opacity="0.58"/><rect x="432.6" y="173.7" width="15.05" height="107.3" fill="url(#g5_3)" fill-opacity="0.60"/><rect x="447.6" y="173.7" width="1.05" height="107.3" fill="url(#g5_3)" fill-opacity="0.62"/><rect x="448.6" y="173.7" width="1.05" height="107.3" fill="url(#g5_3)" fill-opacity="0.64"/><rect x="449.6" y="173.7" width="1.05" height="107.3" fill="url(#g5_3)" fill-opacity="0.68"/><rect x="450.6" y="173.7" width="1.05" height="107.3" fill="url(#g5_3)" fill-opacity="0.76"/><rect x="451.6" y="173.7" width="1.05" height="107.3" fill="url(#g5_3)" fill-opacity="0.84"/><rect x="452.6" y="173.7" width="1.05" height="107.3" fill="url(#g5_3)" fill-opacity="0.92"/><rect x="453.6" y="173.7" width="1.05" height="107.3" fill="url(#g5_3)" fill-opacity="0.96"/><rect x="454.6" y="173.7" width="1.05" height="107.3" fill="url(#g5_3)" fill-opacity="0.98"/><rect x="455.6" y="173.7" width="14.05" height="107.3" fill="url(#g5_3)"/><rect x="469.6" y="173.7" width="1.05" height="107.3" fill="url(#g5_3)" fill-opacity="0.98"/><rect x="470.6" y="173.7" width="1.05" height="107.3" fill="url(#g5_3)" fill-opacity="0.94"/><rect x="471.6" y="173.7" width="1.05" height="107.3" fill="url(#g5_3)" fill-opacity="0.88"/><rect x="472.6" y="173.7" width="1.05" height="107.3" fill="url(#g5_3)" fill-opacity="0.78"/><rect x="473.6" y="173.7" width="1.05" height="107.3" fill="url(#g5_3)" fill-opacity="0.66"/><rect x="474.6" y="173.7" width="1.05" height="107.3" fill="url(#g5_3)" fill-opacity="0.56"/><rect x="475.6" y="173.7" width="1.05" height="107.3" fill="url(#g5_3)" fill-opacity="0.50"/><rect x="476.6" y="173.7" width="7.05" height="107.3" fill="url(#g5_3)" fill-opacity="0.46"/><rect x="483.6" y="173.7" width="1.05" height="107.3" fill="url(#g5_3)" fill-opacity="0.48"/><rect x="484.6" y="173.7" width="1.05" height="107.3" fill="url(#g5_3)" fill-opacity="0.52"/><rect x="485.6" y="173.7" width="1.05" height="107.3" fill="url(#g5_3)" fill-opacity="0.58"/><rect x="486.6" y="173.7" width="1.05" height="107.3" fill="url(#g5_3)" fill-opacity="0.66"/><rect x="487.6" y="173.7" width="1.05" height="107.3" fill="url(#g5_3)" fill-opacity="0.72"/><rect x="488.6" y="173.7" width="1.05" height="107.3" fill="url(#g5_3)" fill-opacity="0.76"/><rect x="489.6" y="173.7" width="5.05" height="107.3" fill="url(#g5_3)" fill-opacity="0.80"/><rect x="494.6" y="173.7" width="1.05" height="107.3" fill="url(#g5_3)" fill-opacity="0.76"/><rect x="495.6" y="173.7" width="1.05" height="107.3" fill="url(#g5_3)" fill-opacity="0.72"/><rect x="496.6" y="173.7" width="1.05" height="107.3" fill="url(#g5_3)" fill-opacity="0.66"/><rect x="497.6" y="173.7" width="1.05" height="107.3" fill="url(#g5_3)" fill-opacity="0.58"/><rect x="498.6" y="173.7" width="1.05" height="107.3" fill="url(#g5_3)" fill-opacity="0.52"/><rect x="499.6" y="173.7" width="1.05" height="107.3" fill="url(#g5_3)" fill-opacity="0.48"/><rect x="500.6" y="173.7" width="7.05" height="107.3" fill="url(#g5_3)" fill-opacity="0.46"/><rect x="507.6" y="173.7" width="1.05" height="107.3" fill="url(#g5_3)" fill-opacity="0.44"/><rect x="508.6" y="173.7" width="1.05" height="107.3" fill="url(#g5_3)" fill-opacity="0.42"/><rect x="509.6" y="173.7" width="1.05" height="107.3" fill="url(#g5_3)" fill-opacity="0.38"/><rect x="510.6" y="173.7" width="1.05" height="107.3" fill="url(#g5_3)" fill-opacity="0.32"/><rect x="511.6" y="173.7" width="0.45" height="107.3" fill="url(#g5_3)" fill-opacity="0.24"/></g>
<rect x="462.9" y="177.3" width="45.2" height="21.0" fill="#12a08a" fill-opacity="0.88"/>
<text transform="translate(467.10 187.10) scale(0.1000 0.1000)" font-size="72.0" style="fill:#fff">Levenshtein</text>
<text transform="translate(467.10 194.20) scale(0.1000 0.1000)" font-size="72.0" style="fill:#fff">distance: 274</text>
<rect x="515.3" y="173.7" width="6.7" height="107.3" fill="url(#cb)"/>
<text transform="translate(525.20 269.85) scale(0.1000 0.1000)" font-size="70.0">0</text>
<text transform="translate(525.20 252.09) scale(0.1000 0.1000)" font-size="70.0">10</text>
<text transform="translate(525.20 234.33) scale(0.1000 0.1000)" font-size="70.0">20</text>
<text transform="translate(525.20 216.57) scale(0.1000 0.1000)" font-size="70.0">30</text>
<text transform="translate(525.20 198.81) scale(0.1000 0.1000)" font-size="70.0">40</text>
<text transform="translate(525.20 181.05) scale(0.1000 0.1000)" font-size="70.0">50</text>
<text transform="translate(539.90 228.95) rotate(-90) scale(0.1000 0.1000)" font-size="72.5" text-anchor="middle">Power spectral density, dB</text>
<text transform="translate(448.20 170.10) scale(0.1000 0.1000)" font-size="70.0" text-anchor="middle" textLength="1010" lengthAdjust="spacingAndGlyphs">Bottle (sidepiece disturbed) 40 kHz</text>
<text transform="translate(386.70 283.40) scale(0.1000 0.1000)" font-size="70.0" text-anchor="end">0</text>
<text transform="translate(386.70 261.94) scale(0.1000 0.1000)" font-size="70.0" text-anchor="end">1</text>
<text transform="translate(386.70 240.48) scale(0.1000 0.1000)" font-size="70.0" text-anchor="end">2</text>
<text transform="translate(386.70 219.02) scale(0.1000 0.1000)" font-size="70.0" text-anchor="end">3</text>
<text transform="translate(386.70 197.56) scale(0.1000 0.1000)" font-size="70.0" text-anchor="end">4</text>
<text transform="translate(386.70 176.10) scale(0.1000 0.1000)" font-size="70.0" text-anchor="end">5</text>
<text transform="translate(379.10 232.05) rotate(-90) scale(0.1000 0.1000)" font-size="70.0" text-anchor="middle">Frequency, kHz</text>
<text transform="translate(391.45 289.30) scale(0.1000 0.1000)" font-size="70.0" text-anchor="middle">0</text>
<text transform="translate(403.85 289.30) scale(0.1000 0.1000)" font-size="70.0" text-anchor="middle">5</text>
<text transform="translate(417.25 289.30) scale(0.1000 0.1000)" font-size="70.0" text-anchor="middle">10</text>
<text transform="translate(431.15 289.30) scale(0.1000 0.1000)" font-size="70.0" text-anchor="middle">15</text>
<text transform="translate(445.75 289.30) scale(0.1000 0.1000)" font-size="70.0" text-anchor="middle">20</text>
<text transform="translate(460.25 289.30) scale(0.1000 0.1000)" font-size="70.0" text-anchor="middle">25</text>
<text transform="translate(475.05 289.30) scale(0.1000 0.1000)" font-size="70.0" text-anchor="middle">30</text>
<text transform="translate(489.35 289.30) scale(0.1000 0.1000)" font-size="70.0" text-anchor="middle">35</text>
<text transform="translate(503.45 289.30) scale(0.1000 0.1000)" font-size="70.0" text-anchor="middle">40</text>
<text transform="translate(448.30 296.30) scale(0.1000 0.1000)" font-size="72.0" text-anchor="middle">Time, s</text>
<text transform="translate(454.80 314.50) scale(0.1000 0.1000)" font-size="100.0" text-anchor="middle" style="fill:#111">(<tspan font-weight="bold">f</tspan>)</text>
<g filter="url(#f6)"><rect x="20.4" y="334.6" width="122.4" height="107.3" fill="url(#g6_0)"/><rect x="21.4" y="334.6" width="1.05" height="107.3" fill="url(#g6_1)" fill-opacity="0.08"/><rect x="22.4" y="334.6" width="1.05" height="107.3" fill="url(#g6_1)" fill-opacity="0.14"/><rect x="23.4" y="334.6" width="1.05" height="107.3" fill="url(#g6_1)" fill-opacity="0.06"/><rect x="24.4" y="334.6" width="1.05" height="107.3" fill="url(#g6_1)" fill-opacity="0.04"/><rect x="27.4" y="334.6" width="1.05" height="107.3" fill="url(#g6_1)" fill-opacity="0.40"/><rect x="28.4" y="334.6" width="1.05" height="107.3" fill="url(#g6_1)" fill-opacity="0.14"/><rect x="29.4" y="334.6" width="1.05" height="107.3" fill="url(#g6_1)" fill-opacity="0.06"/><rect x="30.4" y="334.6" width="1.05" height="107.3" fill="url(#g6_1)" fill-opacity="0.20"/><rect x="31.4" y="334.6" width="1.05" height="107.3" fill="url(#g6_1)" fill-opacity="0.02"/><rect x="32.4" y="334.6" width="1.05" height="107.3" fill="url(#g6_1)" fill-opacity="0.08"/><rect x="33.4" y="334.6" width="1.05" height="107.3" fill="url(#g6_1)" fill-opacity="0.04"/><rect x="34.4" y="334.6" width="1.05" height="107.3" fill="url(#g6_1)" fill-opacity="0.02"/><rect x="35.4" y="334.6" width="2.05" height="107.3" fill="url(#g6_1)" fill-opacity="0.06"/><rect x="37.4" y="334.6" width="2.05" height="107.3" fill="url(#g6_1)" fill-opacity="0.10"/><rect x="39.4" y="334.6" width="1.05" height="107.3" fill="url(#g6_1)" fill-opacity="0.72"/><rect x="40.4" y="334.6" width="1.05" height="107.3" fill="url(#g6_1)"/><rect x="41.4" y="334.6" width="1.05" height="107.3" fill="url(#g6_1)" fill-opacity="0.44"/><rect x="42.4" y="334.6" width="1.05" height="107.3" fill="url(#g6_1)" fill-opacity="0.04"/><rect x="43.4" y="334.6" width="1.05" height="107.3" fill="url(#g6_1)" fill-opacity="0.12"/><rect x="44.4" y="334.6" width="1.05" height="107.3" fill="url(#g6_1)" fill-opacity="0.08"/><rect x="45.4" y="334.6" width="2.05" height="107.3" fill="url(#g6_1)" fill-opacity="0.02"/><rect x="48.4" y="334.6" width="1.05" height="107.3" fill="url(#g6_1)" fill-opacity="0.08"/><rect x="49.4" y="334.6" width="1.05" height="107.3" fill="url(#g6_1)" fill-opacity="0.04"/><rect x="50.4" y="334.6" width="1.05" height="107.3" fill="url(#g6_1)" fill-opacity="0.22"/><rect x="51.4" y="334.6" width="1.05" height="107.3" fill="url(#g6_1)" fill-opacity="0.02"/><rect x="52.4" y="334.6" width="1.05" height="107.3" fill="url(#g6_1)" fill-opacity="0.10"/><rect x="53.4" y="334.6" width="1.05" height="107.3" fill="url(#g6_1)" fill-opacity="0.14"/><rect x="54.4" y="334.6" width="2.05" height="107.3" fill="url(#g6_1)" fill-opacity="0.08"/><rect x="56.4" y="334.6" width="2.05" height="107.3" fill="url(#g6_1)" fill-opacity="0.16"/><rect x="58.4" y="334.6" width="1.05" height="107.3" fill="url(#g6_1)" fill-opacity="0.10"/><rect x="59.4" y="334.6" width="1.05" height="107.3" fill="url(#g6_1)" fill-opacity="0.02"/><rect x="60.4" y="334.6" width="1.05" height="107.3" fill="url(#g6_1)" fill-opacity="0.12"/><rect x="61.4" y="334.6" width="1.05" height="107.3" fill="url(#g6_1)" fill-opacity="0.10"/><rect x="62.4" y="334.6" width="1.05" height="107.3" fill="url(#g6_1)" fill-opacity="0.18"/><rect x="63.4" y="334.6" width="1.05" height="107.3" fill="url(#g6_1)" fill-opacity="0.06"/><rect x="64.4" y="334.6" width="1.05" height="107.3" fill="url(#g6_1)" fill-opacity="0.10"/><rect x="65.4" y="334.6" width="1.05" height="107.3" fill="url(#g6_1)" fill-opacity="0.08"/><rect x="66.4" y="334.6" width="1.05" height="107.3" fill="url(#g6_1)" fill-opacity="0.10"/><rect x="67.4" y="334.6" width="1.05" height="107.3" fill="url(#g6_1)" fill-opacity="0.06"/><rect x="68.4" y="334.6" width="1.05" height="107.3" fill="url(#g6_1)" fill-opacity="0.08"/><rect x="69.4" y="334.6" width="1.05" height="107.3" fill="url(#g6_1)" fill-opacity="0.02"/><rect x="70.4" y="334.6" width="1.05" height="107.3" fill="url(#g6_1)" fill-opacity="0.08"/><rect x="71.4" y="334.6" width="1.05" height="107.3" fill="url(#g6_1)" fill-opacity="0.06"/><rect x="72.4" y="334.6" width="1.05" height="107.3" fill="url(#g6_1)" fill-opacity="0.14"/><rect x="73.4" y="334.6" width="1.05" height="107.3" fill="url(#g6_1)" fill-opacity="0.20"/><rect x="74.4" y="334.6" width="1.05" height="107.3" fill="url(#g6_1)" fill-opacity="0.28"/><rect x="75.4" y="334.6" width="2.05" height="107.3" fill="url(#g6_1)" fill-opacity="0.16"/><rect x="77.4" y="334.6" width="1.05" height="107.3" fill="url(#g6_1)" fill-opacity="0.22"/><rect x="78.4" y="334.6" width="1.05" height="107.3" fill="url(#g6_1)" fill-opacity="0.16"/><rect x="79.4" y="334.6" width="1.05" height="107.3" fill="url(#g6_1)" fill-opacity="0.24"/><rect x="80.4" y="334.6" width="1.05" height="107.3" fill="url(#g6_1)" fill-opacity="0.30"/><rect x="81.4" y="334.6" width="1.05" height="107.3" fill="url(#g6_1)" fill-opacity="0.12"/><rect x="82.4" y="334.6" width="1.05" height="107.3" fill="url(#g6_1)" fill-opacity="0.02"/><rect x="83.4" y="334.6" width="2.05" height="107.3" fill="url(#g6_1)" fill-opacity="0.06"/><rect x="85.4" y="334.6" width="2.05" height="107.3" fill="url(#g6_1)" fill-opacity="0.20"/><rect x="87.4" y="334.6" width="1.05" height="107.3" fill="url(#g6_1)" fill-opacity="0.10"/><rect x="88.4" y="334.6" width="1.05" height="107.3" fill="url(#g6_1)" fill-opacity="0.16"/><rect x="89.4" y="334.6" width="1.05" height="107.3" fill="url(#g6_1)" fill-opacity="0.10"/><rect x="90.4" y="334.6" width="1.05" height="107.3" fill="url(#g6_1)" fill-opacity="0.16"/><rect x="91.4" y="334.6" width="1.05" height="107.3" fill="url(#g6_1)" fill-opacity="0.10"/><rect x="92.4" y="334.6" width="1.05" height="107.3" fill="url(#g6_1)" fill-opacity="0.08"/><rect x="93.4" y="334.6" width="1.05" height="107.3" fill="url(#g6_1)" fill-opacity="0.06"/><rect x="94.4" y="334.6" width="1.05" height="107.3" fill="url(#g6_1)" fill-opacity="0.26"/><rect x="95.4" y="334.6" width="1.05" height="107.3" fill="url(#g6_1)" fill-opacity="0.14"/><rect x="96.4" y="334.6" width="1.05" height="107.3" fill="url(#g6_1)" fill-opacity="0.06"/><rect x="97.4" y="334.6" width="1.05" height="107.3" fill="url(#g6_1)" fill-opacity="0.02"/><rect x="98.4" y="334.6" width="1.05" height="107.3" fill="url(#g6_1)" fill-opacity="0.08"/><rect x="99.4" y="334.6" width="1.05" height="107.3" fill="url(#g6_1)" fill-opacity="0.26"/><rect x="100.4" y="334.6" width="1.05" height="107.3" fill="url(#g6_1)" fill-opacity="0.18"/><rect x="101.4" y="334.6" width="1.05" height="107.3" fill="url(#g6_1)" fill-opacity="0.26"/><rect x="102.4" y="334.6" width="1.05" height="107.3" fill="url(#g6_1)" fill-opacity="0.34"/><rect x="103.4" y="334.6" width="1.05" height="107.3" fill="url(#g6_1)" fill-opacity="0.14"/><rect x="104.4" y="334.6" width="1.05" height="107.3" fill="url(#g6_1)" fill-opacity="0.16"/><rect x="105.4" y="334.6" width="1.05" height="107.3" fill="url(#g6_1)" fill-opacity="0.06"/><rect x="106.4" y="334.6" width="1.05" height="107.3" fill="url(#g6_1)" fill-opacity="0.10"/><rect x="107.4" y="334.6" width="1.05" height="107.3" fill="url(#g6_1)" fill-opacity="0.12"/><rect x="108.4" y="334.6" width="1.05" height="107.3" fill="url(#g6_1)" fill-opacity="0.08"/><rect x="109.4" y="334.6" width="1.05" height="107.3" fill="url(#g6_1)" fill-opacity="0.16"/><rect x="110.4" y="334.6" width="2.05" height="107.3" fill="url(#g6_1)" fill-opacity="0.08"/><rect x="112.4" y="334.6" width="2.05" height="107.3" fill="url(#g6_1)" fill-opacity="0.06"/><rect x="114.4" y="334.6" width="1.05" height="107.3" fill="url(#g6_1)" fill-opacity="0.10"/><rect x="115.4" y="334.6" width="1.05" height="107.3" fill="url(#g6_1)" fill-opacity="0.12"/><rect x="116.4" y="334.6" width="1.05" height="107.3" fill="url(#g6_1)" fill-opacity="0.18"/><rect x="117.4" y="334.6" width="1.05" height="107.3" fill="url(#g6_1)" fill-opacity="0.12"/><rect x="118.4" y="334.6" width="1.05" height="107.3" fill="url(#g6_1)" fill-opacity="0.10"/><rect x="119.4" y="334.6" width="1.05" height="107.3" fill="url(#g6_1)" fill-opacity="0.02"/><rect x="120.4" y="334.6" width="1.05" height="107.3" fill="url(#g6_1)" fill-opacity="0.12"/><rect x="121.4" y="334.6" width="2.05" height="107.3" fill="url(#g6_1)" fill-opacity="0.08"/><rect x="123.4" y="334.6" width="1.05" height="107.3" fill="url(#g6_1)" fill-opacity="0.26"/><rect x="124.4" y="334.6" width="1.05" height="107.3" fill="url(#g6_1)" fill-opacity="0.08"/><rect x="125.4" y="334.6" width="1.05" height="107.3" fill="url(#g6_1)" fill-opacity="0.06"/><rect x="126.4" y="334.6" width="1.05" height="107.3" fill="url(#g6_1)" fill-opacity="0.08"/><rect x="127.4" y="334.6" width="1.05" height="107.3" fill="url(#g6_1)" fill-opacity="0.10"/><rect x="128.4" y="334.6" width="1.05" height="107.3" fill="url(#g6_1)" fill-opacity="0.18"/><rect x="129.4" y="334.6" width="1.05" height="107.3" fill="url(#g6_1)" fill-opacity="0.06"/><rect x="130.4" y="334.6" width="2.05" height="107.3" fill="url(#g6_1)" fill-opacity="0.08"/><rect x="132.4" y="334.6" width="1.05" height="107.3" fill="url(#g6_1)" fill-opacity="0.18"/><rect x="133.4" y="334.6" width="1.05" height="107.3" fill="url(#g6_1)" fill-opacity="0.24"/><rect x="134.4" y="334.6" width="1.05" height="107.3" fill="url(#g6_1)" fill-opacity="0.10"/><rect x="135.4" y="334.6" width="1.05" height="107.3" fill="url(#g6_1)" fill-opacity="0.12"/><rect x="136.4" y="334.6" width="1.05" height="107.3" fill="url(#g6_1)" fill-opacity="0.08"/><rect x="137.4" y="334.6" width="2.05" height="107.3" fill="url(#g6_1)" fill-opacity="0.10"/><rect x="139.4" y="334.6" width="1.05" height="107.3" fill="url(#g6_1)" fill-opacity="0.04"/><rect x="140.4" y="334.6" width="1.05" height="107.3" fill="url(#g6_1)" fill-opacity="0.08"/><rect x="141.4" y="334.6" width="1.05" height="107.3" fill="url(#g6_1)" fill-opacity="0.10"/><rect x="142.4" y="334.6" width="0.45" height="107.3" fill="url(#g6_1)" fill-opacity="0.02"/><rect x="20.4" y="334.6" width="3.05" height="107.3" fill="url(#g6_2)"/><rect x="23.4" y="334.6" width="1.05" height="107.3" fill="url(#g6_2)" fill-opacity="0.36"/><rect x="24.4" y="334.6" width="3.05" height="107.3" fill="url(#g6_2)" fill-opacity="0.20"/><rect x="27.4" y="334.6" width="1.05" height="107.3" fill="url(#g6_2)" fill-opacity="0.08"/><rect x="35.4" y="334.6" width="1.05" height="107.3" fill="url(#g6_2)" fill-opacity="0.12"/><rect x="36.4" y="334.6" width="3.05" height="107.3" fill="url(#g6_2)" fill-opacity="0.62"/><rect x="39.4" y="334.6" width="1.05" height="107.3" fill="url(#g6_2)" fill-opacity="0.12"/><rect x="41.4" y="334.6" width="1.05" height="107.3" fill="url(#g6_2)" fill-opacity="0.04"/><rect x="42.4" y="334.6" width="2.05" height="107.3" fill="url(#g6_2)" fill-opacity="0.08"/><rect x="44.4" y="334.6" width="1.05" height="107.3" fill="url(#g6_2)" fill-opacity="0.20"/><rect x="45.4" y="334.6" width="6.05" height="107.3" fill="url(#g6_2)" fill-opacity="0.54"/><rect x="51.4" y="334.6" width="1.05" height="107.3" fill="url(#g6_2)" fill-opacity="0.22"/><rect x="58.4" y="334.6" width="1.05" height="107.3" fill="url(#g6_2)" fill-opacity="0.38"/><rect x="59.4" y="334.6" width="1.05" height="107.3" fill="url(#g6_2)" fill-opacity="0.42"/><rect x="60.4" y="334.6" width="1.05" height="107.3" fill="url(#g6_2)" fill-opacity="0.16"/><rect x="68.4" y="334.6" width="1.05" height="107.3" fill="url(#g6_2)" fill-opacity="0.12"/><rect x="69.4" y="334.6" width="3.05" height="107.3" fill="url(#g6_2)" fill-opacity="0.58"/><rect x="72.4" y="334.6" width="1.05" height="107.3" fill="url(#g6_2)" fill-opacity="0.06"/><rect x="81.4" y="334.6" width="1.05" height="107.3" fill="url(#g6_2)" fill-opacity="0.38"/><rect x="82.4" y="334.6" width="1.05" height="107.3" fill="url(#g6_2)" fill-opacity="0.62"/><rect x="83.4" y="334.6" width="1.05" height="107.3" fill="url(#g6_2)" fill-opacity="0.44"/><rect x="92.4" y="334.6" width="1.05" height="107.3" fill="url(#g6_2)" fill-opacity="0.30"/><rect x="93.4" y="334.6" width="1.05" height="107.3" fill="url(#g6_2)" fill-opacity="0.24"/><rect x="95.4" y="334.6" width="1.05" height="107.3" fill="url(#g6_2)" fill-opacity="0.08"/><rect x="96.4" y="334.6" width="3.05" height="107.3" fill="url(#g6_2)" fill-opacity="0.30"/><rect x="99.4" y="334.6" width="1.05" height="107.3" fill="url(#g6_2)" fill-opacity="0.06"/><rect x="103.4" y="334.6" width="1.05" height="107.3" fill="url(#g6_2)" fill-opacity="0.56"/><rect x="104.4" y="334.6" width="2.05" height="107.3" fill="url(#g6_2)" fill-opacity="0.70"/><rect x="106.4" y="334.6" width="1.05" height="107.3" fill="url(#g6_2)" fill-opacity="0.14"/><rect x="117.4" y="334.6" width="1.05" height="107.3" fill="url(#g6_2)" fill-opacity="0.24"/><rect x="118.4" y="334.6" width="1.05" height="107.3" fill="url(#g6_2)" fill-opacity="0.42"/><rect x="119.4" y="334.6" width="1.05" height="107.3" fill="url(#g6_2)" fill-opacity="0.34"/><rect x="129.4" y="334.6" width="1.05" height="107.3" fill="url(#g6_2)" fill-opacity="0.50"/><rect x="130.4" y="334.6" width="1.05" height="107.3" fill="url(#g6_2)" fill-opacity="0.62"/><rect x="131.4" y="334.6" width="1.05" height="107.3" fill="url(#g6_2)" fill-opacity="0.38"/><rect x="138.4" y="334.6" width="1.05" height="107.3" fill="url(#g6_2)" fill-opacity="0.16"/><rect x="139.4" y="334.6" width="3.45" height="107.3" fill="url(#g6_2)" fill-opacity="0.50"/><rect x="23.4" y="334.6" width="1.05" height="107.3" fill="url(#g6_3)" fill-opacity="0.22"/><rect x="24.4" y="334.6" width="1.05" height="107.3" fill="url(#g6_3)" fill-opacity="0.12"/><rect x="25.4" y="334.6" width="1.05" height="107.3" fill="url(#g6_3)" fill-opacity="0.08"/><rect x="27.4" y="334.6" width="1.05" height="107.3" fill="url(#g6_3)" fill-opacity="0.10"/><rect x="28.4" y="334.6" width="1.05" height="107.3" fill="url(#g6_3)" fill-opacity="0.22"/><rect x="29.4" y="334.6" width="1.05" height="107.3" fill="url(#g6_3)" fill-opacity="0.02"/><rect x="30.4" y="334.6" width="1.05" height="107.3" fill="url(#g6_3)" fill-opacity="0.66"/><rect x="31.4" y="334.6" width="1.05" height="107.3" fill="url(#g6_3)"/><rect x="32.4" y="334.6" width="1.05" height="107.3" fill="url(#g6_3)" fill-opacity="0.50"/><rect x="33.4" y="334.6" width="1.05" height="107.3" fill="url(#g6_3)" fill-opacity="0.70"/><rect x="34.4" y="334.6" width="1.05" height="107.3" fill="url(#g6_3)"/><rect x="35.4" y="334.6" width="1.05" height="107.3" fill="url(#g6_3)" fill-opacity="0.50"/><rect x="36.4" y="334.6" width="1.05" height="107.3" fill="url(#g6_3)" fill-opacity="0.38"/><rect x="38.4" y="334.6" width="1.05" height="107.3" fill="url(#g6_3)" fill-opacity="0.10"/><rect x="39.4" y="334.6" width="1.05" height="107.3" fill="url(#g6_3)" fill-opacity="0.88"/><rect x="40.4" y="334.6" width="1.05" height="107.3" fill="url(#g6_3)" fill-opacity="0.68"/><rect x="41.4" y="334.6" width="1.05" height="107.3" fill="url(#g6_3)" fill-opacity="0.34"/><rect x="42.4" y="334.6" width="1.05" height="107.3" fill="url(#g6_3)" fill-opacity="0.74"/><rect x="43.4" y="334.6" width="1.05" height="107.3" fill="url(#g6_3)" fill-opacity="0.50"/><rect x="44.4" y="334.6" width="1.05" height="107.3" fill="url(#g6_3)" fill-opacity="0.48"/><rect x="45.4" y="334.6" width="1.05" height="107.3" fill="url(#g6_3)" fill-opacity="0.08"/><rect x="46.4" y="334.6" width="1.05" height="107.3" fill="url(#g6_3)" fill-opacity="0.20"/><rect x="47.4" y="334.6" width="1.05" height="107.3" fill="url(#g6_3)" fill-opacity="0.24"/><rect x="48.4" y="334.6" width="1.05" height="107.3" fill="url(#g6_3)" fill-opacity="0.04"/><rect x="50.4" y="334.6" width="1.05" height="107.3" fill="url(#g6_3)" fill-opacity="0.14"/><rect x="51.4" y="334.6" width="1.05" height="107.3" fill="url(#g6_3)" fill-opacity="0.78"/><rect x="54.4" y="334.6" width="1.05" height="107.3" fill="url(#g6_3)" fill-opacity="0.24"/><rect x="55.4" y="334.6" width="1.05" height="107.3" fill="url(#g6_3)" fill-opacity="0.48"/><rect x="56.4" y="334.6" width="1.05" height="107.3" fill="url(#g6_3)" fill-opacity="0.92"/><rect x="57.4" y="334.6" width="1.05" height="107.3" fill="url(#g6_3)" fill-opacity="0.86"/><rect x="58.4" y="334.6" width="1.05" height="107.3" fill="url(#g6_3)" fill-opacity="0.62"/><rect x="59.4" y="334.6" width="1.05" height="107.3" fill="url(#g6_3)" fill-opacity="0.58"/><rect x="60.4" y="334.6" width="1.05" height="107.3" fill="url(#g6_3)" fill-opacity="0.02"/><rect x="61.4" y="334.6" width="1.05" height="107.3" fill="url(#g6_3)" fill-opacity="0.32"/><rect x="62.4" y="334.6" width="1.05" height="107.3" fill="url(#g6_3)" fill-opacity="0.10"/><rect x="63.4" y="334.6" width="1.05" height="107.3" fill="url(#g6_3)" fill-opacity="0.56"/><rect x="64.4" y="334.6" width="1.05" height="107.3" fill="url(#g6_3)" fill-opacity="0.16"/><rect x="66.4" y="334.6" width="1.05" height="107.3" fill="url(#g6_3)"/><rect x="67.4" y="334.6" width="1.05" height="107.3" fill="url(#g6_3)" fill-opacity="0.28"/><rect x="68.4" y="334.6" width="1.05" height="107.3" fill="url(#g6_3)" fill-opacity="0.02"/><rect x="69.4" y="334.6" width="1.05" height="107.3" fill="url(#g6_3)" fill-opacity="0.32"/><rect x="71.4" y="334.6" width="1.05" height="107.3" fill="url(#g6_3)" fill-opacity="0.04"/><rect x="75.4" y="334.6" width="1.05" height="107.3" fill="url(#g6_3)" fill-opacity="0.32"/><rect x="76.4" y="334.6" width="2.05" height="107.3" fill="url(#g6_3)" fill-opacity="0.02"/><rect x="78.4" y="334.6" width="1.05" height="107.3" fill="url(#g6_3)" fill-opacity="0.74"/><rect x="80.4" y="334.6" width="1.05" height="107.3" fill="url(#g6_3)"/><rect x="83.4" y="334.6" width="1.05" height="107.3" fill="url(#g6_3)" fill-opacity="0.14"/><rect x="84.4" y="334.6" width="1.05" height="107.3" fill="url(#g6_3)" fill-opacity="0.54"/><rect x="85.4" y="334.6" width="1.05" height="107.3" fill="url(#g6_3)"/><rect x="86.4" y="334.6" width="1.05" height="107.3" fill="url(#g6_3)" fill-opacity="0.10"/><rect x="87.4" y="334.6" width="1.05" height="107.3" fill="url(#g6_3)" fill-opacity="0.16"/><rect x="88.4" y="334.6" width="1.05" height="107.3" fill="url(#g6_3)" fill-opacity="0.26"/><rect x="89.4" y="334.6" width="1.05" height="107.3" fill="url(#g6_3)"/><rect x="91.4" y="334.6" width="1.05" height="107.3" fill="url(#g6_3)" fill-opacity="0.52"/><rect x="92.4" y="334.6" width="1.05" height="107.3" fill="url(#g6_3)" fill-opacity="0.24"/><rect x="94.4" y="334.6" width="1.05" height="107.3" fill="url(#g6_3)" fill-opacity="0.16"/><rect x="95.4" y="334.6" width="1.05" height="107.3" fill="url(#g6_3)" fill-opacity="0.36"/><rect x="97.4" y="334.6" width="1.05" height="107.3" fill="url(#g6_3)" fill-opacity="0.24"/><rect x="98.4" y="334.6" width="1.05" height="107.3" fill="url(#g6_3)" fill-opacity="0.48"/><rect x="99.4" y="334.6" width="1.05" height="107.3" fill="url(#g6_3)" fill-opacity="0.68"/><rect x="100.4" y="334.6" width="1.05" height="107.3" fill="url(#g6_3)" fill-opacity="0.12"/><rect x="101.4" y="334.6" width="1.05" height="107.3" fill="url(#g6_3)" fill-opacity="0.22"/><rect x="102.4" y="334.6" width="1.05" height="107.3" fill="url(#g6_3)" fill-opacity="0.36"/><rect x="103.4" y="334.6" width="1.05" height="107.3" fill="url(#g6_3)" fill-opacity="0.34"/><rect x="104.4" y="334.6" width="1.05" height="107.3" fill="url(#g6_3)" fill-opacity="0.12"/><rect x="105.4" y="334.6" width="1.05" height="107.3" fill="url(#g6_3)" fill-opacity="0.28"/><rect x="106.4" y="334.6" width="1.05" height="107.3" fill="url(#g6_3)" fill-opacity="0.52"/><rect x="108.4" y="334.6" width="1.05" height="107.3" fill="url(#g6_3)" fill-opacity="0.86"/><rect x="109.4" y="334.6" width="1.05" height="107.3" fill="url(#g6_3)" fill-opacity="0.02"/><rect x="110.4" y="334.6" width="1.05" height="107.3" fill="url(#g6_3)" fill-opacity="0.62"/><rect x="111.4" y="334.6" width="1.05" height="107.3" fill="url(#g6_3)" fill-opacity="0.34"/><rect x="112.4" y="334.6" width="1.05" height="107.3" fill="url(#g6_3)" fill-opacity="0.82"/><rect x="113.4" y="334.6" width="1.05" height="107.3" fill="url(#g6_3)" fill-opacity="0.38"/><rect x="114.4" y="334.6" width="1.05" height="107.3" fill="url(#g6_3)" fill-opacity="0.42"/><rect x="116.4" y="334.6" width="1.05" height="107.3" fill="url(#g6_3)"/><rect x="117.4" y="334.6" width="1.05" height="107.3" fill="url(#g6_3)" fill-opacity="0.28"/><rect x="118.4" y="334.6" width="1.05" height="107.3" fill="url(#g6_3)" fill-opacity="0.08"/><rect x="119.4" y="334.6" width="1.05" height="107.3" fill="url(#g6_3)" fill-opacity="0.66"/><rect x="120.4" y="334.6" width="1.05" height="107.3" fill="url(#g6_3)" fill-opacity="0.62"/><rect x="121.4" y="334.6" width="1.05" height="107.3" fill="url(#g6_3)" fill-opacity="0.46"/><rect x="122.4" y="334.6" width="1.05" height="107.3" fill="url(#g6_3)" fill-opacity="0.58"/><rect x="123.4" y="334.6" width="1.05" height="107.3" fill="url(#g6_3)" fill-opacity="0.38"/><rect x="126.4" y="334.6" width="1.05" height="107.3" fill="url(#g6_3)" fill-opacity="0.82"/><rect x="127.4" y="334.6" width="1.05" height="107.3" fill="url(#g6_3)" fill-opacity="0.88"/><rect x="128.4" y="334.6" width="1.05" height="107.3" fill="url(#g6_3)" fill-opacity="0.62"/><rect x="129.4" y="334.6" width="1.05" height="107.3" fill="url(#g6_3)" fill-opacity="0.26"/><rect x="130.4" y="334.6" width="1.05" height="107.3" fill="url(#g6_3)" fill-opacity="0.32"/><rect x="131.4" y="334.6" width="1.05" height="107.3" fill="url(#g6_3)" fill-opacity="0.58"/><rect x="132.4" y="334.6" width="1.05" height="107.3" fill="url(#g6_3)" fill-opacity="0.56"/><rect x="133.4" y="334.6" width="1.05" height="107.3" fill="url(#g6_3)" fill-opacity="0.84"/><rect x="134.4" y="334.6" width="1.05" height="107.3" fill="url(#g6_3)" fill-opacity="0.80"/><rect x="135.4" y="334.6" width="1.05" height="107.3" fill="url(#g6_3)" fill-opacity="0.08"/><rect x="136.4" y="334.6" width="1.05" height="107.3" fill="url(#g6_3)" fill-opacity="0.76"/><rect x="139.4" y="334.6" width="1.05" height="107.3" fill="url(#g6_3)" fill-opacity="0.34"/></g>
<rect x="92.4" y="338.9" width="45.8" height="21.0" fill="#12a08a" fill-opacity="0.85"/>
<text transform="translate(96.60 348.70) scale(0.1000 0.1000)" font-size="72.0" style="fill:#fff">Levenshtein</text>
<text transform="translate(96.60 355.80) scale(0.1000 0.1000)" font-size="72.0" style="fill:#fff">distance: 192</text>
<rect x="146.1" y="334.6" width="6.7" height="107.3" fill="url(#cb)"/>
<text transform="translate(156.00 436.35) scale(0.1000 0.1000)" font-size="70.0">0</text>
<text transform="translate(156.00 418.59) scale(0.1000 0.1000)" font-size="70.0">10</text>
<text transform="translate(156.00 400.83) scale(0.1000 0.1000)" font-size="70.0">20</text>
<text transform="translate(156.00 383.07) scale(0.1000 0.1000)" font-size="70.0">30</text>
<text transform="translate(156.00 365.31) scale(0.1000 0.1000)" font-size="70.0">40</text>
<text transform="translate(156.00 347.55) scale(0.1000 0.1000)" font-size="70.0">50</text>
<text transform="translate(170.70 389.85) rotate(-90) scale(0.1000 0.1000)" font-size="72.5" text-anchor="middle">Power spectral density, dB</text>
<text transform="translate(82.10 331.00) scale(0.1000 0.1000)" font-size="70.0" text-anchor="middle" textLength="896" lengthAdjust="spacingAndGlyphs">Bottle (without bottom) 40 kHz</text>
<text transform="translate(17.50 444.30) scale(0.1000 0.1000)" font-size="70.0" text-anchor="end">0</text>
<text transform="translate(17.50 422.84) scale(0.1000 0.1000)" font-size="70.0" text-anchor="end">1</text>
<text transform="translate(17.50 401.38) scale(0.1000 0.1000)" font-size="70.0" text-anchor="end">2</text>
<text transform="translate(17.50 379.92) scale(0.1000 0.1000)" font-size="70.0" text-anchor="end">3</text>
<text transform="translate(17.50 358.46) scale(0.1000 0.1000)" font-size="70.0" text-anchor="end">4</text>
<text transform="translate(17.50 337.00) scale(0.1000 0.1000)" font-size="70.0" text-anchor="end">5</text>
<text transform="translate(9.90 392.95) rotate(-90) scale(0.1000 0.1000)" font-size="70.0" text-anchor="middle">Frequency, kHz</text>
<text transform="translate(22.25 450.20) scale(0.1000 0.1000)" font-size="70.0" text-anchor="middle">0</text>
<text transform="translate(34.65 450.20) scale(0.1000 0.1000)" font-size="70.0" text-anchor="middle">5</text>
<text transform="translate(48.05 450.20) scale(0.1000 0.1000)" font-size="70.0" text-anchor="middle">10</text>
<text transform="translate(61.95 450.20) scale(0.1000 0.1000)" font-size="70.0" text-anchor="middle">15</text>
<text transform="translate(76.55 450.20) scale(0.1000 0.1000)" font-size="70.0" text-anchor="middle">20</text>
<text transform="translate(91.05 450.20) scale(0.1000 0.1000)" font-size="70.0" text-anchor="middle">25</text>
<text transform="translate(105.85 450.20) scale(0.1000 0.1000)" font-size="70.0" text-anchor="middle">30</text>
<text transform="translate(120.15 450.20) scale(0.1000 0.1000)" font-size="70.0" text-anchor="middle">35</text>
<text transform="translate(134.25 450.20) scale(0.1000 0.1000)" font-size="70.0" text-anchor="middle">40</text>
<text transform="translate(79.10 457.20) scale(0.1000 0.1000)" font-size="72.0" text-anchor="middle">Time, s</text>
<text transform="translate(85.60 475.40) scale(0.1000 0.1000)" font-size="100.0" text-anchor="middle" style="fill:#111">(<tspan font-weight="bold">g</tspan>)</text>
<g filter="url(#f7)"><rect x="204.6" y="334.6" width="122.4" height="107.3" fill="url(#g7_0)"/><rect x="204.6" y="334.6" width="1.05" height="107.3" fill="url(#g7_1)" fill-opacity="0.02"/><rect x="205.6" y="334.6" width="3.05" height="107.3" fill="url(#g7_1)" fill-opacity="0.06"/><rect x="208.6" y="334.6" width="1.05" height="107.3" fill="url(#g7_1)" fill-opacity="0.02"/><rect x="209.6" y="334.6" width="1.05" height="107.3" fill="url(#g7_1)" fill-opacity="0.04"/><rect x="210.6" y="334.6" width="1.05" height="107.3" fill="url(#g7_1)" fill-opacity="0.22"/><rect x="211.6" y="334.6" width="1.05" height="107.3" fill="url(#g7_1)" fill-opacity="0.54"/><rect x="212.6" y="334.6" width="1.05" height="107.3" fill="url(#g7_1)" fill-opacity="0.70"/><rect x="213.6" y="334.6" width="1.05" height="107.3" fill="url(#g7_1)"/><rect x="214.6" y="334.6" width="1.05" height="107.3" fill="url(#g7_1)" fill-opacity="0.88"/><rect x="215.6" y="334.6" width="1.05" height="107.3" fill="url(#g7_1)" fill-opacity="0.96"/><rect x="216.6" y="334.6" width="1.05" height="107.3" fill="url(#g7_1)" fill-opacity="0.92"/><rect x="217.6" y="334.6" width="1.05" height="107.3" fill="url(#g7_1)" fill-opacity="0.88"/><rect x="218.6" y="334.6" width="1.05" height="107.3" fill="url(#g7_1)" fill-opacity="0.60"/><rect x="219.6" y="334.6" width="1.05" height="107.3" fill="url(#g7_1)" fill-opacity="0.34"/><rect x="220.6" y="334.6" width="1.05" height="107.3" fill="url(#g7_1)" fill-opacity="0.14"/><rect x="221.6" y="334.6" width="1.05" height="107.3" fill="url(#g7_1)" fill-opacity="0.10"/><rect x="222.6" y="334.6" width="1.05" height="107.3" fill="url(#g7_1)" fill-opacity="0.22"/><rect x="223.6" y="334.6" width="1.05" height="107.3" fill="url(#g7_1)" fill-opacity="0.60"/><rect x="224.6" y="334.6" width="1.05" height="107.3" fill="url(#g7_1)" fill-opacity="0.92"/><rect x="225.6" y="334.6" width="3.05" height="107.3" fill="url(#g7_1)"/><rect x="228.6" y="334.6" width="1.05" height="107.3" fill="url(#g7_1)" fill-opacity="0.90"/><rect x="229.6" y="334.6" width="1.05" height="107.3" fill="url(#g7_1)" fill-opacity="0.70"/><rect x="230.6" y="334.6" width="1.05" height="107.3" fill="url(#g7_1)" fill-opacity="0.62"/><rect x="231.6" y="334.6" width="1.05" height="107.3" fill="url(#g7_1)" fill-opacity="0.28"/><rect x="232.6" y="334.6" width="1.05" height="107.3" fill="url(#g7_1)" fill-opacity="0.06"/><rect x="233.6" y="334.6" width="1.05" height="107.3" fill="url(#g7_1)" fill-opacity="0.08"/><rect x="234.6" y="334.6" width="1.05" height="107.3" fill="url(#g7_1)" fill-opacity="0.44"/><rect x="235.6" y="334.6" width="1.05" height="107.3" fill="url(#g7_1)" fill-opacity="0.74"/><rect x="236.6" y="334.6" width="1.05" height="107.3" fill="url(#g7_1)" fill-opacity="0.94"/><rect x="237.6" y="334.6" width="1.05" height="107.3" fill="url(#g7_1)"/><rect x="238.6" y="334.6" width="1.05" height="107.3" fill="url(#g7_1)" fill-opacity="0.78"/><rect x="239.6" y="334.6" width="1.05" height="107.3" fill="url(#g7_1)" fill-opacity="0.76"/><rect x="240.6" y="334.6" width="1.05" height="107.3" fill="url(#g7_1)" fill-opacity="0.50"/><rect x="241.6" y="334.6" width="1.05" height="107.3" fill="url(#g7_1)" fill-opacity="0.56"/><rect x="242.6" y="334.6" width="1.05" height="107.3" fill="url(#g7_1)" fill-opacity="0.24"/><rect x="243.6" y="334.6" width="1.05" height="107.3" fill="url(#g7_1)" fill-opacity="0.08"/><rect x="244.6" y="334.6" width="1.05" height="107.3" fill="url(#g7_1)" fill-opacity="0.20"/><rect x="245.6" y="334.6" width="1.05" height="107.3" fill="url(#g7_1)" fill-opacity="0.54"/><rect x="246.6" y="334.6" width="1.05" height="107.3" fill="url(#g7_1)" fill-opacity="0.78"/><rect x="247.6" y="334.6" width="1.05" height="107.3" fill="url(#g7_1)" fill-opacity="0.92"/><rect x="248.6" y="334.6" width="2.05" height="107.3" fill="url(#g7_1)" fill-opacity="0.86"/><rect x="250.6" y="334.6" width="1.05" height="107.3" fill="url(#g7_1)"/><rect x="251.6" y="334.6" width="1.05" height="107.3" fill="url(#g7_1)" fill-opacity="0.88"/><rect x="252.6" y="334.6" width="1.05" height="107.3" fill="url(#g7_1)" fill-opacity="0.74"/><rect x="253.6" y="334.6" width="1.05" height="107.3" fill="url(#g7_1)" fill-opacity="0.42"/><rect x="254.6" y="334.6" width="1.05" height="107.3" fill="url(#g7_1)" fill-opacity="0.20"/><rect x="255.6" y="334.6" width="1.05" height="107.3" fill="url(#g7_1)" fill-opacity="0.06"/><rect x="256.6" y="334.6" width="1.05" height="107.3" fill="url(#g7_1)" fill-opacity="0.28"/><rect x="257.6" y="334.6" width="1.05" height="107.3" fill="url(#g7_1)" fill-opacity="0.58"/><rect x="258.6" y="334.6" width="1.05" height="107.3" fill="url(#g7_1)" fill-opacity="0.74"/><rect x="259.6" y="334.6" width="1.05" height="107.3" fill="url(#g7_1)" fill-opacity="0.68"/><rect x="260.6" y="334.6" width="1.05" height="107.3" fill="url(#g7_1)" fill-opacity="0.94"/><rect x="261.6" y="334.6" width="1.05" height="107.3" fill="url(#g7_1)" fill-opacity="0.74"/><rect x="262.6" y="334.6" width="1.05" height="107.3" fill="url(#g7_1)" fill-opacity="0.84"/><rect x="263.6" y="334.6" width="1.05" height="107.3" fill="url(#g7_1)"/><rect x="264.6" y="334.6" width="1.05" height="107.3" fill="url(#g7_1)" fill-opacity="0.76"/><rect x="265.6" y="334.6" width="1.05" height="107.3" fill="url(#g7_1)" fill-opacity="0.38"/><rect x="266.6" y="334.6" width="1.05" height="107.3" fill="url(#g7_1)" fill-opacity="0.18"/><rect x="267.6" y="334.6" width="1.05" height="107.3" fill="url(#g7_1)" fill-opacity="0.08"/><rect x="268.6" y="334.6" width="1.05" height="107.3" fill="url(#g7_1)" fill-opacity="0.24"/><rect x="269.6" y="334.6" width="1.05" height="107.3" fill="url(#g7_1)" fill-opacity="0.76"/><rect x="270.6" y="334.6" width="1.05" height="107.3" fill="url(#g7_1)" fill-opacity="0.90"/><rect x="271.6" y="334.6" width="1.05" height="107.3" fill="url(#g7_1)"/><rect x="272.6" y="334.6" width="1.05" height="107.3" fill="url(#g7_1)" fill-opacity="0.72"/><rect x="273.6" y="334.6" width="1.05" height="107.3" fill="url(#g7_1)" fill-opacity="0.90"/><rect x="274.6" y="334.6" width="1.05" height="107.3" fill="url(#g7_1)" fill-opacity="0.88"/><rect x="275.6" y="334.6" width="1.05" height="107.3" fill="url(#g7_1)" fill-opacity="0.76"/><rect x="276.6" y="334.6" width="1.05" height="107.3" fill="url(#g7_1)" fill-opacity="0.24"/><rect x="277.6" y="334.6" width="1.05" height="107.3" fill="url(#g7_1)" fill-opacity="0.08"/><rect x="278.6" y="334.6" width="1.05" height="107.3" fill="url(#g7_1)" fill-opacity="0.04"/><rect x="279.6" y="334.6" width="1.05" height="107.3" fill="url(#g7_1)" fill-opacity="0.08"/><rect x="280.6" y="334.6" width="1.05" height="107.3" fill="url(#g7_1)" fill-opacity="0.32"/><rect x="281.6" y="334.6" width="1.05" height="107.3" fill="url(#g7_1)" fill-opacity="0.66"/><rect x="282.6" y="334.6" width="1.05" height="107.3" fill="url(#g7_1)" fill-opacity="0.84"/><rect x="283.6" y="334.6" width="1.05" height="107.3" fill="url(#g7_1)" fill-opacity="0.82"/><rect x="284.6" y="334.6" width="1.05" height="107.3" fill="url(#g7_1)" fill-opacity="0.86"/><rect x="285.6" y="334.6" width="1.05" height="107.3" fill="url(#g7_1)" fill-opacity="0.98"/><rect x="286.6" y="334.6" width="1.05" height="107.3" fill="url(#g7_1)" fill-opacity="0.96"/><rect x="287.6" y="334.6" width="1.05" height="107.3" fill="url(#g7_1)" fill-opacity="0.82"/><rect x="288.6" y="334.6" width="1.05" height="107.3" fill="url(#g7_1)" fill-opacity="0.24"/><rect x="289.6" y="334.6" width="1.05" height="107.3" fill="url(#g7_1)" fill-opacity="0.06"/><rect x="290.6" y="334.6" width="1.05" height="107.3" fill="url(#g7_1)" fill-opacity="0.20"/><rect x="291.6" y="334.6" width="1.05" height="107.3" fill="url(#g7_1)" fill-opacity="0.48"/><rect x="292.6" y="334.6" width="1.05" height="107.3" fill="url(#g7_1)" fill-opacity="0.84"/><rect x="293.6" y="334.6" width="1.05" height="107.3" fill="url(#g7_1)" fill-opacity="0.78"/><rect x="294.6" y="334.6" width="1.05" height="107.3" fill="url(#g7_1)" fill-opacity="0.92"/><rect x="295.6" y="334.6" width="1.05" height="107.3" fill="url(#g7_1)" fill-opacity="0.90"/><rect x="296.6" y="334.6" width="1.05" height="107.3" fill="url(#g7_1)" fill-opacity="0.86"/><rect x="297.6" y="334.6" width="1.05" height="107.3" fill="url(#g7_1)"/><rect x="298.6" y="334.6" width="1.05" height="107.3" fill="url(#g7_1)" fill-opacity="0.66"/><rect x="299.6" y="334.6" width="1.05" height="107.3" fill="url(#g7_1)" fill-opacity="0.52"/><rect x="300.6" y="334.6" width="1.05" height="107.3" fill="url(#g7_1)" fill-opacity="0.16"/><rect x="301.6" y="334.6" width="1.05" height="107.3" fill="url(#g7_1)" fill-opacity="0.08"/><rect x="302.6" y="334.6" width="1.05" height="107.3" fill="url(#g7_1)" fill-opacity="0.16"/><rect x="303.6" y="334.6" width="1.05" height="107.3" fill="url(#g7_1)" fill-opacity="0.64"/><rect x="304.6" y="334.6" width="1.05" height="107.3" fill="url(#g7_1)" fill-opacity="0.62"/><rect x="305.6" y="334.6" width="1.05" height="107.3" fill="url(#g7_1)"/><rect x="306.6" y="334.6" width="1.05" height="107.3" fill="url(#g7_1)" fill-opacity="0.78"/><rect x="307.6" y="334.6" width="1.05" height="107.3" fill="url(#g7_1)" fill-opacity="0.68"/><rect x="308.6" y="334.6" width="1.05" height="107.3" fill="url(#g7_1)" fill-opacity="0.92"/><rect x="309.6" y="334.6" width="1.05" height="107.3" fill="url(#g7_1)" fill-opacity="0.88"/><rect x="310.6" y="334.6" width="1.05" height="107.3" fill="url(#g7_1)" fill-opacity="0.64"/><rect x="311.6" y="334.6" width="1.05" height="107.3" fill="url(#g7_1)" fill-opacity="0.38"/><rect x="312.6" y="334.6" width="1.05" height="107.3" fill="url(#g7_1)" fill-opacity="0.12"/><rect x="313.6" y="334.6" width="1.05" height="107.3" fill="url(#g7_1)" fill-opacity="0.10"/><rect x="314.6" y="334.6" width="1.05" height="107.3" fill="url(#g7_1)" fill-opacity="0.26"/><rect x="315.6" y="334.6" width="1.05" height="107.3" fill="url(#g7_1)" fill-opacity="0.46"/><rect x="316.6" y="334.6" width="1.05" height="107.3" fill="url(#g7_1)" fill-opacity="0.84"/><rect x="317.6" y="334.6" width="1.05" height="107.3" fill="url(#g7_1)"/><rect x="318.6" y="334.6" width="1.05" height="107.3" fill="url(#g7_1)" fill-opacity="0.66"/><rect x="319.6" y="334.6" width="2.05" height="107.3" fill="url(#g7_1)" fill-opacity="0.94"/><rect x="321.6" y="334.6" width="1.05" height="107.3" fill="url(#g7_1)" fill-opacity="0.78"/><rect x="322.6" y="334.6" width="1.05" height="107.3" fill="url(#g7_1)" fill-opacity="0.88"/><rect x="323.6" y="334.6" width="1.05" height="107.3" fill="url(#g7_1)" fill-opacity="0.62"/><rect x="324.6" y="334.6" width="1.05" height="107.3" fill="url(#g7_1)" fill-opacity="0.52"/><rect x="325.6" y="334.6" width="1.05" height="107.3" fill="url(#g7_1)" fill-opacity="0.22"/><rect x="326.6" y="334.6" width="0.45" height="107.3" fill="url(#g7_1)" fill-opacity="0.02"/><rect x="223.6" y="334.6" width="1.05" height="107.3" fill="url(#g7_2)" fill-opacity="0.02"/><rect x="224.6" y="334.6" width="1.05" height="107.3" fill="url(#g7_2)" fill-opacity="0.68"/><rect x="225.6" y="334.6" width="1.05" height="107.3" fill="url(#g7_2)" fill-opacity="0.96"/><rect x="226.6" y="334.6" width="1.05" height="107.3" fill="url(#g7_2)" fill-opacity="0.32"/><rect x="227.6" y="334.6" width="1.05" height="107.3" fill="url(#g7_2)" fill-opacity="0.02"/><rect x="204.6" y="334.6" width="2.05" height="107.3" fill="url(#g7_3)"/><rect x="206.6" y="334.6" width="1.05" height="107.3" fill="url(#g7_3)" fill-opacity="0.80"/></g>
<rect x="276.9" y="338.5" width="45.7" height="21.0" fill="#12a08a" fill-opacity="0.85"/>
<text transform="translate(281.10 348.30) scale(0.1000 0.1000)" font-size="72.0" style="fill:#fff">Levenshtein</text>
<text transform="translate(281.10 355.40) scale(0.1000 0.1000)" font-size="72.0" style="fill:#fff">distance: 15</text>
<rect x="330.3" y="334.6" width="6.7" height="107.3" fill="url(#cb)"/>
<text transform="translate(340.20 436.65) scale(0.1000 0.1000)" font-size="70.0">0</text>
<text transform="translate(340.20 418.89) scale(0.1000 0.1000)" font-size="70.0">10</text>
<text transform="translate(340.20 401.13) scale(0.1000 0.1000)" font-size="70.0">20</text>
<text transform="translate(340.20 383.37) scale(0.1000 0.1000)" font-size="70.0">30</text>
<text transform="translate(340.20 365.61) scale(0.1000 0.1000)" font-size="70.0">40</text>
<text transform="translate(340.20 347.85) scale(0.1000 0.1000)" font-size="70.0">50</text>
<text transform="translate(354.90 389.85) rotate(-90) scale(0.1000 0.1000)" font-size="72.5" text-anchor="middle">Power spectral density, dB</text>
<text transform="translate(273.20 331.00) scale(0.1000 0.1000)" font-size="70.0" text-anchor="middle" textLength="699" lengthAdjust="spacingAndGlyphs">wFBGs 40 kHz amplified</text>
<text transform="translate(201.70 444.30) scale(0.1000 0.1000)" font-size="70.0" text-anchor="end">0</text>
<text transform="translate(201.70 422.84) scale(0.1000 0.1000)" font-size="70.0" text-anchor="end">1</text>
<text transform="translate(201.70 401.38) scale(0.1000 0.1000)" font-size="70.0" text-anchor="end">2</text>
<text transform="translate(201.70 379.92) scale(0.1000 0.1000)" font-size="70.0" text-anchor="end">3</text>
<text transform="translate(201.70 358.46) scale(0.1000 0.1000)" font-size="70.0" text-anchor="end">4</text>
<text transform="translate(201.70 337.00) scale(0.1000 0.1000)" font-size="70.0" text-anchor="end">5</text>
<text transform="translate(194.10 392.95) rotate(-90) scale(0.1000 0.1000)" font-size="70.0" text-anchor="middle">Frequency, kHz</text>
<text transform="translate(206.45 450.20) scale(0.1000 0.1000)" font-size="70.0" text-anchor="middle">0</text>
<text transform="translate(218.85 450.20) scale(0.1000 0.1000)" font-size="70.0" text-anchor="middle">5</text>
<text transform="translate(232.25 450.20) scale(0.1000 0.1000)" font-size="70.0" text-anchor="middle">10</text>
<text transform="translate(246.15 450.20) scale(0.1000 0.1000)" font-size="70.0" text-anchor="middle">15</text>
<text transform="translate(260.75 450.20) scale(0.1000 0.1000)" font-size="70.0" text-anchor="middle">20</text>
<text transform="translate(275.25 450.20) scale(0.1000 0.1000)" font-size="70.0" text-anchor="middle">25</text>
<text transform="translate(290.05 450.20) scale(0.1000 0.1000)" font-size="70.0" text-anchor="middle">30</text>
<text transform="translate(304.35 450.20) scale(0.1000 0.1000)" font-size="70.0" text-anchor="middle">35</text>
<text transform="translate(318.45 450.20) scale(0.1000 0.1000)" font-size="70.0" text-anchor="middle">40</text>
<text transform="translate(263.30 457.20) scale(0.1000 0.1000)" font-size="72.0" text-anchor="middle">Time, s</text>
<text transform="translate(269.80 475.40) scale(0.1000 0.1000)" font-size="100.0" text-anchor="middle" style="fill:#111">(<tspan font-weight="bold">h</tspan>)</text>
<g filter="url(#f8)"><rect x="389.6" y="334.6" width="122.4" height="107.3" fill="url(#g8_0)"/><rect x="398.6" y="334.6" width="1.05" height="107.3" fill="url(#g8_1)" fill-opacity="0.14"/><rect x="399.6" y="334.6" width="1.05" height="107.3" fill="url(#g8_1)" fill-opacity="0.52"/><rect x="400.6" y="334.6" width="2.05" height="107.3" fill="url(#g8_1)" fill-opacity="0.96"/><rect x="402.6" y="334.6" width="1.05" height="107.3" fill="url(#g8_1)" fill-opacity="0.86"/><rect x="403.6" y="334.6" width="1.05" height="107.3" fill="url(#g8_1)" fill-opacity="0.78"/><rect x="404.6" y="334.6" width="1.05" height="107.3" fill="url(#g8_1)" fill-opacity="0.94"/><rect x="405.6" y="334.6" width="1.05" height="107.3" fill="url(#g8_1)" fill-opacity="0.90"/><rect x="406.6" y="334.6" width="1.05" height="107.3" fill="url(#g8_1)" fill-opacity="0.50"/><rect x="407.6" y="334.6" width="1.05" height="107.3" fill="url(#g8_1)" fill-opacity="0.16"/><rect x="408.6" y="334.6" width="1.05" height="107.3" fill="url(#g8_1)" fill-opacity="0.28"/><rect x="409.6" y="334.6" width="1.05" height="107.3" fill="url(#g8_1)" fill-opacity="0.52"/><rect x="410.6" y="334.6" width="1.05" height="107.3" fill="url(#g8_1)" fill-opacity="0.90"/><rect x="411.6" y="334.6" width="1.05" height="107.3" fill="url(#g8_1)"/><rect x="412.6" y="334.6" width="1.05" height="107.3" fill="url(#g8_1)" fill-opacity="0.84"/><rect x="413.6" y="334.6" width="1.05" height="107.3" fill="url(#g8_1)" fill-opacity="0.86"/><rect x="414.6" y="334.6" width="1.05" height="107.3" fill="url(#g8_1)" fill-opacity="0.98"/><rect x="415.6" y="334.6" width="1.05" height="107.3" fill="url(#g8_1)" fill-opacity="0.64"/><rect x="416.6" y="334.6" width="1.05" height="107.3" fill="url(#g8_1)" fill-opacity="0.28"/><rect x="417.6" y="334.6" width="1.05" height="107.3" fill="url(#g8_1)" fill-opacity="0.18"/><rect x="418.6" y="334.6" width="1.05" height="107.3" fill="url(#g8_1)" fill-opacity="0.58"/><rect x="419.6" y="334.6" width="1.05" height="107.3" fill="url(#g8_1)" fill-opacity="0.72"/><rect x="420.6" y="334.6" width="1.05" height="107.3" fill="url(#g8_1)" fill-opacity="0.90"/><rect x="421.6" y="334.6" width="1.05" height="107.3" fill="url(#g8_1)"/><rect x="422.6" y="334.6" width="1.05" height="107.3" fill="url(#g8_1)" fill-opacity="0.66"/><rect x="423.6" y="334.6" width="1.05" height="107.3" fill="url(#g8_1)" fill-opacity="0.82"/><rect x="424.6" y="334.6" width="1.05" height="107.3" fill="url(#g8_1)" fill-opacity="0.20"/><rect x="425.6" y="334.6" width="1.05" height="107.3" fill="url(#g8_1)" fill-opacity="0.16"/><rect x="426.6" y="334.6" width="1.05" height="107.3" fill="url(#g8_1)" fill-opacity="0.42"/><rect x="427.6" y="334.6" width="1.05" height="107.3" fill="url(#g8_1)" fill-opacity="0.66"/><rect x="428.6" y="334.6" width="1.05" height="107.3" fill="url(#g8_1)" fill-opacity="0.88"/><rect x="429.6" y="334.6" width="1.05" height="107.3" fill="url(#g8_1)"/><rect x="430.6" y="334.6" width="1.05" height="107.3" fill="url(#g8_1)" fill-opacity="0.88"/><rect x="431.6" y="334.6" width="1.05" height="107.3" fill="url(#g8_1)" fill-opacity="0.60"/><rect x="432.6" y="334.6" width="1.05" height="107.3" fill="url(#g8_1)" fill-opacity="0.86"/><rect x="433.6" y="334.6" width="1.05" height="107.3" fill="url(#g8_1)" fill-opacity="0.58"/><rect x="434.6" y="334.6" width="1.05" height="107.3" fill="url(#g8_1)" fill-opacity="0.18"/><rect x="435.6" y="334.6" width="1.05" height="107.3" fill="url(#g8_1)" fill-opacity="0.22"/><rect x="436.6" y="334.6" width="1.05" height="107.3" fill="url(#g8_1)" fill-opacity="0.64"/><rect x="437.6" y="334.6" width="1.05" height="107.3" fill="url(#g8_1)" fill-opacity="0.62"/><rect x="438.6" y="334.6" width="1.05" height="107.3" fill="url(#g8_1)" fill-opacity="0.80"/><rect x="439.6" y="334.6" width="1.05" height="107.3" fill="url(#g8_1)"/><rect x="440.6" y="334.6" width="1.05" height="107.3" fill="url(#g8_1)" fill-opacity="0.98"/><rect x="441.6" y="334.6" width="1.05" height="107.3" fill="url(#g8_1)" fill-opacity="0.92"/><rect x="442.6" y="334.6" width="1.05" height="107.3" fill="url(#g8_1)" fill-opacity="0.62"/><rect x="443.6" y="334.6" width="1.05" height="107.3" fill="url(#g8_1)" fill-opacity="0.26"/><rect x="444.6" y="334.6" width="1.05" height="107.3" fill="url(#g8_1)" fill-opacity="0.16"/><rect x="445.6" y="334.6" width="1.05" height="107.3" fill="url(#g8_1)" fill-opacity="0.44"/><rect x="446.6" y="334.6" width="1.05" height="107.3" fill="url(#g8_1)" fill-opacity="0.74"/><rect x="447.6" y="334.6" width="1.05" height="107.3" fill="url(#g8_1)" fill-opacity="0.78"/><rect x="448.6" y="334.6" width="1.05" height="107.3" fill="url(#g8_1)" fill-opacity="0.92"/><rect x="449.6" y="334.6" width="1.05" height="107.3" fill="url(#g8_1)" fill-opacity="0.74"/><rect x="450.6" y="334.6" width="1.05" height="107.3" fill="url(#g8_1)" fill-opacity="0.68"/><rect x="451.6" y="334.6" width="1.05" height="107.3" fill="url(#g8_1)" fill-opacity="0.44"/><rect x="452.6" y="334.6" width="1.05" height="107.3" fill="url(#g8_1)" fill-opacity="0.06"/><rect x="453.6" y="334.6" width="1.05" height="107.3" fill="url(#g8_2)" fill-opacity="0.02"/><rect x="454.6" y="334.6" width="1.05" height="107.3" fill="url(#g8_2)" fill-opacity="0.20"/><rect x="455.6" y="334.6" width="1.05" height="107.3" fill="url(#g8_2)" fill-opacity="0.60"/><rect x="456.6" y="334.6" width="1.05" height="107.3" fill="url(#g8_2)" fill-opacity="0.78"/><rect x="457.6" y="334.6" width="3.05" height="107.3" fill="url(#g8_2)" fill-opacity="0.80"/><rect x="460.6" y="334.6" width="1.05" height="107.3" fill="url(#g8_2)" fill-opacity="0.78"/><rect x="461.6" y="334.6" width="1.05" height="107.3" fill="url(#g8_2)" fill-opacity="0.60"/><rect x="462.6" y="334.6" width="1.05" height="107.3" fill="url(#g8_2)" fill-opacity="0.20"/><rect x="463.6" y="334.6" width="1.05" height="107.3" fill="url(#g8_2)" fill-opacity="0.02"/><rect x="465.6" y="334.6" width="1.05" height="107.3" fill="url(#g8_2)" fill-opacity="0.06"/><rect x="466.6" y="334.6" width="1.05" height="107.3" fill="url(#g8_2)" fill-opacity="0.28"/><rect x="467.6" y="334.6" width="1.05" height="107.3" fill="url(#g8_2)" fill-opacity="0.64"/><rect x="468.6" y="334.6" width="1.05" height="107.3" fill="url(#g8_2)" fill-opacity="0.78"/><rect x="469.6" y="334.6" width="10.05" height="107.3" fill="url(#g8_2)" fill-opacity="0.80"/><rect x="479.6" y="334.6" width="1.05" height="107.3" fill="url(#g8_2)" fill-opacity="0.78"/><rect x="480.6" y="334.6" width="1.05" height="107.3" fill="url(#g8_2)" fill-opacity="0.60"/><rect x="481.6" y="334.6" width="1.05" height="107.3" fill="url(#g8_2)" fill-opacity="0.20"/><rect x="482.6" y="334.6" width="1.05" height="107.3" fill="url(#g8_2)" fill-opacity="0.02"/><rect x="483.6" y="334.6" width="1.05" height="107.3" fill="url(#g8_2)" fill-opacity="0.10"/><rect x="484.6" y="334.6" width="1.05" height="107.3" fill="url(#g8_2)" fill-opacity="0.40"/><rect x="485.6" y="334.6" width="1.05" height="107.3" fill="url(#g8_2)" fill-opacity="0.70"/><rect x="486.6" y="334.6" width="4.05" height="107.3" fill="url(#g8_2)" fill-opacity="0.80"/><rect x="490.6" y="334.6" width="1.05" height="107.3" fill="url(#g8_2)" fill-opacity="0.70"/><rect x="491.6" y="334.6" width="1.05" height="107.3" fill="url(#g8_2)" fill-opacity="0.44"/><rect x="492.6" y="334.6" width="1.05" height="107.3" fill="url(#g8_2)" fill-opacity="0.12"/><rect x="493.6" y="334.6" width="1.05" height="107.3" fill="url(#g8_2)" fill-opacity="0.02"/><rect x="499.6" y="334.6" width="1.05" height="107.3" fill="url(#g8_2)" fill-opacity="0.10"/><rect x="500.6" y="334.6" width="1.05" height="107.3" fill="url(#g8_2)" fill-opacity="0.30"/><rect x="501.6" y="334.6" width="1.05" height="107.3" fill="url(#g8_2)" fill-opacity="0.38"/><rect x="502.6" y="334.6" width="1.05" height="107.3" fill="url(#g8_2)" fill-opacity="0.34"/><rect x="503.6" y="334.6" width="1.05" height="107.3" fill="url(#g8_2)" fill-opacity="0.18"/><rect x="504.6" y="334.6" width="1.05" height="107.3" fill="url(#g8_2)" fill-opacity="0.04"/><rect x="396.6" y="334.6" width="1.05" height="107.3" fill="url(#g8_3)" fill-opacity="0.02"/><rect x="397.6" y="334.6" width="1.05" height="107.3" fill="url(#g8_3)" fill-opacity="0.58"/><rect x="398.6" y="334.6" width="1.05" height="107.3" fill="url(#g8_3)" fill-opacity="0.46"/><rect x="399.6" y="334.6" width="1.05" height="107.3" fill="url(#g8_3)" fill-opacity="0.02"/><rect x="408.6" y="334.6" width="1.05" height="107.3" fill="url(#g8_3)" fill-opacity="0.02"/><rect x="409.6" y="334.6" width="1.05" height="107.3" fill="url(#g8_3)" fill-opacity="0.42"/><rect x="410.6" y="334.6" width="1.05" height="107.3" fill="url(#g8_3)" fill-opacity="0.66"/><rect x="411.6" y="334.6" width="1.05" height="107.3" fill="url(#g8_3)" fill-opacity="0.16"/><rect x="454.6" y="334.6" width="1.05" height="107.3" fill="url(#g8_3)" fill-opacity="0.02"/><rect x="455.6" y="334.6" width="1.05" height="107.3" fill="url(#g8_3)" fill-opacity="0.48"/><rect x="456.6" y="334.6" width="7.05" height="107.3" fill="url(#g8_3)" fill-opacity="0.50"/><rect x="463.6" y="334.6" width="1.05" height="107.3" fill="url(#g8_3)" fill-opacity="0.48"/><rect x="464.6" y="334.6" width="1.05" height="107.3" fill="url(#g8_3)" fill-opacity="0.02"/><rect x="469.6" y="334.6" width="1.05" height="107.3" fill="url(#g8_3)" fill-opacity="0.02"/><rect x="470.6" y="334.6" width="1.05" height="107.3" fill="url(#g8_3)" fill-opacity="0.68"/><rect x="471.6" y="334.6" width="1.05" height="107.3" fill="url(#g8_3)" fill-opacity="0.98"/><rect x="472.6" y="334.6" width="2.05" height="107.3" fill="url(#g8_3)"/><rect x="474.6" y="334.6" width="1.05" height="107.3" fill="url(#g8_3)" fill-opacity="0.96"/><rect x="475.6" y="334.6" width="1.05" height="107.3" fill="url(#g8_3)" fill-opacity="0.04"/><rect x="389.6" y="334.6" width="1.05" height="107.3" fill="url(#g8_4)" fill-opacity="0.80"/><rect x="390.6" y="334.6" width="1.05" height="107.3" fill="url(#g8_4)" fill-opacity="0.40"/></g>
<rect x="462.3" y="338.8" width="45.5" height="21.0" fill="#12a08a" fill-opacity="0.85"/>
<text transform="translate(466.50 348.60) scale(0.1000 0.1000)" font-size="72.0" style="fill:#fff">Levenshtein</text>
<text transform="translate(466.50 355.70) scale(0.1000 0.1000)" font-size="72.0" style="fill:#fff">distance: 26</text>
<rect x="515.3" y="334.6" width="6.7" height="107.3" fill="url(#cb)"/>
<text transform="translate(525.20 436.05) scale(0.1000 0.1000)" font-size="70.0">0</text>
<text transform="translate(525.20 418.29) scale(0.1000 0.1000)" font-size="70.0">10</text>
<text transform="translate(525.20 400.53) scale(0.1000 0.1000)" font-size="70.0">20</text>
<text transform="translate(525.20 382.77) scale(0.1000 0.1000)" font-size="70.0">30</text>
<text transform="translate(525.20 365.01) scale(0.1000 0.1000)" font-size="70.0">40</text>
<text transform="translate(525.20 347.25) scale(0.1000 0.1000)" font-size="70.0">50</text>
<text transform="translate(539.90 389.85) rotate(-90) scale(0.1000 0.1000)" font-size="72.5" text-anchor="middle">Power spectral density, dB</text>
<text transform="translate(453.70 331.00) scale(0.1000 0.1000)" font-size="70.0" text-anchor="middle" textLength="814" lengthAdjust="spacingAndGlyphs">wFBGs 40 kHz not amplified</text>
<text transform="translate(386.70 444.30) scale(0.1000 0.1000)" font-size="70.0" text-anchor="end">0</text>
<text transform="translate(386.70 422.84) scale(0.1000 0.1000)" font-size="70.0" text-anchor="end">1</text>
<text transform="translate(386.70 401.38) scale(0.1000 0.1000)" font-size="70.0" text-anchor="end">2</text>
<text transform="translate(386.70 379.92) scale(0.1000 0.1000)" font-size="70.0" text-anchor="end">3</text>
<text transform="translate(386.70 358.46) scale(0.1000 0.1000)" font-size="70.0" text-anchor="end">4</text>
<text transform="translate(386.70 337.00) scale(0.1000 0.1000)" font-size="70.0" text-anchor="end">5</text>
<text transform="translate(379.10 392.95) rotate(-90) scale(0.1000 0.1000)" font-size="70.0" text-anchor="middle">Frequency, kHz</text>
<text transform="translate(391.45 450.20) scale(0.1000 0.1000)" font-size="70.0" text-anchor="middle">0</text>
<text transform="translate(403.85 450.20) scale(0.1000 0.1000)" font-size="70.0" text-anchor="middle">5</text>
<text transform="translate(417.25 450.20) scale(0.1000 0.1000)" font-size="70.0" text-anchor="middle">10</text>
<text transform="translate(431.15 450.20) scale(0.1000 0.1000)" font-size="70.0" text-anchor="middle">15</text>
<text transform="translate(445.75 450.20) scale(0.1000 0.1000)" font-size="70.0" text-anchor="middle">20</text>
<text transform="translate(460.25 450.20) scale(0.1000 0.1000)" font-size="70.0" text-anchor="middle">25</text>
<text transform="translate(475.05 450.20) scale(0.1000 0.1000)" font-size="70.0" text-anchor="middle">30</text>
<text transform="translate(489.35 450.20) scale(0.1000 0.1000)" font-size="70.0" text-anchor="middle">35</text>
<text transform="translate(503.45 450.20) scale(0.1000 0.1000)" font-size="70.0" text-anchor="middle">40</text>
<text transform="translate(448.30 457.20) scale(0.1000 0.1000)" font-size="72.0" text-anchor="middle">Time, s</text>
<text transform="translate(454.80 475.40) scale(0.1000 0.1000)" font-size="100.0" text-anchor="middle" style="fill:#111">(<tspan font-weight="bold">i</tspan>)</text>
</svg></body></html>
